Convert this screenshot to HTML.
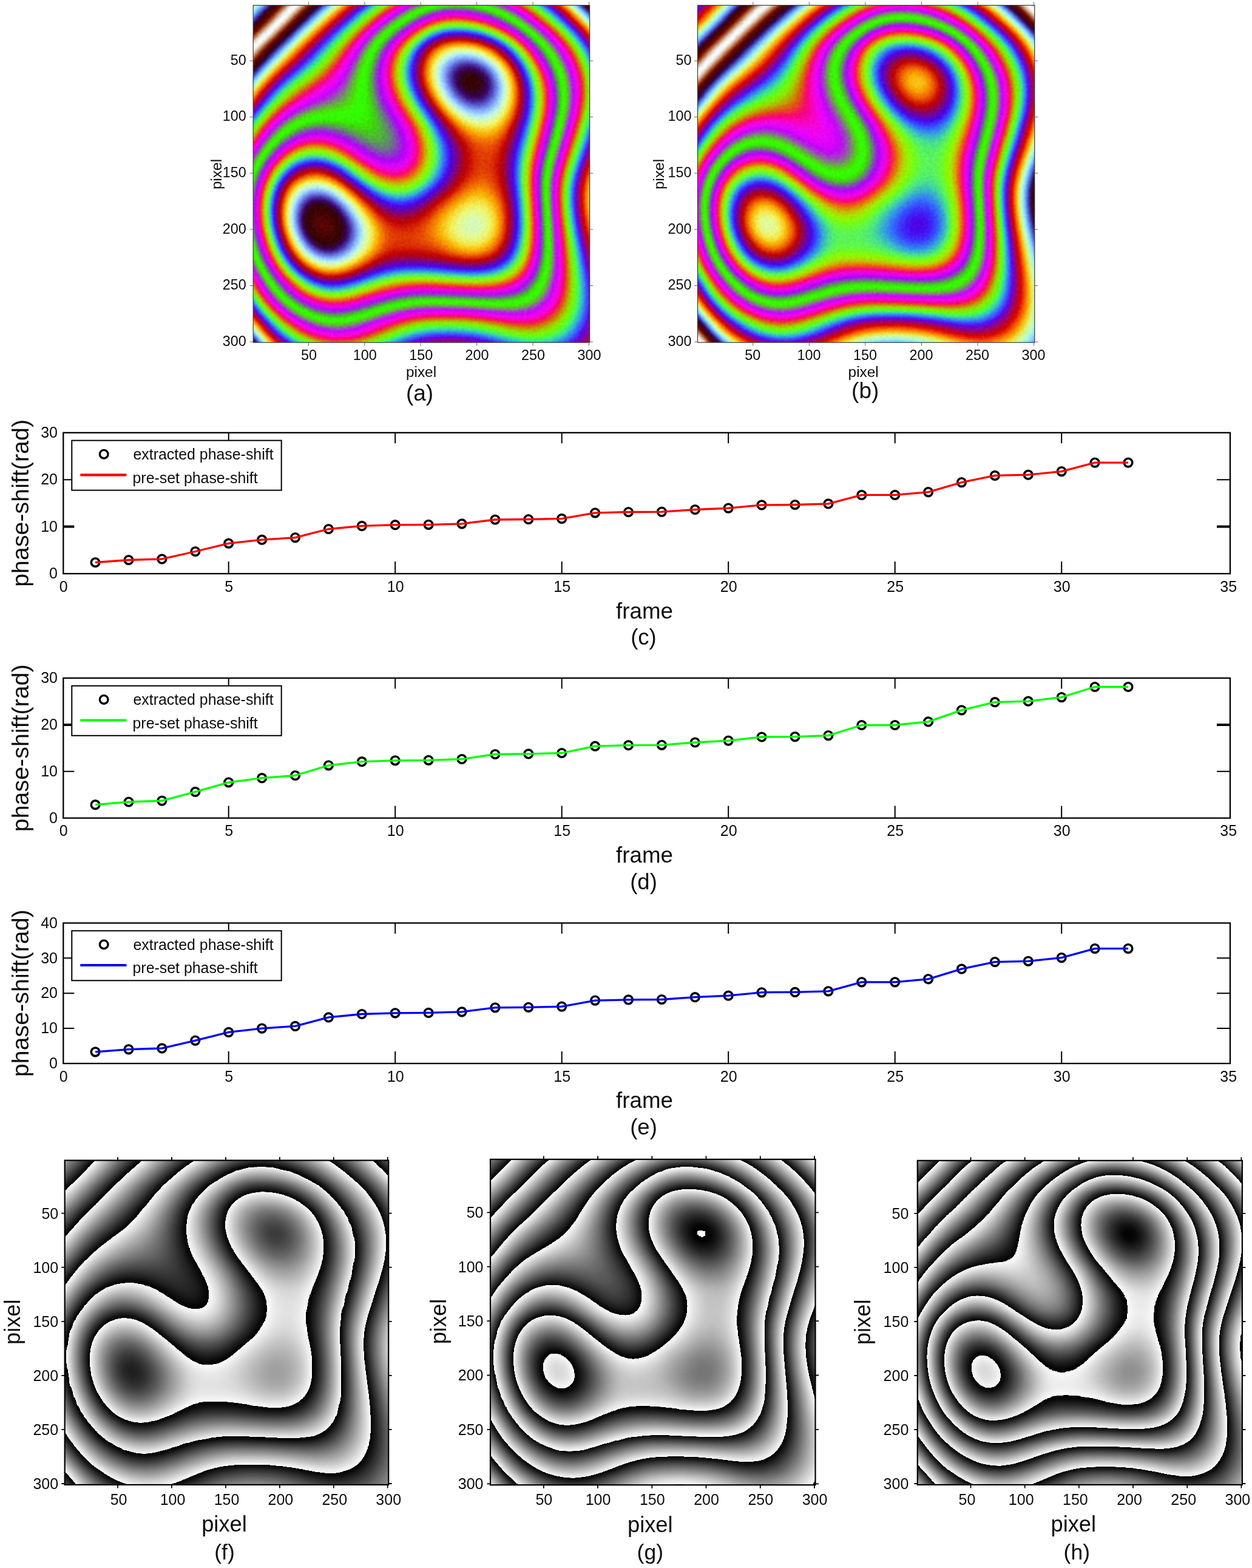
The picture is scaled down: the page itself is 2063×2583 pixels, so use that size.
<!DOCTYPE html><html lang="en"><head><meta charset="utf-8"><title>Phase-shift extraction figure</title><style>
html,body{margin:0;padding:0;background:#fff}body{width:2063px;height:2583px;position:relative;overflow:hidden;font-family:"Liberation Sans", Arial, Helvetica, sans-serif}
.pn{position:absolute;overflow:hidden;background:#888}
svg.ov{position:absolute;left:0;top:0}
.hm{position:absolute;background-image:linear-gradient(90deg,#ffffff,#ffffff,#ffffff,#ffffff,#ffffff,#ffffff,#ffffff,#ffffff,#ffffff,#fffff6,#ffffec,#ffffe1,#ffffd7,#ffffcd,#ffffc2,#ffffb8,#ffffad,#ffffa3,#ffff98,#ffff8e,#ffff84,#ffff7a,#ffff70,#ffff66,#ffff5c,#ffff53,#ffff49,#ffff40,#ffff36,#ffff2d,#ffff24,#ffff1b,#ffff12,#ffff09,#ffff00,#fff600,#ffee00,#ffe500,#ffdd00,#ffd400,#ffcc00,#ffc400,#ffbc00,#ffb400,#ffad00,#ffa500,#ff9e00,#ff9700,#ff9100,#ff8b00,#ff8500,#ff8000,#ff7b00,#ff7700,#ff7300,#ff7000,#ff6e00,#ff6d00,#ff6c00,#ff6b00,#ff6c00,#ff6d00,#ff6f00,#ff7100,#ff7400,#ff7700,#ff7b00,#ff8000,#ff8500,#ff8a00,#ff9000,#ff9600,#ff9d00,#ffa400,#ffac00,#ffb300,#ffbc00,#ffc400,#ffcd00,#ffd600,#ffdf00,#ffe900,#fff200,#fffc00,#ffff07,#ffff12,#ffff1c,#ffff27,#ffff32,#ffff3d,#ffff48,#ffff53,#ffff5d,#ffff68,#ffff72,#ffff7c,#ffff86,#ffff8f,#ffff99,#ffffa2),linear-gradient(90deg,#ffffff,#ffffff,#ffffff,#ffffff,#ffffff,#ffffff,#ffffff,#ffffff,#fffff6,#ffffec,#ffffe2,#ffffd7,#ffffcd,#ffffc2,#ffffb8,#ffffad,#ffffa2,#ffff98,#ffff8d,#ffff83,#ffff78,#ffff6e,#ffff64,#ffff5a,#ffff50,#ffff47,#ffff3d,#ffff34,#ffff2a,#ffff21,#ffff17,#ffff0e,#ffff05,#fffb00,#fff200,#ffe900,#ffe000,#ffd800,#ffcf00,#ffc700,#ffbe00,#ffb600,#ffae00,#ffa600,#ff9e00,#ff9600,#ff8f00,#ff8700,#ff8100,#ff7a00,#ff7400,#ff6f00,#ff6a00,#ff6500,#ff6200,#ff5f00,#ff5c00,#ff5b00,#ff5a00,#ff5900,#ff5a00,#ff5b00,#ff5d00,#ff5f00,#ff6200,#ff6500,#ff6a00,#ff6e00,#ff7300,#ff7900,#ff7f00,#ff8600,#ff8d00,#ff9400,#ff9c00,#ffa400,#ffac00,#ffb500,#ffbe00,#ffc700,#ffd100,#ffda00,#ffe400,#ffee00,#fff900,#ffff04,#ffff0f,#ffff1a,#ffff25,#ffff31,#ffff3c,#ffff47,#ffff52,#ffff5d,#ffff68,#ffff72,#ffff7c,#ffff86,#ffff8f,#ffff99),linear-gradient(90deg,#ffffff,#ffffff,#ffffff,#ffffff,#ffffff,#ffffff,#ffffff,#fffff7,#ffffec,#ffffe2,#ffffd8,#ffffcd,#ffffc3,#ffffb8,#ffffad,#ffffa2,#ffff97,#ffff8d,#ffff82,#ffff77,#ffff6d,#ffff63,#ffff59,#ffff4f,#ffff45,#ffff3b,#ffff31,#ffff28,#ffff1e,#ffff15,#ffff0b,#ffff02,#fff800,#ffee00,#ffe500,#ffdc00,#ffd300,#ffca00,#ffc100,#ffb900,#ffb000,#ffa800,#ff9f00,#ff9700,#ff8f00,#ff8700,#ff7f00,#ff7700,#ff7000,#ff6900,#ff6300,#ff5d00,#ff5800,#ff5400,#ff5000,#ff4c00,#ff4a00,#ff4800,#ff4700,#ff4700,#ff4700,#ff4900,#ff4a00,#ff4d00,#ff5000,#ff5400,#ff5800,#ff5d00,#ff6200,#ff6800,#ff6e00,#ff7500,#ff7c00,#ff8400,#ff8c00,#ff9400,#ff9d00,#ffa600,#ffaf00,#ffb900,#ffc200,#ffcc00,#ffd600,#ffe100,#ffeb00,#fff600,#ffff02,#ffff0d,#ffff19,#ffff24,#ffff30,#ffff3c,#ffff47,#ffff52,#ffff5d,#ffff68,#ffff72,#ffff7c,#ffff85,#ffff8f),linear-gradient(90deg,#ffffff,#ffffff,#ffffff,#ffffff,#ffffff,#ffffff,#fffff7,#ffffed,#ffffe3,#ffffd8,#ffffce,#ffffc3,#ffffb8,#ffffad,#ffffa2,#ffff97,#ffff8c,#ffff81,#ffff77,#ffff6c,#ffff62,#ffff57,#ffff4d,#ffff43,#ffff39,#ffff2f,#ffff25,#ffff1c,#ffff12,#ffff08,#fffe00,#fff400,#ffeb00,#ffe200,#ffd800,#ffcf00,#ffc600,#ffbd00,#ffb400,#ffab00,#ffa200,#ff9900,#ff9100,#ff8800,#ff8000,#ff7700,#ff6f00,#ff6700,#ff6000,#ff5900,#ff5200,#ff4c00,#ff4700,#ff4200,#ff3e00,#ff3a00,#ff3800,#ff3600,#ff3500,#ff3400,#ff3500,#ff3600,#ff3800,#ff3a00,#ff3e00,#ff4100,#ff4600,#ff4b00,#ff5000,#ff5600,#ff5d00,#ff6400,#ff6b00,#ff7300,#ff7b00,#ff8400,#ff8d00,#ff9600,#ffa000,#ffaa00,#ffb400,#ffbe00,#ffc800,#ffd200,#ffdd00,#ffe800,#fff300,#ffff00,#ffff0c,#ffff17,#ffff24,#ffff30,#ffff3c,#ffff48,#ffff53,#ffff5d,#ffff67,#ffff71,#ffff7b,#ffff85),linear-gradient(90deg,#ffffff,#ffffff,#ffffff,#ffffff,#ffffff,#fffff7,#ffffed,#ffffe3,#ffffd9,#ffffce,#ffffc3,#ffffb9,#ffffae,#ffffa2,#ffff97,#ffff8c,#ffff81,#ffff76,#ffff6b,#ffff61,#ffff56,#ffff4c,#ffff41,#ffff37,#ffff2d,#ffff23,#ffff19,#ffff10,#ffff06,#fffb00,#fff200,#ffe800,#ffdf00,#ffd500,#ffcc00,#ffc200,#ffb900,#ffaf00,#ffa600,#ff9d00,#ff9400,#ff8b00,#ff8200,#ff7900,#ff7000,#ff6800,#ff5f00,#ff5700,#ff4f00,#ff4800,#ff4100,#ff3b00,#ff3500,#ff3000,#ff2b00,#ff2800,#ff2500,#ff2300,#ff2200,#ff2200,#ff2200,#ff2300,#ff2500,#ff2800,#ff2b00,#ff2f00,#ff3400,#ff3900,#ff3f00,#ff4500,#ff4b00,#ff5300,#ff5a00,#ff6200,#ff6b00,#ff7400,#ff7d00,#ff8700,#ff9100,#ff9b00,#ffa500,#ffaf00,#ffba00,#ffc400,#ffcf00,#ffda00,#ffe600,#fff100,#fffd00,#ffff0a,#ffff17,#ffff23,#ffff30,#ffff3c,#ffff48,#ffff53,#ffff5d,#ffff67,#ffff71,#ffff7b),linear-gradient(90deg,#ffffff,#ffffff,#ffffff,#ffffff,#fffff8,#ffffee,#ffffe3,#ffffd9,#ffffcf,#ffffc4,#ffffb9,#ffffae,#ffffa3,#ffff98,#ffff8c,#ffff81,#ffff76,#ffff6b,#ffff60,#ffff55,#ffff4a,#ffff40,#ffff36,#ffff2b,#ffff21,#ffff17,#ffff0e,#ffff04,#fff900,#ffef00,#ffe600,#ffdc00,#ffd200,#ffc900,#ffbf00,#ffb500,#ffac00,#ffa200,#ff9900,#ff8f00,#ff8600,#ff7d00,#ff7400,#ff6a00,#ff6100,#ff5800,#ff4f00,#ff4700,#ff3f00,#ff3700,#ff3000,#ff2900,#ff2300,#ff1d00,#ff1900,#ff1500,#ff1200,#ff1000,#ff0f00,#ff0f00,#ff0f00,#ff1000,#ff1200,#ff1500,#ff1800,#ff1d00,#ff2100,#ff2700,#ff2c00,#ff3300,#ff3a00,#ff4100,#ff4900,#ff5200,#ff5b00,#ff6400,#ff6d00,#ff7700,#ff8100,#ff8b00,#ff9600,#ffa000,#ffab00,#ffb600,#ffc100,#ffcc00,#ffd800,#ffe400,#fff000,#fffc00,#ffff0a,#ffff17,#ffff24,#ffff30,#ffff3c,#ffff47,#ffff52,#ffff5c,#ffff67,#ffff71),linear-gradient(90deg,#ffffff,#ffffff,#ffffff,#fffff8,#ffffee,#ffffe4,#ffffd9,#ffffcf,#ffffc4,#ffffb9,#ffffae,#ffffa3,#ffff98,#ffff8d,#ffff81,#ffff76,#ffff6b,#ffff60,#ffff54,#ffff4a,#ffff3f,#ffff34,#ffff2a,#ffff20,#ffff16,#ffff0c,#ffff02,#fff700,#ffed00,#ffe400,#ffda00,#ffd000,#ffc600,#ffbc00,#ffb200,#ffa900,#ff9f00,#ff9500,#ff8b00,#ff8200,#ff7800,#ff6e00,#ff6500,#ff5b00,#ff5200,#ff4900,#ff4000,#ff3700,#ff2e00,#ff2600,#ff1f00,#ff1700,#ff1100,#ff0b00,#ff0600,#ff0200,#fe0000,#fc0000,#fb0000,#fa0000,#fb0000,#fc0000,#fe0000,#ff0200,#ff0600,#ff0a00,#ff0e00,#ff1400,#ff1a00,#ff2100,#ff2800,#ff3000,#ff3800,#ff4100,#ff4a00,#ff5300,#ff5d00,#ff6700,#ff7200,#ff7c00,#ff8700,#ff9200,#ff9d00,#ffa800,#ffb300,#ffbe00,#ffca00,#ffd600,#ffe200,#ffee00,#fffb00,#ffff09,#ffff16,#ffff23,#ffff30,#ffff3c,#ffff47,#ffff51,#ffff5c,#ffff67),linear-gradient(90deg,#ffffff,#ffffff,#fffff8,#ffffee,#ffffe4,#ffffda,#ffffcf,#ffffc5,#ffffba,#ffffaf,#ffffa4,#ffff98,#ffff8d,#ffff81,#ffff76,#ffff6b,#ffff5f,#ffff54,#ffff49,#ffff3e,#ffff33,#ffff29,#ffff1e,#ffff14,#ffff0a,#ffff00,#fff500,#ffec00,#ffe200,#ffd800,#ffce00,#ffc400,#ffba00,#ffb000,#ffa600,#ff9c00,#ff9200,#ff8800,#ff7e00,#ff7400,#ff6a00,#ff6000,#ff5600,#ff4c00,#ff4300,#ff3900,#ff3000,#ff2700,#ff1e00,#ff1500,#ff0d00,#ff0600,#fe0000,#f70000,#f20000,#ee0000,#eb0000,#e80000,#e70000,#e70000,#e70000,#e90000,#eb0000,#ee0000,#f10000,#f60000,#fa0000,#ff0100,#ff0700,#ff0e00,#ff1600,#ff1e00,#ff2700,#ff3000,#ff3900,#ff4300,#ff4d00,#ff5800,#ff6200,#ff6d00,#ff7800,#ff8300,#ff8e00,#ff9a00,#ffa500,#ffb000,#ffbc00,#ffc800,#ffd400,#ffe100,#ffee00,#fffb00,#ffff09,#ffff16,#ffff23,#ffff2f,#ffff3b,#ffff46,#ffff51,#ffff5c),linear-gradient(90deg,#ffffff,#fffff8,#ffffee,#ffffe4,#ffffda,#ffffcf,#ffffc5,#ffffba,#ffffaf,#ffffa4,#ffff99,#ffff8d,#ffff82,#ffff76,#ffff6b,#ffff5f,#ffff54,#ffff49,#ffff3e,#ffff33,#ffff28,#ffff1d,#ffff13,#ffff09,#fffe00,#fff400,#ffea00,#ffe000,#ffd600,#ffcd00,#ffc300,#ffb900,#ffaf00,#ffa400,#ff9a00,#ff9000,#ff8600,#ff7b00,#ff7100,#ff6600,#ff5c00,#ff5200,#ff4800,#ff3e00,#ff3400,#ff2a00,#ff2100,#ff1700,#ff0e00,#ff0500,#fb0000,#f30000,#ec0000,#e50000,#df0000,#db0000,#d70000,#d50000,#d40000,#d30000,#d40000,#d50000,#d70000,#da0000,#de0000,#e20000,#e70000,#ed0000,#f40000,#fb0000,#ff0400,#ff0c00,#ff1500,#ff1f00,#ff2800,#ff3300,#ff3d00,#ff4800,#ff5300,#ff5e00,#ff6900,#ff7500,#ff8000,#ff8b00,#ff9700,#ffa300,#ffaf00,#ffbb00,#ffc700,#ffd300,#ffe000,#ffed00,#fffa00,#ffff09,#ffff16,#ffff23,#ffff2f,#ffff3b,#ffff46,#ffff52),linear-gradient(90deg,#fffff8,#ffffee,#ffffe4,#ffffda,#ffffcf,#ffffc5,#ffffba,#ffffaf,#ffffa4,#ffff99,#ffff8d,#ffff82,#ffff76,#ffff6b,#ffff5f,#ffff54,#ffff49,#ffff3d,#ffff32,#ffff27,#ffff1d,#ffff12,#ffff08,#fffd00,#fff300,#ffe900,#ffdf00,#ffd500,#ffcb00,#ffc100,#ffb700,#ffad00,#ffa300,#ff9900,#ff8f00,#ff8400,#ff7a00,#ff6f00,#ff6400,#ff5900,#ff4f00,#ff4400,#ff3a00,#ff3000,#ff2600,#ff1c00,#ff1200,#ff0800,#fd0000,#f40000,#eb0000,#e20000,#da0000,#d30000,#cd0000,#c80000,#c40000,#c20000,#c00000,#c00000,#c00000,#c20000,#c40000,#c70000,#ca0000,#cf0000,#d40000,#da0000,#e10000,#e80000,#f00000,#f90000,#ff0300,#ff0d00,#ff1700,#ff2200,#ff2d00,#ff3800,#ff4400,#ff4f00,#ff5b00,#ff6600,#ff7200,#ff7e00,#ff8900,#ff9500,#ffa100,#ffad00,#ffba00,#ffc600,#ffd300,#ffe000,#ffed00,#fffb00,#ffff09,#ffff16,#ffff23,#ffff2f,#ffff3b,#ffff47),linear-gradient(90deg,#ffffee,#ffffe4,#ffffda,#ffffcf,#ffffc5,#ffffba,#ffffaf,#ffffa4,#ffff99,#ffff8e,#ffff82,#ffff77,#ffff6b,#ffff60,#ffff54,#ffff49,#ffff3d,#ffff32,#ffff27,#ffff1c,#ffff12,#ffff07,#fffc00,#fff200,#ffe800,#ffde00,#ffd400,#ffcb00,#ffc100,#ffb700,#ffad00,#ffa200,#ff9800,#ff8e00,#ff8300,#ff7900,#ff6e00,#ff6300,#ff5800,#ff4d00,#ff4200,#ff3700,#ff2d00,#ff2200,#ff1800,#ff0e00,#ff0300,#f80000,#ee0000,#e40000,#da0000,#d10000,#c80000,#c10000,#ba0000,#b50000,#b10000,#af0000,#ad0000,#ad0000,#ad0000,#ae0000,#b00000,#b30000,#b70000,#bb0000,#c00000,#c70000,#ce0000,#d50000,#de0000,#e70000,#f10000,#fb0000,#ff0600,#ff1200,#ff1d00,#ff2900,#ff3500,#ff4100,#ff4d00,#ff5800,#ff6400,#ff7000,#ff7c00,#ff8800,#ff9400,#ffa000,#ffad00,#ffb900,#ffc600,#ffd300,#ffe100,#ffee00,#fffc00,#ffff0a,#ffff17,#ffff24,#ffff31,#ffff3d),linear-gradient(90deg,#ffffe4,#ffffda,#ffffcf,#ffffc5,#ffffba,#ffffaf,#ffffa4,#ffff99,#ffff8e,#ffff82,#ffff77,#ffff6b,#ffff60,#ffff54,#ffff49,#ffff3e,#ffff32,#ffff27,#ffff1c,#ffff12,#ffff07,#fffc00,#fff200,#ffe800,#ffde00,#ffd400,#ffca00,#ffc000,#ffb600,#ffac00,#ffa200,#ff9800,#ff8e00,#ff8300,#ff7800,#ff6d00,#ff6200,#ff5700,#ff4c00,#ff4100,#ff3600,#ff2b00,#ff2000,#ff1600,#ff0b00,#ff0000,#f40000,#ea0000,#df0000,#d50000,#ca0000,#c00000,#b70000,#af0000,#a90000,#a30000,#9f0000,#9c0000,#9b0000,#9a0000,#9a0000,#9b0000,#9d0000,#a00000,#a30000,#a80000,#ad0000,#b30000,#bb0000,#c20000,#cb0000,#d50000,#df0000,#e90000,#f50000,#ff0100,#ff0d00,#ff1900,#ff2600,#ff3200,#ff3f00,#ff4b00,#ff5700,#ff6300,#ff6f00,#ff7b00,#ff8700,#ff9400,#ffa000,#ffad00,#ffba00,#ffc700,#ffd400,#ffe200,#fff000,#fffd00,#ffff0c,#ffff19,#ffff26,#ffff33),linear-gradient(90deg,#ffffda,#ffffcf,#ffffc5,#ffffba,#ffffaf,#ffffa4,#ffff99,#ffff8e,#ffff82,#ffff77,#ffff6b,#ffff60,#ffff54,#ffff49,#ffff3e,#ffff32,#ffff27,#ffff1c,#ffff12,#ffff07,#fffc00,#fff200,#ffe800,#ffde00,#ffd400,#ffca00,#ffc000,#ffb600,#ffac00,#ffa200,#ff9800,#ff8e00,#ff8300,#ff7900,#ff6e00,#ff6300,#ff5800,#ff4c00,#ff4100,#ff3600,#ff2b00,#ff2000,#ff1500,#ff0a00,#fe0000,#f20000,#e70000,#dc0000,#d10000,#c60000,#bb0000,#b00000,#a70000,#9f0000,#980000,#920000,#8e0000,#8b0000,#890000,#880000,#880000,#890000,#8b0000,#8d0000,#910000,#950000,#9b0000,#a10000,#a80000,#b00000,#b90000,#c30000,#cd0000,#d80000,#e40000,#f00000,#fc0000,#ff0a00,#ff1700,#ff2400,#ff3100,#ff3d00,#ff4a00,#ff5600,#ff6300,#ff6f00,#ff7b00,#ff8800,#ff9400,#ffa100,#ffae00,#ffbc00,#ffc900,#ffd700,#ffe400,#fff200,#ffff01,#ffff0f,#ffff1c,#ffff2a),linear-gradient(90deg,#ffffd0,#ffffc5,#ffffba,#ffffaf,#ffffa4,#ffff99,#ffff8e,#ffff82,#ffff77,#ffff6b,#ffff60,#ffff55,#ffff49,#ffff3e,#ffff33,#ffff28,#ffff1d,#ffff12,#ffff07,#fffc00,#fff200,#ffe800,#ffde00,#ffd400,#ffca00,#ffc100,#ffb700,#ffad00,#ffa300,#ff9900,#ff8f00,#ff8500,#ff7a00,#ff6f00,#ff6400,#ff5900,#ff4e00,#ff4200,#ff3700,#ff2b00,#ff2000,#ff1500,#ff0a00,#fd0000,#f20000,#e60000,#db0000,#cf0000,#c30000,#b70000,#ac0000,#a10000,#980000,#8f0000,#880000,#820000,#7e0000,#7b0000,#780000,#770000,#770000,#780000,#790000,#7c0000,#7f0000,#830000,#890000,#8f0000,#960000,#9e0000,#a70000,#b10000,#bc0000,#c70000,#d30000,#e00000,#ed0000,#fa0000,#ff0800,#ff1600,#ff2300,#ff3100,#ff3e00,#ff4a00,#ff5700,#ff6300,#ff7000,#ff7c00,#ff8900,#ff9600,#ffa300,#ffb100,#ffbe00,#ffcc00,#ffda00,#ffe800,#fff600,#ffff05,#ffff13,#ffff20),linear-gradient(90deg,#ffffc5,#ffffba,#ffffaf,#ffffa4,#ffff99,#ffff8e,#ffff82,#ffff77,#ffff6b,#ffff60,#ffff55,#ffff49,#ffff3e,#ffff33,#ffff28,#ffff1d,#ffff12,#ffff07,#fffc00,#fff200,#ffe800,#ffde00,#ffd400,#ffcb00,#ffc100,#ffb700,#ffae00,#ffa400,#ff9a00,#ff9000,#ff8600,#ff7c00,#ff7100,#ff6600,#ff5b00,#ff5000,#ff4500,#ff3900,#ff2e00,#ff2200,#ff1700,#ff0b00,#ff0000,#f30000,#e70000,#db0000,#cf0000,#c30000,#b60000,#aa0000,#9e0000,#940000,#8a0000,#810000,#7a0000,#740000,#6f0000,#6c0000,#690000,#680000,#670000,#680000,#690000,#6b0000,#6e0000,#730000,#780000,#7e0000,#850000,#8d0000,#960000,#a00000,#ab0000,#b70000,#c30000,#d00000,#de0000,#eb0000,#f90000,#ff0800,#ff1600,#ff2400,#ff3100,#ff3f00,#ff4b00,#ff5800,#ff6500,#ff7200,#ff7e00,#ff8c00,#ff9900,#ffa600,#ffb400,#ffc200,#ffd000,#ffde00,#ffed00,#fffb00,#ffff0a,#ffff18),linear-gradient(90deg,#ffffbb,#ffffb0,#ffffa5,#ffff9a,#ffff8e,#ffff83,#ffff77,#ffff6c,#ffff60,#ffff55,#ffff49,#ffff3e,#ffff33,#ffff28,#ffff1d,#ffff12,#ffff07,#fffc00,#fff200,#ffe800,#ffde00,#ffd500,#ffcb00,#ffc200,#ffb800,#ffaf00,#ffa500,#ff9c00,#ff9200,#ff8800,#ff7e00,#ff7300,#ff6900,#ff5e00,#ff5300,#ff4800,#ff3c00,#ff3100,#ff2500,#ff1a00,#ff0e00,#ff0200,#f50000,#ea0000,#de0000,#d10000,#c50000,#b80000,#ab0000,#9f0000,#920000,#870000,#7e0000,#750000,#6e0000,#670000,#620000,#5e0000,#5c0000,#5a0000,#590000,#590000,#5a0000,#5c0000,#5f0000,#630000,#680000,#6e0000,#750000,#7d0000,#860000,#910000,#9c0000,#a70000,#b40000,#c10000,#cf0000,#dd0000,#ec0000,#fa0000,#ff0900,#ff1800,#ff2600,#ff3300,#ff4100,#ff4e00,#ff5b00,#ff6700,#ff7400,#ff8200,#ff8f00,#ff9d00,#ffab00,#ffb900,#ffc700,#ffd500,#ffe400,#fff200,#ffff02,#ffff10),linear-gradient(90deg,#ffffb1,#ffffa6,#ffff9a,#ffff8f,#ffff83,#ffff78,#ffff6c,#ffff60,#ffff55,#ffff49,#ffff3e,#ffff33,#ffff28,#ffff1d,#ffff12,#ffff07,#fffc00,#fff200,#ffe800,#ffde00,#ffd500,#ffcb00,#ffc200,#ffb900,#ffb000,#ffa600,#ff9d00,#ff9400,#ff8a00,#ff8000,#ff7600,#ff6c00,#ff6100,#ff5700,#ff4c00,#ff4000,#ff3500,#ff2a00,#ff1e00,#ff1200,#ff0600,#fa0000,#ee0000,#e10000,#d50000,#c80000,#bc0000,#ae0000,#a10000,#950000,#880000,#7d0000,#730000,#6a0000,#630000,#5c0000,#570000,#530000,#4f0000,#4d0000,#4c0000,#4c0000,#4c0000,#4e0000,#510000,#550000,#5a0000,#600000,#670000,#6f0000,#780000,#820000,#8d0000,#990000,#a60000,#b30000,#c10000,#d00000,#df0000,#ed0000,#fc0000,#ff0c00,#ff1a00,#ff2800,#ff3600,#ff4400,#ff5100,#ff5e00,#ff6b00,#ff7900,#ff8600,#ff9400,#ffa200,#ffb000,#ffbf00,#ffcd00,#ffdc00,#ffea00,#fff900,#ffff08),linear-gradient(90deg,#ffffa7,#ffff9b,#ffff90,#ffff84,#ffff78,#ffff6d,#ffff61,#ffff55,#ffff4a,#ffff3e,#ffff33,#ffff28,#ffff1d,#ffff12,#ffff07,#fffc00,#fff200,#ffe800,#ffde00,#ffd500,#ffcc00,#ffc200,#ffb900,#ffb000,#ffa700,#ff9e00,#ff9500,#ff8c00,#ff8300,#ff7900,#ff6f00,#ff6500,#ff5b00,#ff5000,#ff4500,#ff3a00,#ff2f00,#ff2300,#ff1800,#ff0c00,#ff0000,#f30000,#e70000,#da0000,#ce0000,#c10000,#b40000,#a70000,#990000,#8c0000,#800000,#750000,#6b0000,#620000,#5a0000,#530000,#4d0000,#490000,#450000,#420000,#400000,#400000,#400000,#420000,#440000,#480000,#4d0000,#530000,#5a0000,#620000,#6b0000,#750000,#800000,#8c0000,#980000,#a60000,#b50000,#c30000,#d20000,#e10000,#f10000,#ff0100,#ff1000,#ff1e00,#ff2c00,#ff3a00,#ff4800,#ff5500,#ff6300,#ff7000,#ff7e00,#ff8c00,#ff9a00,#ffa800,#ffb700,#ffc600,#ffd400,#ffe300,#fff200,#ffff01),linear-gradient(90deg,#ffff9c,#ffff91,#ffff85,#ffff7a,#ffff6e,#ffff62,#ffff56,#ffff4b,#ffff3f,#ffff33,#ffff28,#ffff1d,#ffff12,#ffff07,#fffc00,#fff200,#ffe800,#ffde00,#ffd500,#ffcc00,#ffc300,#ffba00,#ffb100,#ffa800,#ffa000,#ff9700,#ff8e00,#ff8500,#ff7c00,#ff7200,#ff6900,#ff5f00,#ff5500,#ff4a00,#ff4000,#ff3500,#ff2a00,#ff1e00,#ff1300,#ff0700,#fa0000,#ee0000,#e10000,#d50000,#c80000,#bb0000,#ae0000,#a10000,#930000,#860000,#7a0000,#6f0000,#640000,#5b0000,#530000,#4b0000,#450000,#400000,#3c0000,#380000,#360000,#350000,#350000,#370000,#390000,#3d0000,#410000,#470000,#4e0000,#560000,#5f0000,#690000,#740000,#800000,#8d0000,#9a0000,#a90000,#b80000,#c70000,#d60000,#e60000,#f50000,#ff0500,#ff1400,#ff2300,#ff3100,#ff3f00,#ff4d00,#ff5b00,#ff6800,#ff7600,#ff8400,#ff9300,#ffa100,#ffb000,#ffbf00,#ffce00,#ffdd00,#ffeb00,#fffa00),linear-gradient(90deg,#ffff92,#ffff87,#ffff7b,#ffff6f,#ffff63,#ffff57,#ffff4b,#ffff40,#ffff34,#ffff28,#ffff1d,#ffff12,#ffff07,#fffb00,#fff100,#ffe700,#ffde00,#ffd400,#ffcb00,#ffc200,#ffba00,#ffb100,#ffa900,#ffa000,#ff9800,#ff9000,#ff8700,#ff7e00,#ff7600,#ff6c00,#ff6300,#ff5900,#ff4f00,#ff4500,#ff3b00,#ff3000,#ff2500,#ff1a00,#ff0f00,#ff0300,#f60000,#ea0000,#dd0000,#d10000,#c40000,#b70000,#a90000,#9c0000,#8f0000,#820000,#760000,#6a0000,#5f0000,#560000,#4d0000,#450000,#3f0000,#390000,#340000,#300000,#2e0000,#2c0000,#2c0000,#2d0000,#2f0000,#330000,#370000,#3d0000,#440000,#4c0000,#550000,#5e0000,#690000,#750000,#820000,#900000,#9e0000,#ad0000,#bd0000,#cc0000,#dc0000,#ec0000,#fb0000,#ff0b00,#ff1b00,#ff2900,#ff3800,#ff4600,#ff5400,#ff6100,#ff6f00,#ff7e00,#ff8c00,#ff9b00,#ffaa00,#ffb900,#ffc800,#ffd700,#ffe600,#fff500),linear-gradient(90deg,#ffff88,#ffff7c,#ffff71,#ffff65,#ffff59,#ffff4d,#ffff41,#ffff35,#ffff29,#ffff1e,#ffff12,#ffff07,#fffb00,#fff100,#ffe700,#ffdd00,#ffd400,#ffcb00,#ffc200,#ffb900,#ffb100,#ffa900,#ffa100,#ff9900,#ff9100,#ff8900,#ff8000,#ff7800,#ff7000,#ff6700,#ff5e00,#ff5400,#ff4b00,#ff4100,#ff3700,#ff2c00,#ff2200,#ff1700,#ff0c00,#ff0000,#f30000,#e70000,#da0000,#ce0000,#c10000,#b30000,#a60000,#990000,#8c0000,#7f0000,#720000,#670000,#5c0000,#520000,#490000,#410000,#390000,#330000,#2e0000,#2a0000,#270000,#250000,#240000,#250000,#270000,#2a0000,#2e0000,#340000,#3b0000,#430000,#4c0000,#560000,#600000,#6c0000,#790000,#860000,#950000,#a40000,#b30000,#c30000,#d30000,#e30000,#f30000,#ff0300,#ff1300,#ff2200,#ff3100,#ff3f00,#ff4d00,#ff5b00,#ff6900,#ff7800,#ff8600,#ff9500,#ffa400,#ffb300,#ffc200,#ffd100,#ffe100,#fff000),linear-gradient(90deg,#ffff7e,#ffff72,#ffff66,#ffff5a,#ffff4e,#ffff42,#ffff36,#ffff2a,#ffff1e,#ffff13,#ffff07,#fffb00,#fff100,#ffe600,#ffdc00,#ffd300,#ffca00,#ffc100,#ffb900,#ffb000,#ffa800,#ffa000,#ff9900,#ff9100,#ff8900,#ff8200,#ff7a00,#ff7200,#ff6a00,#ff6200,#ff5900,#ff5000,#ff4700,#ff3d00,#ff3400,#ff2a00,#ff1f00,#ff1500,#ff0a00,#fd0000,#f10000,#e50000,#d90000,#cc0000,#bf0000,#b20000,#a40000,#970000,#8a0000,#7d0000,#710000,#650000,#5a0000,#4f0000,#460000,#3d0000,#360000,#2f0000,#290000,#250000,#210000,#1f0000,#1e0000,#1e0000,#200000,#230000,#270000,#2d0000,#330000,#3b0000,#440000,#4e0000,#590000,#640000,#710000,#7e0000,#8d0000,#9c0000,#ab0000,#bb0000,#cb0000,#db0000,#eb0000,#fb0000,#ff0c00,#ff1b00,#ff2a00,#ff3900,#ff4700,#ff5600,#ff6400,#ff7200,#ff8100,#ff9000,#ff9f00,#ffae00,#ffbe00,#ffcd00,#ffdc00,#ffeb00),linear-gradient(90deg,#ffff74,#ffff68,#ffff5c,#ffff50,#ffff44,#ffff38,#ffff2c,#ffff20,#ffff14,#ffff08,#fffc00,#fff100,#ffe600,#ffdc00,#ffd200,#ffc900,#ffc000,#ffb700,#ffaf00,#ffa700,#ffa000,#ff9800,#ff9100,#ff8a00,#ff8200,#ff7b00,#ff7400,#ff6c00,#ff6500,#ff5d00,#ff5500,#ff4c00,#ff4400,#ff3a00,#ff3100,#ff2700,#ff1d00,#ff1300,#ff0800,#fc0000,#f00000,#e40000,#d80000,#cb0000,#be0000,#b10000,#a40000,#970000,#8a0000,#7d0000,#700000,#640000,#590000,#4e0000,#450000,#3c0000,#340000,#2d0000,#260000,#210000,#1d0000,#1a0000,#190000,#180000,#1a0000,#1d0000,#210000,#270000,#2d0000,#350000,#3e0000,#480000,#530000,#5e0000,#6b0000,#780000,#860000,#950000,#a40000,#b40000,#c40000,#d40000,#e40000,#f50000,#ff0500,#ff1500,#ff2500,#ff3400,#ff4200,#ff5100,#ff5f00,#ff6e00,#ff7d00,#ff8c00,#ff9b00,#ffaa00,#ffba00,#ffc900,#ffd900,#ffe800),linear-gradient(90deg,#ffff6b,#ffff5e,#ffff52,#ffff46,#ffff3a,#ffff2e,#ffff21,#ffff15,#ffff09,#fffc00,#fff100,#ffe600,#ffdb00,#ffd100,#ffc800,#ffbf00,#ffb600,#ffae00,#ffa600,#ff9e00,#ff9700,#ff9000,#ff8900,#ff8200,#ff7c00,#ff7500,#ff6e00,#ff6700,#ff6000,#ff5800,#ff5100,#ff4900,#ff4100,#ff3800,#ff2f00,#ff2600,#ff1c00,#ff1200,#ff0800,#fc0000,#f00000,#e50000,#d80000,#cc0000,#bf0000,#b20000,#a50000,#970000,#8a0000,#7d0000,#710000,#650000,#590000,#4f0000,#450000,#3b0000,#330000,#2b0000,#250000,#1f0000,#1b0000,#170000,#150000,#150000,#160000,#190000,#1d0000,#220000,#290000,#310000,#390000,#430000,#4e0000,#590000,#650000,#720000,#800000,#8f0000,#9e0000,#ae0000,#be0000,#ce0000,#df0000,#ef0000,#ff0000,#ff1000,#ff2000,#ff2f00,#ff3e00,#ff4d00,#ff5c00,#ff6a00,#ff7900,#ff8800,#ff9800,#ffa700,#ffb700,#ffc600,#ffd600,#ffe500),linear-gradient(90deg,#ffff61,#ffff54,#ffff48,#ffff3c,#ffff30,#ffff23,#ffff17,#ffff0b,#fffe00,#fff200,#ffe600,#ffdb00,#ffd100,#ffc700,#ffbd00,#ffb500,#ffac00,#ffa400,#ff9d00,#ff9500,#ff8f00,#ff8800,#ff8100,#ff7b00,#ff7500,#ff6e00,#ff6800,#ff6200,#ff5b00,#ff5400,#ff4d00,#ff4600,#ff3e00,#ff3600,#ff2e00,#ff2500,#ff1c00,#ff1200,#ff0800,#fc0000,#f10000,#e60000,#da0000,#cd0000,#c10000,#b40000,#a70000,#990000,#8c0000,#7f0000,#730000,#660000,#5b0000,#500000,#460000,#3c0000,#340000,#2c0000,#250000,#1f0000,#1a0000,#160000,#130000,#130000,#130000,#160000,#1a0000,#1f0000,#260000,#2e0000,#360000,#400000,#4a0000,#550000,#610000,#6e0000,#7c0000,#8b0000,#9a0000,#a90000,#b90000,#ca0000,#da0000,#ea0000,#fa0000,#ff0c00,#ff1c00,#ff2b00,#ff3b00,#ff4a00,#ff5900,#ff6800,#ff7700,#ff8600,#ff9500,#ffa500,#ffb400,#ffc400,#ffd300,#ffe300),linear-gradient(90deg,#ffff57,#ffff4b,#ffff3e,#ffff32,#ffff25,#ffff19,#ffff0d,#ffff00,#fff300,#ffe700,#ffdc00,#ffd100,#ffc600,#ffbc00,#ffb300,#ffaa00,#ffa200,#ff9b00,#ff9300,#ff8d00,#ff8600,#ff8000,#ff7a00,#ff7400,#ff6e00,#ff6800,#ff6300,#ff5d00,#ff5700,#ff5100,#ff4a00,#ff4300,#ff3c00,#ff3500,#ff2d00,#ff2500,#ff1c00,#ff1300,#ff0900,#fe0000,#f30000,#e80000,#dc0000,#d00000,#c30000,#b60000,#a90000,#9c0000,#8f0000,#820000,#750000,#690000,#5e0000,#530000,#480000,#3f0000,#360000,#2d0000,#260000,#200000,#1a0000,#160000,#130000,#120000,#130000,#150000,#190000,#1e0000,#240000,#2c0000,#340000,#3d0000,#480000,#530000,#5f0000,#6b0000,#790000,#870000,#960000,#a60000,#b60000,#c60000,#d60000,#e60000,#f70000,#ff0800,#ff1800,#ff2800,#ff3800,#ff4700,#ff5600,#ff6500,#ff7500,#ff8400,#ff9400,#ffa300,#ffb300,#ffc200,#ffd200,#ffe100),linear-gradient(90deg,#ffff4d,#ffff41,#ffff34,#ffff28,#ffff1b,#ffff0f,#ffff02,#fff500,#ffe900,#ffdd00,#ffd100,#ffc600,#ffbc00,#ffb200,#ffa900,#ffa000,#ff9800,#ff9100,#ff8a00,#ff8400,#ff7d00,#ff7700,#ff7200,#ff6c00,#ff6700,#ff6200,#ff5d00,#ff5800,#ff5300,#ff4d00,#ff4700,#ff4100,#ff3b00,#ff3400,#ff2c00,#ff2500,#ff1c00,#ff1400,#ff0a00,#ff0100,#f50000,#ea0000,#df0000,#d30000,#c70000,#ba0000,#ad0000,#a00000,#930000,#860000,#7a0000,#6d0000,#620000,#560000,#4c0000,#420000,#390000,#310000,#290000,#220000,#1d0000,#180000,#150000,#140000,#140000,#160000,#1a0000,#1e0000,#240000,#2b0000,#330000,#3c0000,#460000,#510000,#5d0000,#690000,#770000,#850000,#940000,#a30000,#b30000,#c30000,#d30000,#e30000,#f40000,#ff0500,#ff1600,#ff2600,#ff3600,#ff4500,#ff5500,#ff6400,#ff7300,#ff8300,#ff9300,#ffa200,#ffb200,#ffc100,#ffd100,#ffe000),linear-gradient(90deg,#ffff44,#ffff37,#ffff2b,#ffff1e,#ffff11,#ffff05,#fff700,#ffea00,#ffde00,#ffd200,#ffc700,#ffbc00,#ffb100,#ffa800,#ff9f00,#ff9600,#ff8f00,#ff8700,#ff8100,#ff7b00,#ff7500,#ff6f00,#ff6a00,#ff6500,#ff6100,#ff5c00,#ff5800,#ff5300,#ff4e00,#ff4a00,#ff4400,#ff3f00,#ff3900,#ff3300,#ff2c00,#ff2500,#ff1d00,#ff1500,#ff0c00,#ff0300,#f80000,#ed0000,#e20000,#d70000,#cb0000,#bf0000,#b20000,#a50000,#980000,#8b0000,#7f0000,#720000,#660000,#5b0000,#510000,#470000,#3d0000,#350000,#2d0000,#260000,#210000,#1c0000,#190000,#170000,#170000,#190000,#1c0000,#200000,#260000,#2c0000,#340000,#3d0000,#460000,#510000,#5c0000,#680000,#750000,#830000,#920000,#a10000,#b10000,#c10000,#d10000,#e10000,#f20000,#ff0300,#ff1400,#ff2400,#ff3400,#ff4400,#ff5400,#ff6300,#ff7300,#ff8300,#ff9200,#ffa200,#ffb200,#ffc100,#ffd100,#ffe000),linear-gradient(90deg,#ffff3a,#ffff2d,#ffff21,#ffff14,#ffff07,#fffa00,#ffed00,#ffe000,#ffd400,#ffc800,#ffbc00,#ffb100,#ffa700,#ff9d00,#ff9400,#ff8c00,#ff8500,#ff7e00,#ff7700,#ff7100,#ff6c00,#ff6700,#ff6200,#ff5e00,#ff5a00,#ff5600,#ff5200,#ff4e00,#ff4a00,#ff4600,#ff4200,#ff3d00,#ff3800,#ff3200,#ff2c00,#ff2500,#ff1e00,#ff1700,#ff0e00,#ff0500,#fb0000,#f10000,#e70000,#db0000,#d00000,#c40000,#b70000,#ab0000,#9e0000,#910000,#840000,#780000,#6c0000,#610000,#560000,#4c0000,#430000,#3a0000,#320000,#2b0000,#260000,#210000,#1e0000,#1c0000,#1b0000,#1d0000,#1f0000,#230000,#280000,#2e0000,#360000,#3e0000,#470000,#510000,#5c0000,#680000,#750000,#830000,#910000,#a00000,#b00000,#bf0000,#d00000,#e00000,#f10000,#ff0200,#ff1300,#ff2300,#ff3400,#ff4400,#ff5400,#ff6300,#ff7300,#ff8300,#ff9300,#ffa200,#ffb200,#ffc100,#ffd100,#ffe000),linear-gradient(90deg,#ffff30,#ffff24,#ffff17,#ffff0a,#fffc00,#ffef00,#ffe300,#ffd600,#ffc900,#ffbd00,#ffb100,#ffa600,#ff9c00,#ff9300,#ff8a00,#ff8200,#ff7b00,#ff7400,#ff6e00,#ff6800,#ff6300,#ff5f00,#ff5a00,#ff5700,#ff5300,#ff5000,#ff4c00,#ff4900,#ff4600,#ff4200,#ff3f00,#ff3b00,#ff3600,#ff3100,#ff2c00,#ff2600,#ff1f00,#ff1800,#ff1100,#ff0800,#ff0000,#f50000,#eb0000,#e00000,#d50000,#ca0000,#be0000,#b10000,#a40000,#980000,#8b0000,#7f0000,#730000,#680000,#5d0000,#530000,#490000,#400000,#380000,#310000,#2c0000,#270000,#230000,#210000,#210000,#210000,#230000,#270000,#2c0000,#310000,#380000,#400000,#490000,#530000,#5d0000,#690000,#750000,#830000,#910000,#a00000,#af0000,#bf0000,#cf0000,#e00000,#f00000,#ff0200,#ff1300,#ff2300,#ff3400,#ff4400,#ff5400,#ff6400,#ff7400,#ff8400,#ff9400,#ffa300,#ffb300,#ffc200,#ffd200,#ffe100),linear-gradient(90deg,#ffff27,#ffff1a,#ffff0d,#ffff00,#fff200,#ffe500,#ffd800,#ffcb00,#ffbf00,#ffb300,#ffa700,#ff9c00,#ff9200,#ff8800,#ff8000,#ff7800,#ff7100,#ff6a00,#ff6400,#ff5f00,#ff5a00,#ff5600,#ff5200,#ff4f00,#ff4c00,#ff4900,#ff4700,#ff4400,#ff4200,#ff3f00,#ff3c00,#ff3900,#ff3500,#ff3100,#ff2c00,#ff2600,#ff2000,#ff1a00,#ff1300,#ff0b00,#ff0300,#f90000,#f00000,#e60000,#db0000,#d00000,#c40000,#b80000,#ac0000,#9f0000,#920000,#860000,#7a0000,#6f0000,#640000,#5a0000,#500000,#470000,#3f0000,#380000,#320000,#2d0000,#2a0000,#270000,#270000,#270000,#290000,#2c0000,#300000,#350000,#3b0000,#430000,#4b0000,#550000,#5f0000,#6a0000,#770000,#840000,#920000,#a00000,#b00000,#bf0000,#cf0000,#e00000,#f00000,#ff0200,#ff1300,#ff2400,#ff3500,#ff4500,#ff5500,#ff6600,#ff7600,#ff8500,#ff9500,#ffa500,#ffb500,#ffc400,#ffd300,#ffe200),linear-gradient(90deg,#ffff1d,#ffff10,#ffff03,#fff500,#ffe800,#ffdb00,#ffce00,#ffc100,#ffb400,#ffa800,#ff9c00,#ff9100,#ff8700,#ff7e00,#ff7500,#ff6e00,#ff6700,#ff6000,#ff5b00,#ff5600,#ff5100,#ff4d00,#ff4a00,#ff4700,#ff4500,#ff4300,#ff4100,#ff3f00,#ff3d00,#ff3b00,#ff3900,#ff3600,#ff3300,#ff3000,#ff2b00,#ff2700,#ff2100,#ff1c00,#ff1500,#ff0e00,#ff0700,#fe0000,#f50000,#eb0000,#e10000,#d60000,#cb0000,#bf0000,#b30000,#a60000,#9a0000,#8e0000,#820000,#760000,#6b0000,#610000,#570000,#4f0000,#470000,#3f0000,#390000,#350000,#310000,#2e0000,#2d0000,#2d0000,#2e0000,#310000,#350000,#390000,#3f0000,#460000,#4e0000,#570000,#610000,#6c0000,#780000,#850000,#930000,#a10000,#b10000,#c00000,#d00000,#e10000,#f20000,#ff0300,#ff1400,#ff2500,#ff3600,#ff4700,#ff5700,#ff6800,#ff7800,#ff8800,#ff9800,#ffa700,#ffb700,#ffc600,#ffd500,#ffe400),linear-gradient(90deg,#ffff14,#ffff06,#fff800,#ffeb00,#ffde00,#ffd000,#ffc300,#ffb600,#ffa900,#ff9d00,#ff9200,#ff8700,#ff7d00,#ff7300,#ff6b00,#ff6300,#ff5c00,#ff5600,#ff5100,#ff4c00,#ff4800,#ff4400,#ff4200,#ff3f00,#ff3d00,#ff3c00,#ff3a00,#ff3900,#ff3800,#ff3700,#ff3500,#ff3300,#ff3100,#ff2e00,#ff2b00,#ff2700,#ff2200,#ff1d00,#ff1800,#ff1100,#ff0a00,#ff0300,#fa0000,#f10000,#e70000,#dd0000,#d20000,#c60000,#ba0000,#ae0000,#a20000,#960000,#8a0000,#7e0000,#730000,#690000,#5f0000,#560000,#4e0000,#470000,#410000,#3c0000,#380000,#360000,#340000,#340000,#350000,#370000,#3a0000,#3e0000,#440000,#4a0000,#520000,#5b0000,#640000,#6f0000,#7b0000,#870000,#950000,#a30000,#b20000,#c20000,#d20000,#e30000,#f30000,#ff0500,#ff1600,#ff2700,#ff3800,#ff4900,#ff5a00,#ff6a00,#ff7a00,#ff8a00,#ff9a00,#ffaa00,#ffb900,#ffc900,#ffd800,#ffe600),linear-gradient(90deg,#ffff0a,#fffc00,#ffee00,#ffe100,#ffd300,#ffc600,#ffb900,#ffac00,#ff9f00,#ff9300,#ff8700,#ff7c00,#ff7200,#ff6900,#ff6000,#ff5900,#ff5200,#ff4c00,#ff4600,#ff4200,#ff3e00,#ff3b00,#ff3900,#ff3700,#ff3500,#ff3400,#ff3400,#ff3300,#ff3300,#ff3200,#ff3100,#ff3000,#ff2e00,#ff2c00,#ff2a00,#ff2700,#ff2300,#ff1e00,#ff1a00,#ff1400,#ff0e00,#ff0700,#fe0000,#f60000,#ed0000,#e30000,#d80000,#cd0000,#c20000,#b60000,#aa0000,#9e0000,#920000,#860000,#7b0000,#710000,#670000,#5e0000,#560000,#4f0000,#490000,#440000,#400000,#3d0000,#3b0000,#3b0000,#3b0000,#3d0000,#400000,#440000,#490000,#4f0000,#560000,#5e0000,#680000,#720000,#7d0000,#8a0000,#970000,#a60000,#b50000,#c40000,#d40000,#e50000,#f60000,#ff0800,#ff1900,#ff2a00,#ff3b00,#ff4c00,#ff5d00,#ff6d00,#ff7e00,#ff8e00,#ff9e00,#ffad00,#ffbc00,#ffcc00,#ffdb00,#ffe900),linear-gradient(90deg,#ffff01,#fff200,#ffe400,#ffd700,#ffc900,#ffbc00,#ffae00,#ffa100,#ff9400,#ff8800,#ff7c00,#ff7100,#ff6700,#ff5e00,#ff5500,#ff4e00,#ff4700,#ff4100,#ff3c00,#ff3800,#ff3400,#ff3200,#ff3000,#ff2e00,#ff2d00,#ff2d00,#ff2d00,#ff2d00,#ff2d00,#ff2d00,#ff2d00,#ff2c00,#ff2b00,#ff2a00,#ff2800,#ff2600,#ff2300,#ff1f00,#ff1b00,#ff1600,#ff1100,#ff0b00,#ff0400,#fb0000,#f20000,#e90000,#df0000,#d40000,#c90000,#bd0000,#b10000,#a50000,#9a0000,#8e0000,#830000,#790000,#6f0000,#660000,#5e0000,#570000,#510000,#4b0000,#470000,#440000,#420000,#420000,#420000,#430000,#460000,#490000,#4e0000,#530000,#5a0000,#620000,#6b0000,#750000,#810000,#8d0000,#9a0000,#a80000,#b70000,#c70000,#d70000,#e80000,#f90000,#ff0b00,#ff1c00,#ff2d00,#ff3f00,#ff5000,#ff6000,#ff7100,#ff8100,#ff9100,#ffa100,#ffb100,#ffc000,#ffcf00,#ffde00,#ffec00),linear-gradient(90deg,#fff600,#ffe900,#ffdb00,#ffcd00,#ffbf00,#ffb100,#ffa400,#ff9700,#ff8a00,#ff7d00,#ff7200,#ff6600,#ff5c00,#ff5300,#ff4a00,#ff4300,#ff3c00,#ff3600,#ff3100,#ff2d00,#ff2a00,#ff2800,#ff2600,#ff2500,#ff2500,#ff2500,#ff2500,#ff2600,#ff2600,#ff2700,#ff2800,#ff2800,#ff2800,#ff2800,#ff2600,#ff2500,#ff2300,#ff2000,#ff1c00,#ff1800,#ff1400,#ff0e00,#ff0800,#ff0000,#f70000,#ef0000,#e50000,#db0000,#d00000,#c40000,#b90000,#ad0000,#a10000,#960000,#8b0000,#800000,#770000,#6e0000,#660000,#5e0000,#580000,#530000,#4f0000,#4c0000,#4a0000,#490000,#490000,#4a0000,#4c0000,#4f0000,#530000,#580000,#5f0000,#660000,#6f0000,#790000,#840000,#900000,#9d0000,#ac0000,#bb0000,#ca0000,#da0000,#eb0000,#fc0000,#ff0e00,#ff2000,#ff3100,#ff4200,#ff5300,#ff6400,#ff7500,#ff8500,#ff9600,#ffa500,#ffb500,#ffc400,#ffd300,#ffe100,#fff000),linear-gradient(90deg,#ffed00,#ffdf00,#ffd100,#ffc300,#ffb500,#ffa700,#ff9900,#ff8c00,#ff7f00,#ff7200,#ff6700,#ff5b00,#ff5100,#ff4700,#ff3f00,#ff3700,#ff3100,#ff2b00,#ff2600,#ff2200,#ff1f00,#ff1d00,#ff1c00,#ff1b00,#ff1b00,#ff1c00,#ff1d00,#ff1e00,#ff2000,#ff2100,#ff2200,#ff2300,#ff2400,#ff2400,#ff2400,#ff2300,#ff2200,#ff2000,#ff1d00,#ff1a00,#ff1600,#ff1100,#ff0b00,#ff0400,#fc0000,#f40000,#ea0000,#e10000,#d60000,#cb0000,#c00000,#b40000,#a80000,#9d0000,#920000,#870000,#7e0000,#750000,#6d0000,#660000,#5f0000,#5a0000,#560000,#530000,#510000,#4f0000,#4f0000,#500000,#510000,#540000,#580000,#5d0000,#630000,#6a0000,#730000,#7d0000,#880000,#940000,#a10000,#af0000,#be0000,#ce0000,#de0000,#ef0000,#ff0100,#ff1200,#ff2400,#ff3500,#ff4700,#ff5800,#ff6900,#ff7a00,#ff8a00,#ff9a00,#ffaa00,#ffb900,#ffc800,#ffd700,#ffe500,#fff300),linear-gradient(90deg,#ffe400,#ffd600,#ffc700,#ffb900,#ffab00,#ff9d00,#ff8f00,#ff8100,#ff7400,#ff6700,#ff5b00,#ff5000,#ff4500,#ff3c00,#ff3300,#ff2c00,#ff2500,#ff1f00,#ff1a00,#ff1700,#ff1400,#ff1200,#ff1100,#ff1100,#ff1200,#ff1300,#ff1400,#ff1600,#ff1800,#ff1a00,#ff1c00,#ff1e00,#ff2000,#ff2100,#ff2100,#ff2100,#ff2100,#ff2000,#ff1e00,#ff1b00,#ff1700,#ff1300,#ff0e00,#ff0800,#ff0100,#f80000,#ef0000,#e60000,#dc0000,#d10000,#c60000,#ba0000,#af0000,#a30000,#980000,#8e0000,#840000,#7c0000,#740000,#6c0000,#660000,#610000,#5d0000,#590000,#570000,#560000,#550000,#560000,#570000,#590000,#5d0000,#610000,#670000,#6f0000,#770000,#810000,#8c0000,#980000,#a50000,#b30000,#c20000,#d10000,#e20000,#f30000,#ff0500,#ff1700,#ff2800,#ff3a00,#ff4b00,#ff5c00,#ff6e00,#ff7e00,#ff8f00,#ff9f00,#ffae00,#ffbd00,#ffcc00,#ffdb00,#ffe900,#fff700),linear-gradient(90deg,#ffdb00,#ffcc00,#ffbe00,#ffb000,#ffa100,#ff9300,#ff8500,#ff7700,#ff6900,#ff5c00,#ff5000,#ff4400,#ff3a00,#ff3000,#ff2700,#ff2000,#ff1900,#ff1300,#ff0f00,#ff0b00,#ff0800,#ff0700,#ff0600,#ff0600,#ff0700,#ff0900,#ff0b00,#ff0e00,#ff1000,#ff1300,#ff1600,#ff1900,#ff1b00,#ff1d00,#ff1e00,#ff1f00,#ff1f00,#ff1f00,#ff1d00,#ff1b00,#ff1800,#ff1500,#ff1000,#ff0b00,#ff0400,#fc0000,#f30000,#ea0000,#e00000,#d60000,#cb0000,#bf0000,#b40000,#a90000,#9e0000,#940000,#8b0000,#820000,#7a0000,#720000,#6c0000,#670000,#630000,#5f0000,#5d0000,#5c0000,#5b0000,#5b0000,#5c0000,#5e0000,#610000,#660000,#6b0000,#730000,#7b0000,#850000,#8f0000,#9b0000,#a90000,#b70000,#c60000,#d50000,#e60000,#f70000,#ff0900,#ff1b00,#ff2d00,#ff3e00,#ff5000,#ff6100,#ff7200,#ff8300,#ff9400,#ffa300,#ffb300,#ffc200,#ffd100,#ffdf00,#ffee00,#fffb00),linear-gradient(90deg,#ffd200,#ffc300,#ffb500,#ffa600,#ff9700,#ff8900,#ff7a00,#ff6c00,#ff5e00,#ff5100,#ff4400,#ff3900,#ff2e00,#ff2400,#ff1b00,#ff1400,#ff0d00,#ff0700,#ff0200,#fe0000,#fb0000,#fa0000,#fa0000,#fa0000,#fc0000,#fe0000,#ff0100,#ff0500,#ff0800,#ff0c00,#ff0f00,#ff1200,#ff1500,#ff1800,#ff1a00,#ff1c00,#ff1d00,#ff1d00,#ff1c00,#ff1b00,#ff1900,#ff1600,#ff1200,#ff0d00,#ff0700,#ff0000,#f70000,#ee0000,#e40000,#da0000,#cf0000,#c40000,#b90000,#ae0000,#a30000,#990000,#900000,#870000,#7f0000,#780000,#720000,#6c0000,#680000,#650000,#620000,#610000,#600000,#600000,#610000,#630000,#650000,#6a0000,#6f0000,#760000,#7f0000,#880000,#930000,#9f0000,#ac0000,#bb0000,#ca0000,#da0000,#ea0000,#fb0000,#ff0e00,#ff2000,#ff3200,#ff4300,#ff5500,#ff6600,#ff7800,#ff8800,#ff9900,#ffa900,#ffb800,#ffc700,#ffd600,#ffe400,#fff200,#ffff01),linear-gradient(90deg,#ffc900,#ffba00,#ffab00,#ff9c00,#ff8e00,#ff7f00,#ff7000,#ff6100,#ff5300,#ff4600,#ff3900,#ff2d00,#ff2200,#ff1800,#ff0f00,#ff0700,#ff0000,#f90000,#f50000,#f10000,#ef0000,#ee0000,#ed0000,#ee0000,#f00000,#f30000,#f60000,#fa0000,#fe0000,#ff0300,#ff0700,#ff0c00,#ff0f00,#ff1300,#ff1600,#ff1800,#ff1a00,#ff1a00,#ff1b00,#ff1a00,#ff1800,#ff1600,#ff1200,#ff0e00,#ff0800,#ff0200,#f90000,#f10000,#e70000,#dd0000,#d20000,#c80000,#bd0000,#b20000,#a80000,#9e0000,#940000,#8b0000,#830000,#7c0000,#760000,#710000,#6c0000,#690000,#670000,#650000,#650000,#640000,#650000,#660000,#690000,#6d0000,#720000,#790000,#820000,#8c0000,#970000,#a30000,#b00000,#bf0000,#ce0000,#de0000,#ef0000,#ff0100,#ff1300,#ff2500,#ff3700,#ff4800,#ff5a00,#ff6c00,#ff7d00,#ff8e00,#ff9e00,#ffae00,#ffbd00,#ffcc00,#ffda00,#ffe900,#fff700,#ffff05),linear-gradient(90deg,#ffc100,#ffb100,#ffa200,#ff9300,#ff8400,#ff7500,#ff6600,#ff5700,#ff4800,#ff3b00,#ff2e00,#ff2200,#ff1600,#ff0c00,#ff0300,#fa0000,#f20000,#ec0000,#e70000,#e40000,#e20000,#e10000,#e10000,#e20000,#e40000,#e70000,#eb0000,#ef0000,#f40000,#f90000,#fe0000,#ff0400,#ff0900,#ff0d00,#ff1000,#ff1300,#ff1600,#ff1700,#ff1800,#ff1800,#ff1700,#ff1500,#ff1200,#ff0e00,#ff0900,#ff0300,#fb0000,#f30000,#e90000,#df0000,#d50000,#ca0000,#c00000,#b50000,#ab0000,#a10000,#980000,#8f0000,#870000,#800000,#7a0000,#740000,#700000,#6c0000,#6a0000,#680000,#680000,#670000,#680000,#690000,#6c0000,#700000,#750000,#7c0000,#850000,#8f0000,#9a0000,#a60000,#b40000,#c20000,#d20000,#e20000,#f30000,#ff0600,#ff1800,#ff2a00,#ff3c00,#ff4e00,#ff5f00,#ff7100,#ff8200,#ff9300,#ffa300,#ffb300,#ffc200,#ffd100,#ffdf00,#ffed00,#fffb00,#ffff0a),linear-gradient(90deg,#ffb800,#ffa900,#ff9900,#ff8a00,#ff7a00,#ff6b00,#ff5b00,#ff4c00,#ff3d00,#ff2f00,#ff2200,#ff1600,#ff0a00,#ff0000,#f50000,#ed0000,#e50000,#df0000,#da0000,#d60000,#d40000,#d30000,#d40000,#d50000,#d80000,#db0000,#df0000,#e40000,#ea0000,#ef0000,#f50000,#fb0000,#ff0100,#ff0600,#ff0a00,#ff0e00,#ff1100,#ff1300,#ff1500,#ff1500,#ff1500,#ff1400,#ff1100,#ff0e00,#ff0900,#ff0300,#fb0000,#f30000,#ea0000,#e10000,#d70000,#cc0000,#c20000,#b80000,#ad0000,#a40000,#9b0000,#920000,#8a0000,#830000,#7c0000,#770000,#720000,#6f0000,#6c0000,#6a0000,#6a0000,#690000,#6a0000,#6b0000,#6e0000,#720000,#780000,#7f0000,#880000,#920000,#9d0000,#aa0000,#b80000,#c60000,#d60000,#e70000,#f80000,#ff0b00,#ff1d00,#ff2f00,#ff4100,#ff5300,#ff6500,#ff7600,#ff8800,#ff9800,#ffa800,#ffb800,#ffc700,#ffd600,#ffe400,#fff200,#ffff01,#ffff0e),linear-gradient(90deg,#ffb000,#ffa000,#ff9000,#ff8000,#ff7100,#ff6100,#ff5100,#ff4200,#ff3300,#ff2400,#ff1700,#ff0a00,#fd0000,#f20000,#e80000,#df0000,#d80000,#d10000,#cc0000,#c90000,#c60000,#c60000,#c60000,#c80000,#cb0000,#ce0000,#d30000,#d80000,#de0000,#e50000,#eb0000,#f10000,#f70000,#fd0000,#ff0300,#ff0800,#ff0c00,#ff0f00,#ff1100,#ff1200,#ff1200,#ff1100,#ff0f00,#ff0c00,#ff0800,#ff0300,#fb0000,#f30000,#eb0000,#e10000,#d70000,#cd0000,#c30000,#b90000,#af0000,#a50000,#9c0000,#940000,#8c0000,#850000,#7e0000,#780000,#740000,#700000,#6d0000,#6c0000,#6b0000,#6b0000,#6b0000,#6d0000,#6f0000,#740000,#7a0000,#810000,#8a0000,#940000,#a00000,#ad0000,#bb0000,#ca0000,#da0000,#eb0000,#fc0000,#ff0f00,#ff2200,#ff3400,#ff4600,#ff5800,#ff6a00,#ff7c00,#ff8d00,#ff9e00,#ffae00,#ffbd00,#ffcc00,#ffdb00,#ffe900,#fff700,#ffff06,#ffff13),linear-gradient(90deg,#ffa800,#ff9800,#ff8800,#ff7700,#ff6700,#ff5700,#ff4700,#ff3700,#ff2800,#ff1900,#ff0c00,#fd0000,#f10000,#e60000,#db0000,#d20000,#ca0000,#c30000,#be0000,#ba0000,#b80000,#b70000,#b80000,#ba0000,#bd0000,#c10000,#c60000,#cc0000,#d20000,#d90000,#e00000,#e70000,#ee0000,#f50000,#fa0000,#ff0100,#ff0500,#ff0900,#ff0b00,#ff0d00,#ff0e00,#ff0d00,#ff0c00,#ff0a00,#ff0600,#ff0100,#fa0000,#f20000,#ea0000,#e10000,#d70000,#cd0000,#c30000,#b90000,#b00000,#a60000,#9d0000,#950000,#8d0000,#860000,#7f0000,#790000,#750000,#710000,#6e0000,#6d0000,#6c0000,#6c0000,#6c0000,#6e0000,#710000,#750000,#7b0000,#830000,#8c0000,#970000,#a30000,#b00000,#be0000,#ce0000,#de0000,#ef0000,#ff0200,#ff1400,#ff2700,#ff3900,#ff4b00,#ff5e00,#ff6f00,#ff8100,#ff9200,#ffa300,#ffb300,#ffc300,#ffd200,#ffe000,#ffee00,#fffc00,#ffff0a,#ffff17),linear-gradient(90deg,#ffa000,#ff9000,#ff7f00,#ff6e00,#ff5e00,#ff4d00,#ff3d00,#ff2d00,#ff1d00,#ff0f00,#ff0000,#f20000,#e50000,#d90000,#ce0000,#c40000,#bc0000,#b50000,#b00000,#ac0000,#aa0000,#a90000,#aa0000,#ac0000,#af0000,#b30000,#b90000,#bf0000,#c60000,#cd0000,#d50000,#dc0000,#e40000,#eb0000,#f20000,#f80000,#fd0000,#ff0200,#ff0500,#ff0700,#ff0900,#ff0900,#ff0800,#ff0600,#ff0300,#fd0000,#f70000,#f00000,#e80000,#df0000,#d60000,#cc0000,#c30000,#b90000,#b00000,#a60000,#9d0000,#950000,#8d0000,#860000,#800000,#7a0000,#750000,#710000,#6f0000,#6d0000,#6c0000,#6c0000,#6d0000,#6f0000,#720000,#760000,#7c0000,#840000,#8e0000,#990000,#a50000,#b20000,#c10000,#d10000,#e20000,#f30000,#ff0600,#ff1900,#ff2b00,#ff3e00,#ff5000,#ff6300,#ff7500,#ff8700,#ff9800,#ffa900,#ffb900,#ffc800,#ffd700,#ffe500,#fff300,#ffff02,#ffff0f,#ffff1c),linear-gradient(90deg,#ff9900,#ff8800,#ff7700,#ff6600,#ff5500,#ff4400,#ff3300,#ff2300,#ff1300,#ff0400,#f40000,#e60000,#d80000,#cc0000,#c00000,#b60000,#ae0000,#a70000,#a20000,#9e0000,#9c0000,#9b0000,#9b0000,#9d0000,#a10000,#a50000,#ab0000,#b10000,#b90000,#c00000,#c90000,#d10000,#d90000,#e10000,#e80000,#ee0000,#f40000,#f90000,#fd0000,#ff0100,#ff0200,#ff0300,#ff0300,#ff0100,#fd0000,#f90000,#f40000,#ed0000,#e50000,#dd0000,#d40000,#cb0000,#c10000,#b80000,#ae0000,#a50000,#9d0000,#950000,#8d0000,#860000,#800000,#7a0000,#750000,#720000,#6f0000,#6d0000,#6d0000,#6d0000,#6d0000,#6f0000,#720000,#770000,#7e0000,#860000,#8f0000,#9a0000,#a70000,#b50000,#c40000,#d40000,#e50000,#f70000,#ff0b00,#ff1d00,#ff3000,#ff4300,#ff5600,#ff6800,#ff7a00,#ff8c00,#ff9d00,#ffae00,#ffbe00,#ffcd00,#ffdc00,#ffeb00,#fff800,#ffff07,#ffff14,#ffff20),linear-gradient(90deg,#ff9200,#ff8000,#ff6f00,#ff5e00,#ff4c00,#ff3b00,#ff2a00,#ff1900,#ff0900,#f80000,#e80000,#da0000,#cc0000,#bf0000,#b30000,#a90000,#a00000,#990000,#940000,#900000,#8d0000,#8c0000,#8d0000,#8f0000,#920000,#970000,#9d0000,#a40000,#ab0000,#b30000,#bc0000,#c40000,#cd0000,#d50000,#dd0000,#e40000,#eb0000,#f00000,#f50000,#f80000,#fa0000,#fb0000,#fb0000,#fa0000,#f80000,#f40000,#ef0000,#e90000,#e20000,#da0000,#d10000,#c80000,#bf0000,#b60000,#ac0000,#a40000,#9b0000,#930000,#8c0000,#850000,#7f0000,#790000,#750000,#710000,#6f0000,#6d0000,#6d0000,#6d0000,#6e0000,#700000,#730000,#780000,#7e0000,#860000,#900000,#9c0000,#a80000,#b70000,#c60000,#d70000,#e80000,#fb0000,#ff0f00,#ff2200,#ff3500,#ff4800,#ff5a00,#ff6d00,#ff7f00,#ff9100,#ffa300,#ffb300,#ffc300,#ffd300,#ffe100,#fff000,#fffd00,#ffff0b,#ffff18,#ffff24),linear-gradient(90deg,#ff8b00,#ff7900,#ff6800,#ff5600,#ff4400,#ff3200,#ff2100,#ff1000,#fe0000,#ed0000,#dd0000,#ce0000,#bf0000,#b20000,#a60000,#9b0000,#920000,#8b0000,#860000,#820000,#7f0000,#7e0000,#7f0000,#810000,#840000,#890000,#8f0000,#960000,#9e0000,#a60000,#af0000,#b80000,#c10000,#c90000,#d20000,#d90000,#e00000,#e60000,#eb0000,#ef0000,#f20000,#f30000,#f40000,#f30000,#f10000,#ee0000,#e90000,#e30000,#dd0000,#d50000,#cd0000,#c40000,#bb0000,#b20000,#aa0000,#a10000,#990000,#910000,#8a0000,#830000,#7e0000,#780000,#740000,#710000,#6e0000,#6d0000,#6c0000,#6c0000,#6e0000,#700000,#730000,#780000,#7f0000,#870000,#910000,#9d0000,#aa0000,#b80000,#c80000,#d90000,#eb0000,#fe0000,#ff1200,#ff2600,#ff3900,#ff4c00,#ff5f00,#ff7200,#ff8400,#ff9600,#ffa800,#ffb800,#ffc800,#ffd800,#ffe700,#fff500,#ffff03,#ffff10,#ffff1c,#ffff28),linear-gradient(90deg,#ff8500,#ff7300,#ff6100,#ff4f00,#ff3d00,#ff2b00,#ff1800,#ff0700,#f40000,#e30000,#d20000,#c20000,#b30000,#a50000,#990000,#8e0000,#850000,#7e0000,#790000,#740000,#720000,#710000,#710000,#730000,#760000,#7b0000,#810000,#880000,#900000,#990000,#a20000,#ab0000,#b40000,#bd0000,#c60000,#ce0000,#d50000,#db0000,#e10000,#e50000,#e80000,#ea0000,#eb0000,#eb0000,#e90000,#e60000,#e20000,#dd0000,#d70000,#d00000,#c80000,#bf0000,#b70000,#ae0000,#a60000,#9e0000,#960000,#8f0000,#880000,#810000,#7c0000,#770000,#730000,#700000,#6d0000,#6c0000,#6c0000,#6c0000,#6d0000,#6f0000,#730000,#780000,#7f0000,#870000,#910000,#9d0000,#aa0000,#b90000,#ca0000,#db0000,#ed0000,#ff0200,#ff1500,#ff2900,#ff3d00,#ff5000,#ff6400,#ff7600,#ff8900,#ff9b00,#ffad00,#ffbd00,#ffcd00,#ffdd00,#ffeb00,#fff900,#ffff08,#ffff14,#ffff20,#ffff2c),linear-gradient(90deg,#ff7f00,#ff6d00,#ff5b00,#ff4800,#ff3600,#ff2300,#ff1100,#fd0000,#eb0000,#d90000,#c80000,#b70000,#a80000,#990000,#8d0000,#820000,#790000,#710000,#6c0000,#680000,#650000,#640000,#640000,#660000,#690000,#6e0000,#740000,#7b0000,#830000,#8b0000,#950000,#9e0000,#a70000,#b10000,#ba0000,#c20000,#c90000,#d00000,#d60000,#db0000,#de0000,#e10000,#e20000,#e20000,#e10000,#de0000,#db0000,#d60000,#d00000,#c90000,#c20000,#ba0000,#b20000,#aa0000,#a20000,#9a0000,#920000,#8b0000,#850000,#7e0000,#790000,#740000,#710000,#6e0000,#6c0000,#6b0000,#6a0000,#6b0000,#6c0000,#6f0000,#720000,#770000,#7e0000,#870000,#910000,#9d0000,#ab0000,#ba0000,#ca0000,#dc0000,#ef0000,#ff0400,#ff1800,#ff2c00,#ff4000,#ff5400,#ff6700,#ff7b00,#ff8d00,#ffa000,#ffb100,#ffc200,#ffd200,#ffe100,#fff000,#fffe00,#ffff0c,#ffff18,#ffff24,#ffff30),linear-gradient(90deg,#ff7a00,#ff6800,#ff5500,#ff4200,#ff3000,#ff1d00,#ff0900,#f50000,#e30000,#d00000,#be0000,#ad0000,#9d0000,#8e0000,#810000,#760000,#6d0000,#660000,#600000,#5b0000,#590000,#570000,#580000,#590000,#5d0000,#610000,#670000,#6e0000,#760000,#7f0000,#880000,#910000,#9b0000,#a40000,#ad0000,#b60000,#be0000,#c50000,#cb0000,#d00000,#d40000,#d60000,#d80000,#d80000,#d80000,#d50000,#d20000,#ce0000,#c80000,#c20000,#bb0000,#b30000,#ac0000,#a40000,#9c0000,#950000,#8e0000,#870000,#810000,#7b0000,#760000,#720000,#6e0000,#6b0000,#6a0000,#690000,#680000,#690000,#6b0000,#6d0000,#710000,#760000,#7d0000,#860000,#910000,#9d0000,#ab0000,#ba0000,#cb0000,#dd0000,#f00000,#ff0500,#ff1a00,#ff2e00,#ff4300,#ff5700,#ff6b00,#ff7e00,#ff9100,#ffa300,#ffb500,#ffc600,#ffd600,#ffe500,#fff400,#ffff02,#ffff0f,#ffff1c,#ffff27,#ffff32),linear-gradient(90deg,#ff7600,#ff6300,#ff5000,#ff3d00,#ff2a00,#ff1700,#ff0300,#ef0000,#db0000,#c80000,#b60000,#a40000,#930000,#850000,#770000,#6c0000,#620000,#5b0000,#550000,#500000,#4d0000,#4c0000,#4c0000,#4e0000,#510000,#550000,#5b0000,#620000,#6a0000,#720000,#7b0000,#850000,#8e0000,#980000,#a10000,#aa0000,#b20000,#b90000,#bf0000,#c40000,#c90000,#cc0000,#ce0000,#ce0000,#ce0000,#cc0000,#c90000,#c50000,#c00000,#ba0000,#b30000,#ac0000,#a50000,#9e0000,#970000,#900000,#890000,#830000,#7d0000,#770000,#720000,#6e0000,#6b0000,#690000,#670000,#660000,#660000,#670000,#690000,#6c0000,#700000,#750000,#7c0000,#850000,#900000,#9c0000,#aa0000,#ba0000,#cb0000,#dd0000,#f00000,#ff0600,#ff1b00,#ff3000,#ff4400,#ff5900,#ff6d00,#ff8100,#ff9400,#ffa600,#ffb800,#ffc900,#ffd900,#ffe800,#fff700,#ffff05,#ffff12,#ffff1e,#ffff2a,#ffff35),linear-gradient(90deg,#ff7200,#ff5f00,#ff4c00,#ff3900,#ff2500,#ff1200,#fd0000,#e90000,#d50000,#c10000,#ae0000,#9c0000,#8b0000,#7c0000,#6e0000,#630000,#590000,#510000,#4a0000,#460000,#420000,#410000,#410000,#420000,#450000,#4a0000,#4f0000,#560000,#5e0000,#670000,#700000,#790000,#830000,#8c0000,#950000,#9e0000,#a60000,#ad0000,#b40000,#b90000,#be0000,#c10000,#c30000,#c40000,#c40000,#c20000,#bf0000,#bc0000,#b70000,#b10000,#ab0000,#a50000,#9e0000,#970000,#900000,#8a0000,#840000,#7e0000,#780000,#730000,#6f0000,#6b0000,#680000,#650000,#640000,#630000,#630000,#650000,#670000,#6a0000,#6e0000,#740000,#7b0000,#840000,#8e0000,#9b0000,#a90000,#b90000,#ca0000,#dd0000,#f00000,#ff0600,#ff1b00,#ff3000,#ff4500,#ff5a00,#ff6f00,#ff8300,#ff9600,#ffa900,#ffba00,#ffcb00,#ffdc00,#ffeb00,#fff900,#ffff08,#ffff14,#ffff21,#ffff2c,#ffff37),linear-gradient(90deg,#ff6f00,#ff5c00,#ff4900,#ff3500,#ff2100,#ff0d00,#f80000,#e30000,#cf0000,#bb0000,#a80000,#950000,#840000,#740000,#670000,#5b0000,#500000,#480000,#410000,#3c0000,#380000,#370000,#360000,#380000,#3b0000,#3f0000,#440000,#4b0000,#530000,#5b0000,#640000,#6e0000,#770000,#810000,#8a0000,#920000,#9a0000,#a20000,#a80000,#ae0000,#b20000,#b60000,#b80000,#b90000,#b90000,#b80000,#b60000,#b20000,#ae0000,#a90000,#a30000,#9d0000,#960000,#900000,#8a0000,#840000,#7e0000,#780000,#730000,#6f0000,#6a0000,#670000,#640000,#620000,#610000,#600000,#600000,#620000,#640000,#680000,#6c0000,#720000,#790000,#820000,#8d0000,#9a0000,#a80000,#b80000,#ca0000,#dc0000,#f00000,#ff0600,#ff1b00,#ff3000,#ff4600,#ff5b00,#ff7000,#ff8400,#ff9800,#ffaa00,#ffbc00,#ffcd00,#ffdd00,#ffed00,#fffb00,#ffff09,#ffff16,#ffff22,#ffff2d,#ffff38),linear-gradient(90deg,#ff6c00,#ff5900,#ff4600,#ff3200,#ff1e00,#ff0a00,#f40000,#df0000,#ca0000,#b60000,#a20000,#8f0000,#7e0000,#6e0000,#600000,#540000,#490000,#400000,#390000,#330000,#2f0000,#2d0000,#2d0000,#2e0000,#300000,#350000,#3a0000,#410000,#480000,#510000,#5a0000,#630000,#6c0000,#760000,#7f0000,#870000,#8f0000,#970000,#9d0000,#a30000,#a80000,#ab0000,#ae0000,#af0000,#af0000,#ae0000,#ac0000,#a90000,#a50000,#a00000,#9b0000,#950000,#8f0000,#890000,#830000,#7d0000,#780000,#730000,#6e0000,#6a0000,#660000,#630000,#600000,#5e0000,#5d0000,#5d0000,#5d0000,#5f0000,#610000,#650000,#6a0000,#700000,#770000,#800000,#8b0000,#980000,#a70000,#b70000,#c90000,#db0000,#ef0000,#ff0500,#ff1a00,#ff3000,#ff4600,#ff5b00,#ff7000,#ff8500,#ff9800,#ffab00,#ffbd00,#ffce00,#ffde00,#ffee00,#fffc00,#ffff0a,#ffff17,#ffff23,#ffff2e,#ffff39),linear-gradient(90deg,#ff6b00,#ff5700,#ff4400,#ff3000,#ff1b00,#ff0700,#f10000,#dc0000,#c70000,#b20000,#9e0000,#8b0000,#790000,#690000,#5a0000,#4e0000,#430000,#390000,#310000,#2b0000,#270000,#250000,#240000,#250000,#270000,#2b0000,#300000,#370000,#3f0000,#470000,#500000,#590000,#620000,#6c0000,#750000,#7d0000,#850000,#8c0000,#930000,#990000,#9d0000,#a10000,#a30000,#a50000,#a50000,#a40000,#a20000,#a00000,#9c0000,#980000,#930000,#8d0000,#880000,#820000,#7c0000,#770000,#720000,#6d0000,#690000,#650000,#620000,#5f0000,#5c0000,#5a0000,#590000,#590000,#5a0000,#5c0000,#5f0000,#620000,#670000,#6e0000,#750000,#7f0000,#8a0000,#970000,#a50000,#b60000,#c70000,#da0000,#ee0000,#ff0400,#ff1a00,#ff2f00,#ff4500,#ff5b00,#ff7000,#ff8500,#ff9800,#ffab00,#ffbd00,#ffce00,#ffdf00,#ffee00,#fffc00,#ffff0b,#ffff17,#ffff23,#ffff2f,#ffff3a),linear-gradient(90deg,#ff6900,#ff5600,#ff4200,#ff2e00,#ff1a00,#ff0500,#ef0000,#d90000,#c40000,#af0000,#9b0000,#870000,#750000,#650000,#560000,#490000,#3d0000,#330000,#2b0000,#250000,#200000,#1d0000,#1c0000,#1c0000,#1f0000,#220000,#280000,#2e0000,#360000,#3e0000,#470000,#500000,#590000,#620000,#6b0000,#740000,#7c0000,#830000,#890000,#8f0000,#940000,#970000,#9a0000,#9b0000,#9c0000,#9b0000,#990000,#970000,#940000,#8f0000,#8b0000,#860000,#800000,#7b0000,#760000,#710000,#6d0000,#680000,#640000,#610000,#5d0000,#5a0000,#580000,#570000,#560000,#560000,#570000,#590000,#5c0000,#600000,#650000,#6b0000,#730000,#7d0000,#880000,#950000,#a40000,#b40000,#c60000,#d90000,#ed0000,#ff0300,#ff1900,#ff2f00,#ff4400,#ff5a00,#ff6f00,#ff8400,#ff9800,#ffab00,#ffbd00,#ffce00,#ffde00,#ffee00,#fffc00,#ffff0b,#ffff17,#ffff23,#ffff2f,#ffff3a),linear-gradient(90deg,#ff6800,#ff5500,#ff4100,#ff2d00,#ff1900,#ff0400,#ee0000,#d80000,#c20000,#ad0000,#990000,#850000,#730000,#620000,#530000,#450000,#390000,#2f0000,#260000,#1f0000,#1a0000,#160000,#150000,#150000,#170000,#1b0000,#200000,#260000,#2d0000,#360000,#3e0000,#470000,#500000,#5a0000,#630000,#6b0000,#730000,#7a0000,#810000,#860000,#8b0000,#8e0000,#910000,#920000,#930000,#920000,#910000,#8f0000,#8c0000,#880000,#840000,#7f0000,#7a0000,#750000,#700000,#6c0000,#680000,#640000,#600000,#5c0000,#590000,#570000,#550000,#530000,#530000,#530000,#540000,#560000,#590000,#5d0000,#630000,#690000,#720000,#7b0000,#870000,#940000,#a30000,#b30000,#c50000,#d80000,#ec0000,#ff0200,#ff1700,#ff2d00,#ff4300,#ff5900,#ff6e00,#ff8300,#ff9700,#ffaa00,#ffbc00,#ffcd00,#ffdd00,#ffed00,#fffb00,#ffff0a,#ffff17,#ffff23,#ffff2e,#ffff39),linear-gradient(90deg,#ff6800,#ff5500,#ff4100,#ff2d00,#ff1800,#ff0300,#ed0000,#d70000,#c20000,#ac0000,#970000,#840000,#710000,#600000,#500000,#420000,#360000,#2b0000,#220000,#1a0000,#150000,#110000,#0f0000,#0f0000,#110000,#140000,#190000,#1f0000,#260000,#2e0000,#370000,#400000,#490000,#520000,#5b0000,#630000,#6b0000,#720000,#790000,#7e0000,#830000,#860000,#890000,#8a0000,#8b0000,#8b0000,#890000,#870000,#850000,#810000,#7d0000,#790000,#740000,#700000,#6b0000,#670000,#630000,#5f0000,#5c0000,#580000,#560000,#530000,#510000,#500000,#500000,#500000,#510000,#540000,#570000,#5b0000,#610000,#680000,#700000,#7a0000,#850000,#930000,#a20000,#b20000,#c40000,#d70000,#eb0000,#ff0100,#ff1600,#ff2c00,#ff4200,#ff5800,#ff6d00,#ff8200,#ff9500,#ffa800,#ffba00,#ffcc00,#ffdc00,#ffeb00,#fffa00,#ffff09,#ffff15,#ffff21,#ffff2d,#ffff38),linear-gradient(90deg,#ff6900,#ff5500,#ff4100,#ff2d00,#ff1900,#ff0400,#ed0000,#d80000,#c20000,#ac0000,#970000,#830000,#710000,#5f0000,#4f0000,#410000,#340000,#290000,#1f0000,#170000,#110000,#0d0000,#0b0000,#0a0000,#0c0000,#0f0000,#130000,#190000,#200000,#280000,#300000,#390000,#420000,#4b0000,#540000,#5c0000,#640000,#6b0000,#720000,#770000,#7c0000,#7f0000,#820000,#830000,#840000,#830000,#820000,#810000,#7e0000,#7b0000,#780000,#740000,#700000,#6c0000,#670000,#630000,#5f0000,#5c0000,#580000,#550000,#520000,#500000,#4e0000,#4d0000,#4d0000,#4e0000,#4f0000,#510000,#550000,#590000,#5f0000,#660000,#6f0000,#790000,#840000,#920000,#a10000,#b10000,#c30000,#d60000,#ea0000,#fe0000,#ff1500,#ff2b00,#ff4000,#ff5600,#ff6b00,#ff8000,#ff9400,#ffa600,#ffb800,#ffca00,#ffda00,#ffea00,#fff800,#ffff07,#ffff14,#ffff20,#ffff2b,#ffff36),linear-gradient(90deg,#ff6a00,#ff5600,#ff4200,#ff2e00,#ff1a00,#ff0500,#ee0000,#d90000,#c30000,#ad0000,#980000,#840000,#710000,#5f0000,#4f0000,#400000,#330000,#270000,#1d0000,#150000,#0e0000,#0a0000,#070000,#060000,#080000,#0a0000,#0f0000,#140000,#1b0000,#230000,#2b0000,#340000,#3d0000,#460000,#4e0000,#570000,#5e0000,#660000,#6c0000,#710000,#760000,#790000,#7b0000,#7d0000,#7d0000,#7d0000,#7c0000,#7b0000,#790000,#760000,#730000,#700000,#6c0000,#680000,#640000,#600000,#5d0000,#590000,#560000,#530000,#500000,#4e0000,#4c0000,#4b0000,#4b0000,#4c0000,#4d0000,#500000,#530000,#580000,#5e0000,#650000,#6e0000,#780000,#840000,#910000,#a00000,#b00000,#c20000,#d50000,#e90000,#fd0000,#ff1400,#ff2900,#ff3f00,#ff5400,#ff6900,#ff7e00,#ff9100,#ffa400,#ffb600,#ffc800,#ffd800,#ffe700,#fff600,#ffff05,#ffff12,#ffff1e,#ffff29,#ffff34),linear-gradient(90deg,#ff6b00,#ff5800,#ff4400,#ff3000,#ff1b00,#ff0600,#f00000,#db0000,#c50000,#af0000,#9a0000,#860000,#730000,#610000,#500000,#410000,#330000,#270000,#1d0000,#140000,#0d0000,#080000,#050000,#040000,#050000,#070000,#0b0000,#110000,#170000,#1f0000,#270000,#2f0000,#380000,#410000,#4a0000,#520000,#5a0000,#610000,#670000,#6c0000,#710000,#740000,#760000,#780000,#780000,#780000,#770000,#760000,#740000,#720000,#6f0000,#6c0000,#690000,#650000,#620000,#5e0000,#5a0000,#570000,#540000,#510000,#4e0000,#4c0000,#4a0000,#490000,#490000,#4a0000,#4c0000,#4f0000,#530000,#570000,#5d0000,#650000,#6e0000,#780000,#840000,#910000,#a00000,#b00000,#c20000,#d40000,#e80000,#fc0000,#ff1300,#ff2800,#ff3e00,#ff5300,#ff6800,#ff7c00,#ff8f00,#ffa200,#ffb400,#ffc500,#ffd500,#ffe500,#fff300,#ffff02,#ffff0f,#ffff1b,#ffff27,#ffff32),linear-gradient(90deg,#ff6d00,#ff5a00,#ff4600,#ff3200,#ff1e00,#ff0900,#f30000,#dd0000,#c70000,#b20000,#9d0000,#880000,#750000,#630000,#520000,#430000,#350000,#290000,#1e0000,#150000,#0e0000,#080000,#050000,#030000,#040000,#060000,#0a0000,#0f0000,#150000,#1c0000,#240000,#2c0000,#350000,#3e0000,#460000,#4e0000,#560000,#5d0000,#630000,#690000,#6d0000,#700000,#720000,#730000,#740000,#740000,#730000,#720000,#710000,#6f0000,#6d0000,#6a0000,#670000,#640000,#600000,#5d0000,#590000,#560000,#530000,#500000,#4d0000,#4b0000,#490000,#490000,#490000,#4a0000,#4b0000,#4e0000,#520000,#570000,#5d0000,#650000,#6e0000,#780000,#840000,#910000,#a00000,#b00000,#c10000,#d40000,#e80000,#fc0000,#ff1200,#ff2700,#ff3c00,#ff5100,#ff6600,#ff7a00,#ff8d00,#ffa000,#ffb100,#ffc200,#ffd300,#ffe200,#fff100,#fffe00,#ffff0c,#ffff18,#ffff24,#ffff2f),linear-gradient(90deg,#ff7000,#ff5c00,#ff4900,#ff3500,#ff2000,#ff0c00,#f60000,#e00000,#cb0000,#b50000,#a00000,#8c0000,#780000,#660000,#550000,#460000,#380000,#2b0000,#200000,#170000,#0f0000,#0a0000,#060000,#040000,#040000,#060000,#090000,#0e0000,#140000,#1b0000,#220000,#2a0000,#330000,#3b0000,#440000,#4c0000,#530000,#5a0000,#610000,#660000,#6a0000,#6d0000,#6f0000,#700000,#710000,#710000,#700000,#700000,#6e0000,#6d0000,#6b0000,#680000,#660000,#630000,#5f0000,#5c0000,#590000,#550000,#520000,#4f0000,#4d0000,#4b0000,#490000,#490000,#490000,#4a0000,#4c0000,#4f0000,#530000,#580000,#5e0000,#650000,#6e0000,#790000,#840000,#920000,#a00000,#b10000,#c20000,#d40000,#e70000,#fb0000,#ff1100,#ff2600,#ff3b00,#ff5000,#ff6400,#ff7800,#ff8b00,#ff9d00,#ffaf00,#ffbf00,#ffd000,#ffdf00,#ffed00,#fffb00,#ffff09,#ffff15,#ffff21,#ffff2c),linear-gradient(90deg,#ff7300,#ff5f00,#ff4c00,#ff3800,#ff2400,#ff0f00,#fa0000,#e40000,#cf0000,#ba0000,#a50000,#900000,#7d0000,#6a0000,#5a0000,#4a0000,#3c0000,#2f0000,#240000,#1a0000,#120000,#0c0000,#080000,#060000,#060000,#070000,#0a0000,#0e0000,#140000,#1b0000,#220000,#2a0000,#320000,#3a0000,#430000,#4b0000,#520000,#590000,#5f0000,#640000,#690000,#6c0000,#6d0000,#6e0000,#6f0000,#6f0000,#6e0000,#6e0000,#6d0000,#6c0000,#6a0000,#680000,#650000,#620000,#5f0000,#5c0000,#590000,#560000,#530000,#500000,#4e0000,#4c0000,#4a0000,#4a0000,#4a0000,#4b0000,#4d0000,#500000,#540000,#590000,#5f0000,#670000,#700000,#7a0000,#860000,#930000,#a10000,#b10000,#c20000,#d50000,#e80000,#fb0000,#ff1100,#ff2500,#ff3a00,#ff4e00,#ff6200,#ff7600,#ff8800,#ff9b00,#ffac00,#ffbd00,#ffcc00,#ffdc00,#ffea00,#fff800,#ffff06,#ffff12,#ffff1e,#ffff29),linear-gradient(90deg,#ff7600,#ff6300,#ff5000,#ff3c00,#ff2800,#ff1400,#fe0000,#e90000,#d40000,#bf0000,#aa0000,#950000,#820000,#700000,#5f0000,#4f0000,#410000,#340000,#280000,#1f0000,#170000,#110000,#0c0000,#090000,#090000,#0a0000,#0c0000,#100000,#160000,#1c0000,#230000,#2b0000,#330000,#3b0000,#430000,#4a0000,#520000,#580000,#5f0000,#640000,#680000,#6b0000,#6c0000,#6d0000,#6d0000,#6d0000,#6d0000,#6d0000,#6c0000,#6b0000,#6a0000,#680000,#660000,#630000,#600000,#5d0000,#5a0000,#570000,#540000,#520000,#4f0000,#4e0000,#4c0000,#4c0000,#4c0000,#4d0000,#4f0000,#520000,#560000,#5b0000,#610000,#690000,#720000,#7c0000,#870000,#950000,#a30000,#b30000,#c40000,#d50000,#e80000,#fc0000,#ff1100,#ff2500,#ff3900,#ff4d00,#ff6100,#ff7400,#ff8600,#ff9800,#ffa900,#ffba00,#ffc900,#ffd800,#ffe700,#fff400,#ffff02,#ffff0f,#ffff1a,#ffff26),linear-gradient(90deg,#ff7a00,#ff6700,#ff5400,#ff4000,#ff2c00,#ff1800,#ff0400,#ef0000,#da0000,#c50000,#b00000,#9c0000,#880000,#760000,#650000,#550000,#470000,#3a0000,#2e0000,#250000,#1c0000,#160000,#110000,#0e0000,#0d0000,#0e0000,#100000,#140000,#190000,#1f0000,#250000,#2d0000,#340000,#3c0000,#440000,#4b0000,#520000,#590000,#5f0000,#640000,#680000,#6b0000,#6c0000,#6d0000,#6d0000,#6d0000,#6d0000,#6d0000,#6c0000,#6b0000,#6a0000,#690000,#670000,#650000,#620000,#600000,#5d0000,#5a0000,#570000,#540000,#520000,#500000,#4f0000,#4f0000,#4f0000,#500000,#520000,#550000,#590000,#5e0000,#640000,#6b0000,#740000,#7e0000,#8a0000,#970000,#a50000,#b50000,#c50000,#d70000,#e90000,#fc0000,#ff1100,#ff2500,#ff3800,#ff4c00,#ff5f00,#ff7200,#ff8400,#ff9600,#ffa600,#ffb700,#ffc600,#ffd500,#ffe300,#fff100,#fffe00,#ffff0b,#ffff17,#ffff22),linear-gradient(90deg,#ff7f00,#ff6c00,#ff5900,#ff4500,#ff3200,#ff1e00,#ff0a00,#f40000,#e00000,#cb0000,#b70000,#a30000,#8f0000,#7d0000,#6c0000,#5c0000,#4e0000,#410000,#350000,#2b0000,#230000,#1d0000,#180000,#140000,#130000,#130000,#150000,#190000,#1d0000,#230000,#290000,#300000,#370000,#3f0000,#460000,#4d0000,#540000,#5b0000,#600000,#650000,#690000,#6b0000,#6d0000,#6e0000,#6e0000,#6e0000,#6e0000,#6d0000,#6d0000,#6c0000,#6b0000,#6a0000,#690000,#670000,#650000,#620000,#600000,#5d0000,#5a0000,#580000,#560000,#540000,#530000,#530000,#530000,#540000,#560000,#590000,#5d0000,#620000,#680000,#6f0000,#780000,#820000,#8d0000,#9a0000,#a80000,#b70000,#c70000,#d80000,#ea0000,#fd0000,#ff1100,#ff2500,#ff3800,#ff4b00,#ff5e00,#ff7000,#ff8200,#ff9300,#ffa400,#ffb400,#ffc300,#ffd200,#ffe000,#ffed00,#fffa00,#ffff08,#ffff13,#ffff1f),linear-gradient(90deg,#ff8400,#ff7100,#ff5e00,#ff4b00,#ff3700,#ff2400,#ff1000,#fb0000,#e70000,#d30000,#be0000,#ab0000,#970000,#850000,#740000,#640000,#560000,#490000,#3d0000,#330000,#2b0000,#240000,#1f0000,#1c0000,#1a0000,#1a0000,#1c0000,#1f0000,#230000,#280000,#2e0000,#350000,#3c0000,#430000,#4a0000,#510000,#570000,#5d0000,#630000,#670000,#6b0000,#6d0000,#6f0000,#6f0000,#6f0000,#6f0000,#6f0000,#6f0000,#6f0000,#6e0000,#6e0000,#6d0000,#6c0000,#6a0000,#690000,#660000,#640000,#610000,#5f0000,#5c0000,#5a0000,#590000,#580000,#580000,#580000,#590000,#5b0000,#5e0000,#610000,#660000,#6c0000,#740000,#7c0000,#860000,#910000,#9e0000,#ab0000,#ba0000,#ca0000,#db0000,#ec0000,#fe0000,#ff1200,#ff2500,#ff3800,#ff4b00,#ff5d00,#ff6f00,#ff8000,#ff9100,#ffa100,#ffb100,#ffc000,#ffcf00,#ffdc00,#ffea00,#fff700,#ffff04,#ffff10,#ffff1b),linear-gradient(90deg,#ff8a00,#ff7700,#ff6400,#ff5100,#ff3e00,#ff2a00,#ff1700,#ff0300,#ee0000,#da0000,#c70000,#b30000,#a00000,#8e0000,#7d0000,#6d0000,#5f0000,#520000,#460000,#3c0000,#340000,#2d0000,#280000,#240000,#220000,#220000,#230000,#260000,#2a0000,#2f0000,#340000,#3b0000,#410000,#480000,#4f0000,#550000,#5b0000,#610000,#660000,#6a0000,#6e0000,#700000,#710000,#720000,#720000,#730000,#730000,#720000,#720000,#720000,#710000,#700000,#6f0000,#6e0000,#6d0000,#6b0000,#690000,#660000,#640000,#620000,#600000,#5f0000,#5e0000,#5e0000,#5e0000,#5f0000,#610000,#640000,#670000,#6c0000,#720000,#790000,#810000,#8b0000,#960000,#a20000,#b00000,#be0000,#cd0000,#dd0000,#ee0000,#ff0100,#ff1300,#ff2600,#ff3800,#ff4b00,#ff5c00,#ff6e00,#ff7f00,#ff8f00,#ff9f00,#ffae00,#ffbd00,#ffcb00,#ffd900,#ffe600,#fff300,#ffff00,#ffff0c,#ffff18),linear-gradient(90deg,#ff9000,#ff7d00,#ff6a00,#ff5700,#ff4400,#ff3100,#ff1e00,#ff0a00,#f60000,#e30000,#d00000,#bc0000,#aa0000,#980000,#870000,#770000,#690000,#5c0000,#500000,#460000,#3e0000,#370000,#310000,#2e0000,#2c0000,#2b0000,#2c0000,#2e0000,#320000,#360000,#3c0000,#420000,#480000,#4e0000,#550000,#5b0000,#610000,#660000,#6b0000,#6f0000,#720000,#740000,#760000,#770000,#770000,#770000,#770000,#770000,#770000,#770000,#760000,#750000,#750000,#740000,#720000,#710000,#6f0000,#6d0000,#6b0000,#690000,#670000,#660000,#650000,#650000,#650000,#660000,#680000,#6b0000,#6e0000,#730000,#790000,#800000,#880000,#910000,#9c0000,#a80000,#b40000,#c20000,#d10000,#e10000,#f10000,#ff0300,#ff1500,#ff2700,#ff3900,#ff4b00,#ff5c00,#ff6d00,#ff7d00,#ff8d00,#ff9d00,#ffac00,#ffba00,#ffc900,#ffd600,#ffe300,#fff000,#fffc00,#ffff09,#ffff14),linear-gradient(90deg,#ff9600,#ff8400,#ff7100,#ff5e00,#ff4c00,#ff3900,#ff2500,#ff1200,#ff0000,#ec0000,#d90000,#c60000,#b40000,#a20000,#910000,#820000,#730000,#660000,#5b0000,#510000,#480000,#410000,#3c0000,#380000,#360000,#350000,#360000,#380000,#3b0000,#3f0000,#440000,#4a0000,#4f0000,#560000,#5c0000,#620000,#670000,#6c0000,#710000,#750000,#780000,#7a0000,#7c0000,#7d0000,#7d0000,#7e0000,#7e0000,#7e0000,#7e0000,#7d0000,#7d0000,#7c0000,#7b0000,#7a0000,#790000,#780000,#760000,#740000,#730000,#710000,#700000,#6e0000,#6e0000,#6e0000,#6e0000,#6f0000,#710000,#730000,#770000,#7b0000,#810000,#870000,#8f0000,#980000,#a20000,#ae0000,#ba0000,#c70000,#d50000,#e40000,#f40000,#ff0600,#ff1700,#ff2800,#ff3a00,#ff4b00,#ff5c00,#ff6c00,#ff7c00,#ff8c00,#ff9b00,#ffaa00,#ffb800,#ffc600,#ffd300,#ffe000,#ffec00,#fff900,#ffff05,#ffff10),linear-gradient(90deg,#ff9d00,#ff8b00,#ff7900,#ff6600,#ff5300,#ff4100,#ff2e00,#ff1b00,#ff0800,#f50000,#e30000,#d00000,#bf0000,#ad0000,#9d0000,#8d0000,#7f0000,#720000,#660000,#5c0000,#540000,#4d0000,#470000,#430000,#410000,#400000,#400000,#420000,#450000,#490000,#4e0000,#530000,#580000,#5e0000,#640000,#690000,#6f0000,#740000,#780000,#7c0000,#7f0000,#810000,#830000,#850000,#850000,#860000,#860000,#860000,#860000,#860000,#850000,#850000,#840000,#830000,#820000,#810000,#7f0000,#7d0000,#7c0000,#7b0000,#790000,#780000,#780000,#780000,#780000,#790000,#7a0000,#7d0000,#800000,#840000,#8a0000,#900000,#980000,#a00000,#aa0000,#b50000,#c00000,#cd0000,#db0000,#e90000,#f80000,#ff0900,#ff1900,#ff2a00,#ff3b00,#ff4b00,#ff5c00,#ff6c00,#ff7b00,#ff8b00,#ff9900,#ffa800,#ffb600,#ffc300,#ffd000,#ffdd00,#ffe900,#fff500,#ffff02,#ffff0d),linear-gradient(90deg,#ffa500,#ff9300,#ff8100,#ff6e00,#ff5c00,#ff4900,#ff3600,#ff2400,#ff1200,#ff0000,#ed0000,#db0000,#ca0000,#b90000,#a90000,#990000,#8b0000,#7e0000,#730000,#690000,#600000,#590000,#530000,#4f0000,#4d0000,#4c0000,#4c0000,#4d0000,#500000,#540000,#580000,#5d0000,#620000,#680000,#6d0000,#730000,#780000,#7c0000,#810000,#840000,#880000,#8a0000,#8c0000,#8e0000,#8f0000,#900000,#900000,#910000,#900000,#900000,#900000,#8f0000,#8e0000,#8d0000,#8c0000,#8b0000,#8a0000,#880000,#870000,#860000,#850000,#840000,#830000,#830000,#830000,#840000,#860000,#880000,#8b0000,#8f0000,#940000,#9a0000,#a10000,#a90000,#b20000,#bc0000,#c70000,#d30000,#e00000,#ee0000,#fc0000,#ff0d00,#ff1c00,#ff2c00,#ff3c00,#ff4c00,#ff5c00,#ff6c00,#ff7b00,#ff8a00,#ff9800,#ffa600,#ffb400,#ffc100,#ffce00,#ffda00,#ffe600,#fff200,#fffe00,#ffff0a),linear-gradient(90deg,#ffad00,#ff9b00,#ff8900,#ff7700,#ff6400,#ff5200,#ff4000,#ff2d00,#ff1b00,#ff0a00,#f70000,#e60000,#d50000,#c50000,#b50000,#a60000,#980000,#8b0000,#800000,#750000,#6d0000,#660000,#600000,#5c0000,#590000,#580000,#580000,#590000,#5c0000,#5f0000,#630000,#680000,#6d0000,#720000,#770000,#7d0000,#820000,#860000,#8b0000,#8e0000,#920000,#940000,#970000,#990000,#9a0000,#9b0000,#9c0000,#9c0000,#9c0000,#9c0000,#9c0000,#9b0000,#9b0000,#9a0000,#990000,#970000,#960000,#950000,#940000,#920000,#910000,#900000,#900000,#900000,#900000,#910000,#920000,#940000,#970000,#9b0000,#9f0000,#a50000,#ac0000,#b30000,#bb0000,#c50000,#cf0000,#da0000,#e60000,#f30000,#ff0200,#ff1100,#ff2000,#ff2f00,#ff3e00,#ff4e00,#ff5d00,#ff6c00,#ff7a00,#ff8900,#ff9700,#ffa400,#ffb200,#ffbf00,#ffcb00,#ffd800,#ffe400,#ffef00,#fffb00,#ffff07),linear-gradient(90deg,#ffb500,#ffa400,#ff9200,#ff8000,#ff6e00,#ff5c00,#ff4900,#ff3700,#ff2500,#ff1400,#ff0300,#f10000,#e10000,#d10000,#c20000,#b30000,#a60000,#990000,#8d0000,#830000,#7a0000,#730000,#6d0000,#690000,#660000,#650000,#650000,#660000,#680000,#6b0000,#6f0000,#740000,#790000,#7e0000,#830000,#880000,#8d0000,#920000,#960000,#9a0000,#9d0000,#a00000,#a30000,#a50000,#a60000,#a80000,#a90000,#a90000,#a90000,#aa0000,#a90000,#a90000,#a80000,#a70000,#a60000,#a50000,#a40000,#a30000,#a10000,#a00000,#9f0000,#9f0000,#9e0000,#9e0000,#9e0000,#9f0000,#a00000,#a20000,#a40000,#a80000,#ac0000,#b10000,#b70000,#be0000,#c50000,#ce0000,#d80000,#e20000,#ed0000,#fa0000,#ff0800,#ff1500,#ff2400,#ff3200,#ff4100,#ff4f00,#ff5e00,#ff6c00,#ff7a00,#ff8800,#ff9600,#ffa300,#ffb000,#ffbd00,#ffc900,#ffd500,#ffe100,#ffed00,#fff800,#ffff04),linear-gradient(90deg,#ffbe00,#ffad00,#ff9b00,#ff8900,#ff7800,#ff6600,#ff5400,#ff4200,#ff3000,#ff1f00,#ff0e00,#fd0000,#ed0000,#de0000,#cf0000,#c10000,#b40000,#a70000,#9c0000,#920000,#890000,#810000,#7c0000,#770000,#740000,#730000,#730000,#740000,#760000,#790000,#7c0000,#800000,#850000,#8a0000,#8f0000,#940000,#990000,#9e0000,#a20000,#a60000,#aa0000,#ad0000,#b00000,#b20000,#b40000,#b50000,#b60000,#b70000,#b80000,#b80000,#b80000,#b80000,#b70000,#b60000,#b50000,#b40000,#b30000,#b20000,#b10000,#b00000,#af0000,#ae0000,#ad0000,#ad0000,#ad0000,#ae0000,#af0000,#b00000,#b20000,#b50000,#b90000,#bd0000,#c30000,#c90000,#d00000,#d80000,#e10000,#ea0000,#f50000,#ff0100,#ff0e00,#ff1b00,#ff2800,#ff3600,#ff4300,#ff5100,#ff5f00,#ff6d00,#ff7b00,#ff8800,#ff9500,#ffa200,#ffaf00,#ffbb00,#ffc700,#ffd300,#ffdf00,#ffea00,#fff500,#ffff01),linear-gradient(90deg,#ffc700,#ffb600,#ffa500,#ff9300,#ff8200,#ff7000,#ff5e00,#ff4c00,#ff3b00,#ff2a00,#ff1a00,#ff0a00,#fa0000,#eb0000,#dd0000,#cf0000,#c20000,#b60000,#ab0000,#a10000,#980000,#900000,#8b0000,#860000,#830000,#810000,#810000,#820000,#840000,#870000,#8a0000,#8e0000,#930000,#980000,#9d0000,#a20000,#a70000,#ab0000,#b00000,#b40000,#b70000,#bb0000,#be0000,#c00000,#c20000,#c40000,#c50000,#c60000,#c70000,#c70000,#c80000,#c70000,#c70000,#c60000,#c50000,#c40000,#c30000,#c20000,#c10000,#c00000,#bf0000,#be0000,#be0000,#bd0000,#bd0000,#be0000,#be0000,#c00000,#c10000,#c40000,#c70000,#cb0000,#cf0000,#d50000,#db0000,#e20000,#ea0000,#f30000,#fd0000,#ff0900,#ff1400,#ff2000,#ff2d00,#ff3a00,#ff4700,#ff5400,#ff6100,#ff6e00,#ff7b00,#ff8800,#ff9500,#ffa100,#ffae00,#ffba00,#ffc500,#ffd100,#ffdd00,#ffe800,#fff300,#fffd00),linear-gradient(90deg,#ffd000,#ffc000,#ffaf00,#ff9d00,#ff8c00,#ff7b00,#ff6900,#ff5700,#ff4600,#ff3500,#ff2500,#ff1600,#ff0700,#f80000,#ea0000,#dd0000,#d00000,#c50000,#ba0000,#b00000,#a70000,#a00000,#9a0000,#960000,#920000,#910000,#900000,#910000,#930000,#950000,#990000,#9d0000,#a10000,#a60000,#ab0000,#b00000,#b50000,#b90000,#be0000,#c20000,#c60000,#c90000,#cc0000,#cf0000,#d10000,#d30000,#d50000,#d60000,#d70000,#d80000,#d80000,#d80000,#d70000,#d70000,#d60000,#d50000,#d40000,#d30000,#d20000,#d10000,#d00000,#cf0000,#cf0000,#ce0000,#ce0000,#ce0000,#cf0000,#d00000,#d10000,#d30000,#d50000,#d90000,#dd0000,#e10000,#e70000,#ed0000,#f50000,#fd0000,#ff0700,#ff1100,#ff1b00,#ff2600,#ff3200,#ff3e00,#ff4a00,#ff5700,#ff6300,#ff7000,#ff7c00,#ff8800,#ff9500,#ffa100,#ffad00,#ffb800,#ffc400,#ffcf00,#ffdb00,#ffe600,#fff000,#fffb00),linear-gradient(90deg,#ffda00,#ffc900,#ffb900,#ffa800,#ff9700,#ff8500,#ff7400,#ff6300,#ff5200,#ff4100,#ff3100,#ff2200,#ff1400,#ff0600,#f80000,#eb0000,#df0000,#d30000,#c90000,#bf0000,#b70000,#b00000,#aa0000,#a50000,#a20000,#a00000,#a00000,#a00000,#a20000,#a40000,#a80000,#ac0000,#b00000,#b50000,#ba0000,#be0000,#c30000,#c80000,#cc0000,#d10000,#d50000,#d80000,#db0000,#de0000,#e10000,#e30000,#e50000,#e60000,#e70000,#e80000,#e80000,#e90000,#e80000,#e80000,#e70000,#e60000,#e50000,#e50000,#e40000,#e30000,#e20000,#e10000,#e10000,#e00000,#e00000,#e00000,#e00000,#e00000,#e10000,#e30000,#e50000,#e70000,#eb0000,#ef0000,#f30000,#f90000,#ff0100,#ff0800,#ff1000,#ff1900,#ff2300,#ff2d00,#ff3800,#ff4300,#ff4e00,#ff5a00,#ff6500,#ff7100,#ff7d00,#ff8900,#ff9500,#ffa100,#ffac00,#ffb800,#ffc300,#ffce00,#ffd900,#ffe400,#ffee00,#fff900),linear-gradient(90deg,#ffe400,#ffd400,#ffc300,#ffb200,#ffa100,#ff9000,#ff7f00,#ff6e00,#ff5d00,#ff4d00,#ff3e00,#ff2f00,#ff2100,#ff1300,#ff0600,#f90000,#ed0000,#e20000,#d80000,#cf0000,#c70000,#c00000,#ba0000,#b60000,#b20000,#b00000,#b00000,#b00000,#b20000,#b40000,#b70000,#bb0000,#bf0000,#c40000,#c90000,#cd0000,#d20000,#d70000,#db0000,#e00000,#e40000,#e80000,#eb0000,#ee0000,#f10000,#f30000,#f50000,#f70000,#f80000,#f90000,#fa0000,#fa0000,#fa0000,#fa0000,#f90000,#f80000,#f80000,#f70000,#f60000,#f50000,#f40000,#f40000,#f30000,#f20000,#f20000,#f20000,#f10000,#f20000,#f20000,#f30000,#f50000,#f70000,#f90000,#fc0000,#ff0100,#ff0600,#ff0c00,#ff1200,#ff1a00,#ff2200,#ff2b00,#ff3400,#ff3e00,#ff4800,#ff5200,#ff5d00,#ff6800,#ff7400,#ff7f00,#ff8a00,#ff9600,#ffa100,#ffac00,#ffb700,#ffc200,#ffcd00,#ffd800,#ffe200,#ffed00,#fff700),linear-gradient(90deg,#ffee00,#ffde00,#ffce00,#ffbd00,#ffac00,#ff9b00,#ff8a00,#ff7900,#ff6900,#ff5900,#ff4a00,#ff3b00,#ff2e00,#ff2000,#ff1400,#ff0800,#fc0000,#f10000,#e70000,#df0000,#d70000,#d00000,#ca0000,#c60000,#c30000,#c10000,#c00000,#c00000,#c10000,#c40000,#c70000,#ca0000,#ce0000,#d30000,#d80000,#dd0000,#e10000,#e60000,#eb0000,#ef0000,#f30000,#f70000,#fb0000,#fe0000,#ff0200,#ff0500,#ff0700,#ff0900,#ff0b00,#ff0c00,#ff0c00,#ff0d00,#ff0d00,#ff0d00,#ff0c00,#ff0c00,#ff0b00,#ff0b00,#ff0a00,#ff0900,#ff0800,#ff0700,#ff0700,#ff0600,#ff0500,#ff0500,#ff0500,#ff0400,#ff0400,#ff0500,#ff0600,#ff0700,#ff0900,#ff0c00,#ff0f00,#ff1300,#ff1800,#ff1d00,#ff2400,#ff2b00,#ff3300,#ff3b00,#ff4400,#ff4d00,#ff5700,#ff6100,#ff6c00,#ff7600,#ff8100,#ff8c00,#ff9700,#ffa200,#ffac00,#ffb700,#ffc200,#ffcc00,#ffd700,#ffe100,#ffeb00,#fff500),linear-gradient(90deg,#fff800,#ffe800,#ffd800,#ffc800,#ffb700,#ffa700,#ff9600,#ff8500,#ff7500,#ff6500,#ff5600,#ff4800,#ff3b00,#ff2e00,#ff2100,#ff1600,#ff0b00,#ff0100,#f70000,#ee0000,#e60000,#e00000,#da0000,#d60000,#d30000,#d10000,#d00000,#d00000,#d10000,#d30000,#d60000,#da0000,#de0000,#e20000,#e70000,#ec0000,#f10000,#f50000,#fa0000,#ff0000,#ff0400,#ff0800,#ff0c00,#ff1000,#ff1300,#ff1600,#ff1800,#ff1b00,#ff1c00,#ff1e00,#ff1f00,#ff1f00,#ff1f00,#ff1f00,#ff1f00,#ff1f00,#ff1e00,#ff1e00,#ff1d00,#ff1c00,#ff1b00,#ff1b00,#ff1a00,#ff1900,#ff1800,#ff1700,#ff1700,#ff1600,#ff1600,#ff1600,#ff1600,#ff1700,#ff1800,#ff1a00,#ff1d00,#ff2000,#ff2400,#ff2900,#ff2e00,#ff3500,#ff3b00,#ff4300,#ff4b00,#ff5300,#ff5c00,#ff6600,#ff6f00,#ff7900,#ff8300,#ff8e00,#ff9800,#ffa300,#ffad00,#ffb700,#ffc200,#ffcc00,#ffd600,#ffe000,#ffea00,#fff400),linear-gradient(90deg,#ffff04,#fff300,#ffe300,#ffd300,#ffc300,#ffb200,#ffa200,#ff9100,#ff8100,#ff7200,#ff6300,#ff5500,#ff4800,#ff3b00,#ff2f00,#ff2400,#ff1900,#ff1000,#ff0700,#fd0000,#f60000,#ef0000,#ea0000,#e60000,#e20000,#e00000,#df0000,#e00000,#e10000,#e30000,#e50000,#e90000,#ed0000,#f10000,#f60000,#fb0000,#ff0100,#ff0600,#ff0b00,#ff0f00,#ff1400,#ff1800,#ff1c00,#ff2000,#ff2400,#ff2700,#ff2a00,#ff2c00,#ff2e00,#ff3000,#ff3100,#ff3100,#ff3200,#ff3200,#ff3200,#ff3100,#ff3100,#ff3100,#ff3000,#ff2f00,#ff2f00,#ff2e00,#ff2d00,#ff2c00,#ff2b00,#ff2a00,#ff2900,#ff2800,#ff2800,#ff2700,#ff2700,#ff2700,#ff2800,#ff2900,#ff2b00,#ff2d00,#ff3000,#ff3400,#ff3900,#ff3e00,#ff4400,#ff4b00,#ff5200,#ff5a00,#ff6200,#ff6a00,#ff7300,#ff7d00,#ff8600,#ff9000,#ff9a00,#ffa400,#ffae00,#ffb800,#ffc200,#ffcc00,#ffd600,#ffe000,#ffea00,#fff300),linear-gradient(90deg,#ffff0f,#ffff00,#ffef00,#ffdf00,#ffcf00,#ffbe00,#ffae00,#ff9e00,#ff8e00,#ff7f00,#ff7000,#ff6200,#ff5500,#ff4900,#ff3d00,#ff3200,#ff2800,#ff1e00,#ff1500,#ff0d00,#ff0600,#ff0000,#fa0000,#f50000,#f20000,#f00000,#ef0000,#ef0000,#f00000,#f20000,#f50000,#f80000,#fc0000,#ff0200,#ff0600,#ff0b00,#ff1000,#ff1500,#ff1a00,#ff1f00,#ff2400,#ff2800,#ff2d00,#ff3100,#ff3400,#ff3800,#ff3b00,#ff3d00,#ff3f00,#ff4100,#ff4300,#ff4300,#ff4400,#ff4400,#ff4400,#ff4400,#ff4400,#ff4300,#ff4300,#ff4200,#ff4200,#ff4100,#ff4000,#ff3f00,#ff3e00,#ff3d00,#ff3c00,#ff3a00,#ff3900,#ff3900,#ff3800,#ff3700,#ff3700,#ff3800,#ff3900,#ff3b00,#ff3d00,#ff4000,#ff4400,#ff4800,#ff4d00,#ff5300,#ff5a00,#ff6000,#ff6800,#ff7000,#ff7800,#ff8100,#ff8a00,#ff9300,#ff9c00,#ffa600,#ffaf00,#ffb900,#ffc300,#ffcc00,#ffd600,#ffe000,#ffe900,#fff300),linear-gradient(90deg,#ffff1a,#ffff0b,#fffb00,#ffeb00,#ffdb00,#ffcb00,#ffba00,#ffaa00,#ff9b00,#ff8c00,#ff7d00,#ff7000,#ff6300,#ff5700,#ff4b00,#ff4000,#ff3600,#ff2d00,#ff2400,#ff1d00,#ff1600,#ff0f00,#ff0a00,#ff0600,#ff0300,#ff0100,#ff0000,#ff0000,#ff0100,#ff0200,#ff0500,#ff0800,#ff0c00,#ff1100,#ff1500,#ff1a00,#ff1f00,#ff2500,#ff2a00,#ff2f00,#ff3300,#ff3800,#ff3d00,#ff4100,#ff4500,#ff4800,#ff4b00,#ff4e00,#ff5100,#ff5300,#ff5400,#ff5500,#ff5600,#ff5600,#ff5700,#ff5700,#ff5600,#ff5600,#ff5600,#ff5500,#ff5400,#ff5400,#ff5300,#ff5200,#ff5000,#ff4f00,#ff4e00,#ff4c00,#ff4b00,#ff4a00,#ff4900,#ff4800,#ff4700,#ff4700,#ff4700,#ff4800,#ff4a00,#ff4c00,#ff4f00,#ff5300,#ff5700,#ff5c00,#ff6100,#ff6700,#ff6e00,#ff7500,#ff7d00,#ff8500,#ff8e00,#ff9600,#ff9f00,#ffa800,#ffb100,#ffbb00,#ffc400,#ffcd00,#ffd600,#ffe000,#ffe900,#fff200),linear-gradient(90deg,#ffff25,#ffff17,#ffff08,#fff700,#ffe700,#ffd700,#ffc700,#ffb700,#ffa800,#ff9900,#ff8b00,#ff7d00,#ff7100,#ff6500,#ff5900,#ff4f00,#ff4500,#ff3c00,#ff3300,#ff2c00,#ff2500,#ff1f00,#ff1a00,#ff1500,#ff1200,#ff1000,#ff0f00,#ff0f00,#ff1000,#ff1200,#ff1400,#ff1800,#ff1b00,#ff2000,#ff2400,#ff2900,#ff2e00,#ff3400,#ff3900,#ff3e00,#ff4300,#ff4800,#ff4c00,#ff5100,#ff5500,#ff5800,#ff5c00,#ff5f00,#ff6100,#ff6400,#ff6500,#ff6700,#ff6800,#ff6800,#ff6800,#ff6900,#ff6900,#ff6800,#ff6800,#ff6700,#ff6700,#ff6600,#ff6500,#ff6400,#ff6300,#ff6100,#ff5f00,#ff5e00,#ff5c00,#ff5a00,#ff5900,#ff5800,#ff5600,#ff5600,#ff5500,#ff5600,#ff5700,#ff5800,#ff5a00,#ff5d00,#ff6000,#ff6500,#ff6900,#ff6f00,#ff7500,#ff7c00,#ff8300,#ff8a00,#ff9200,#ff9a00,#ffa200,#ffab00,#ffb400,#ffbc00,#ffc500,#ffce00,#ffd700,#ffe000,#ffe900,#fff200),linear-gradient(90deg,#ffff31,#ffff22,#ffff14,#ffff05,#fff400,#ffe500,#ffd500,#ffc500,#ffb500,#ffa600,#ff9800,#ff8b00,#ff7e00,#ff7200,#ff6700,#ff5d00,#ff5300,#ff4a00,#ff4200,#ff3b00,#ff3400,#ff2e00,#ff2900,#ff2500,#ff2200,#ff2000,#ff1f00,#ff1e00,#ff1f00,#ff2100,#ff2300,#ff2700,#ff2a00,#ff2f00,#ff3300,#ff3800,#ff3d00,#ff4200,#ff4700,#ff4d00,#ff5200,#ff5700,#ff5b00,#ff6000,#ff6400,#ff6800,#ff6c00,#ff6f00,#ff7200,#ff7400,#ff7600,#ff7800,#ff7900,#ff7900,#ff7a00,#ff7a00,#ff7a00,#ff7a00,#ff7a00,#ff7900,#ff7900,#ff7800,#ff7700,#ff7500,#ff7400,#ff7200,#ff7100,#ff6f00,#ff6d00,#ff6b00,#ff6900,#ff6700,#ff6500,#ff6400,#ff6300,#ff6300,#ff6300,#ff6400,#ff6500,#ff6700,#ff6a00,#ff6e00,#ff7200,#ff7700,#ff7c00,#ff8200,#ff8800,#ff8f00,#ff9700,#ff9e00,#ffa600,#ffae00,#ffb600,#ffbf00,#ffc700,#ffd000,#ffd800,#ffe100,#ffea00,#fff200),linear-gradient(90deg,#ffff3c,#ffff2e,#ffff20,#ffff12,#ffff02,#fff200,#ffe200,#ffd200,#ffc300,#ffb400,#ffa600,#ff9900,#ff8c00,#ff8000,#ff7600,#ff6b00,#ff6200,#ff5900,#ff5100,#ff4900,#ff4300,#ff3d00,#ff3800,#ff3400,#ff3100,#ff2f00,#ff2e00,#ff2e00,#ff2e00,#ff3000,#ff3200,#ff3500,#ff3900,#ff3d00,#ff4200,#ff4600,#ff4b00,#ff5100,#ff5600,#ff5b00,#ff6000,#ff6500,#ff6a00,#ff6f00,#ff7300,#ff7700,#ff7b00,#ff7f00,#ff8200,#ff8400,#ff8600,#ff8800,#ff8900,#ff8a00,#ff8a00,#ff8b00,#ff8b00,#ff8b00,#ff8b00,#ff8a00,#ff8a00,#ff8900,#ff8800,#ff8600,#ff8500,#ff8300,#ff8100,#ff7f00,#ff7d00,#ff7b00,#ff7800,#ff7600,#ff7400,#ff7200,#ff7100,#ff7000,#ff7000,#ff7000,#ff7100,#ff7200,#ff7400,#ff7700,#ff7b00,#ff7f00,#ff8400,#ff8900,#ff8f00,#ff9500,#ff9c00,#ffa300,#ffaa00,#ffb200,#ffb900,#ffc100,#ffc900,#ffd200,#ffda00,#ffe200,#ffea00,#fff300),linear-gradient(90deg,#ffff48,#ffff3a,#ffff2d,#ffff1e,#ffff10,#ffff00,#fff000,#ffe000,#ffd100,#ffc200,#ffb400,#ffa600,#ff9a00,#ff8e00,#ff8400,#ff7a00,#ff7000,#ff6800,#ff6000,#ff5800,#ff5200,#ff4c00,#ff4700,#ff4300,#ff4000,#ff3e00,#ff3d00,#ff3c00,#ff3d00,#ff3f00,#ff4100,#ff4400,#ff4700,#ff4b00,#ff5000,#ff5400,#ff5900,#ff5e00,#ff6400,#ff6900,#ff6e00,#ff7300,#ff7800,#ff7d00,#ff8200,#ff8600,#ff8a00,#ff8e00,#ff9100,#ff9400,#ff9600,#ff9700,#ff9900,#ff9a00,#ff9a00,#ff9b00,#ff9b00,#ff9b00,#ff9b00,#ff9a00,#ff9a00,#ff9900,#ff9800,#ff9600,#ff9500,#ff9300,#ff9100,#ff8e00,#ff8c00,#ff8900,#ff8700,#ff8400,#ff8200,#ff8000,#ff7e00,#ff7d00,#ff7c00,#ff7c00,#ff7c00,#ff7d00,#ff7e00,#ff8100,#ff8400,#ff8700,#ff8b00,#ff9000,#ff9500,#ff9b00,#ffa100,#ffa800,#ffae00,#ffb600,#ffbd00,#ffc400,#ffcc00,#ffd400,#ffdc00,#ffe400,#ffec00,#fff400),linear-gradient(90deg,#ffff53,#ffff46,#ffff39,#ffff2b,#ffff1d,#ffff0e,#fffe00,#ffee00,#ffde00,#ffd000,#ffc100,#ffb400,#ffa800,#ff9c00,#ff9200,#ff8800,#ff7f00,#ff7600,#ff6e00,#ff6700,#ff6100,#ff5b00,#ff5600,#ff5200,#ff4f00,#ff4d00,#ff4c00,#ff4b00,#ff4c00,#ff4d00,#ff4f00,#ff5200,#ff5500,#ff5900,#ff5d00,#ff6200,#ff6700,#ff6c00,#ff7100,#ff7600,#ff7c00,#ff8100,#ff8600,#ff8b00,#ff9000,#ff9400,#ff9800,#ff9c00,#ff9f00,#ffa200,#ffa400,#ffa600,#ffa700,#ffa800,#ffa900,#ffaa00,#ffaa00,#ffaa00,#ffaa00,#ffa900,#ffa800,#ffa800,#ffa600,#ffa500,#ffa300,#ffa100,#ff9f00,#ff9d00,#ff9a00,#ff9700,#ff9500,#ff9200,#ff8f00,#ff8d00,#ff8b00,#ff8900,#ff8800,#ff8700,#ff8700,#ff8700,#ff8800,#ff8a00,#ff8d00,#ff9000,#ff9300,#ff9700,#ff9c00,#ffa100,#ffa700,#ffad00,#ffb300,#ffba00,#ffc100,#ffc800,#ffcf00,#ffd600,#ffde00,#ffe500,#ffed00,#fff500),linear-gradient(90deg,#ffff5f,#ffff52,#ffff45,#ffff38,#ffff2a,#ffff1c,#ffff0c,#fffc00,#ffec00,#ffdd00,#ffcf00,#ffc200,#ffb600,#ffaa00,#ffa000,#ff9600,#ff8d00,#ff8400,#ff7d00,#ff7600,#ff6f00,#ff6a00,#ff6500,#ff6100,#ff5e00,#ff5c00,#ff5a00,#ff5a00,#ff5a00,#ff5b00,#ff5d00,#ff6000,#ff6300,#ff6600,#ff6b00,#ff6f00,#ff7400,#ff7900,#ff7e00,#ff8300,#ff8900,#ff8e00,#ff9300,#ff9800,#ff9d00,#ffa100,#ffa500,#ffa900,#ffac00,#ffaf00,#ffb100,#ffb300,#ffb500,#ffb600,#ffb700,#ffb700,#ffb800,#ffb800,#ffb800,#ffb700,#ffb600,#ffb500,#ffb400,#ffb300,#ffb100,#ffaf00,#ffad00,#ffaa00,#ffa700,#ffa500,#ffa200,#ff9f00,#ff9c00,#ff9900,#ff9700,#ff9500,#ff9300,#ff9200,#ff9200,#ff9200,#ff9200,#ff9400,#ff9600,#ff9800,#ff9b00,#ff9f00,#ffa300,#ffa800,#ffad00,#ffb300,#ffb800,#ffbf00,#ffc500,#ffcb00,#ffd200,#ffd900,#ffe000,#ffe700,#ffef00,#fff700),linear-gradient(90deg,#ffff6a,#ffff5d,#ffff51,#ffff44,#ffff37,#ffff29,#ffff1a,#ffff0a,#fffa00,#ffeb00,#ffdd00,#ffd000,#ffc400,#ffb800,#ffae00,#ffa400,#ff9b00,#ff9300,#ff8b00,#ff8400,#ff7e00,#ff7800,#ff7400,#ff7000,#ff6d00,#ff6a00,#ff6900,#ff6800,#ff6800,#ff6900,#ff6b00,#ff6d00,#ff7000,#ff7400,#ff7800,#ff7c00,#ff8100,#ff8600,#ff8b00,#ff9000,#ff9500,#ff9a00,#ff9f00,#ffa400,#ffa900,#ffad00,#ffb200,#ffb500,#ffb900,#ffbc00,#ffbe00,#ffc000,#ffc200,#ffc300,#ffc400,#ffc500,#ffc500,#ffc500,#ffc500,#ffc400,#ffc300,#ffc200,#ffc100,#ffc000,#ffbe00,#ffbc00,#ffb900,#ffb700,#ffb400,#ffb100,#ffae00,#ffab00,#ffa800,#ffa500,#ffa300,#ffa100,#ff9f00,#ff9d00,#ff9c00,#ff9c00,#ff9c00,#ff9d00,#ff9f00,#ffa100,#ffa400,#ffa700,#ffab00,#ffaf00,#ffb300,#ffb800,#ffbe00,#ffc300,#ffc900,#ffcf00,#ffd600,#ffdc00,#ffe300,#ffea00,#fff100,#fff800),linear-gradient(90deg,#ffff74,#ffff68,#ffff5c,#ffff50,#ffff43,#ffff36,#ffff27,#ffff18,#ffff08,#fff900,#ffeb00,#ffde00,#ffd200,#ffc600,#ffbc00,#ffb200,#ffa900,#ffa100,#ff9900,#ff9300,#ff8c00,#ff8700,#ff8200,#ff7f00,#ff7b00,#ff7900,#ff7700,#ff7700,#ff7700,#ff7800,#ff7900,#ff7b00,#ff7e00,#ff8100,#ff8500,#ff8900,#ff8d00,#ff9200,#ff9700,#ff9c00,#ffa100,#ffa600,#ffab00,#ffb000,#ffb500,#ffb900,#ffbe00,#ffc100,#ffc500,#ffc800,#ffca00,#ffcc00,#ffce00,#ffcf00,#ffd000,#ffd100,#ffd100,#ffd100,#ffd100,#ffd100,#ffd000,#ffcf00,#ffcd00,#ffcc00,#ffca00,#ffc800,#ffc500,#ffc300,#ffc000,#ffbd00,#ffba00,#ffb700,#ffb400,#ffb100,#ffae00,#ffac00,#ffaa00,#ffa800,#ffa700,#ffa600,#ffa600,#ffa700,#ffa800,#ffaa00,#ffac00,#ffaf00,#ffb200,#ffb600,#ffba00,#ffbe00,#ffc300,#ffc900,#ffce00,#ffd400,#ffd900,#ffdf00,#ffe600,#ffec00,#fff300,#fffb00),linear-gradient(90deg,#ffff7e,#ffff73,#ffff67,#ffff5b,#ffff4e,#ffff41,#ffff33,#ffff24,#ffff15,#ffff07,#fff800,#ffeb00,#ffdf00,#ffd400,#ffca00,#ffc000,#ffb700,#ffaf00,#ffa800,#ffa100,#ff9b00,#ff9600,#ff9100,#ff8d00,#ff8a00,#ff8800,#ff8600,#ff8500,#ff8500,#ff8600,#ff8700,#ff8900,#ff8b00,#ff8e00,#ff9200,#ff9500,#ff9a00,#ff9e00,#ffa300,#ffa800,#ffad00,#ffb200,#ffb700,#ffbc00,#ffc100,#ffc500,#ffc900,#ffcd00,#ffd000,#ffd300,#ffd500,#ffd800,#ffd900,#ffdb00,#ffdc00,#ffdc00,#ffdd00,#ffdd00,#ffdd00,#ffdc00,#ffdb00,#ffda00,#ffd900,#ffd700,#ffd500,#ffd300,#ffd000,#ffce00,#ffcb00,#ffc800,#ffc500,#ffc200,#ffbf00,#ffbc00,#ffb900,#ffb700,#ffb400,#ffb300,#ffb100,#ffb000,#ffb000,#ffb000,#ffb100,#ffb200,#ffb400,#ffb700,#ffba00,#ffbd00,#ffc100,#ffc500,#ffc900,#ffce00,#ffd300,#ffd800,#ffdd00,#ffe300,#ffe900,#ffef00,#fff600,#fffd00),linear-gradient(90deg,#ffff88,#ffff7d,#ffff71,#ffff65,#ffff59,#ffff4c,#ffff3f,#ffff30,#ffff22,#ffff14,#ffff07,#fff900,#ffed00,#ffe200,#ffd800,#ffce00,#ffc600,#ffbe00,#ffb600,#ffaf00,#ffa900,#ffa400,#ffa000,#ff9c00,#ff9900,#ff9600,#ff9500,#ff9400,#ff9300,#ff9400,#ff9500,#ff9600,#ff9900,#ff9b00,#ff9f00,#ffa200,#ffa600,#ffab00,#ffaf00,#ffb400,#ffb900,#ffbe00,#ffc300,#ffc700,#ffcc00,#ffd000,#ffd400,#ffd800,#ffdb00,#ffde00,#ffe000,#ffe300,#ffe400,#ffe600,#ffe700,#ffe700,#ffe800,#ffe800,#ffe800,#ffe700,#ffe600,#ffe500,#ffe400,#ffe200,#ffe000,#ffde00,#ffdb00,#ffd900,#ffd600,#ffd300,#ffd000,#ffcd00,#ffc900,#ffc600,#ffc400,#ffc100,#ffbf00,#ffbd00,#ffbb00,#ffba00,#ffba00,#ffba00,#ffba00,#ffbb00,#ffbd00,#ffbf00,#ffc100,#ffc400,#ffc700,#ffcb00,#ffcf00,#ffd300,#ffd800,#ffdd00,#ffe200,#ffe700,#ffed00,#fff300,#fff900,#ffff01),linear-gradient(90deg,#ffff92,#ffff87,#ffff7b,#ffff6f,#ffff63,#ffff56,#ffff49,#ffff3c,#ffff2e,#ffff21,#ffff14,#ffff08,#fffb00,#fff000,#ffe600,#ffdd00,#ffd400,#ffcc00,#ffc400,#ffbe00,#ffb800,#ffb300,#ffae00,#ffaa00,#ffa700,#ffa500,#ffa300,#ffa200,#ffa200,#ffa200,#ffa300,#ffa400,#ffa600,#ffa900,#ffab00,#ffaf00,#ffb300,#ffb700,#ffbb00,#ffc000,#ffc500,#ffc900,#ffce00,#ffd200,#ffd700,#ffdb00,#ffdf00,#ffe200,#ffe500,#ffe800,#ffeb00,#ffed00,#ffef00,#fff000,#fff100,#fff200,#fff200,#fff200,#fff200,#fff100,#fff100,#ffef00,#ffee00,#ffec00,#ffea00,#ffe800,#ffe500,#ffe300,#ffe000,#ffdd00,#ffda00,#ffd700,#ffd400,#ffd100,#ffce00,#ffcb00,#ffc900,#ffc700,#ffc500,#ffc400,#ffc300,#ffc300,#ffc300,#ffc400,#ffc500,#ffc700,#ffc900,#ffcc00,#ffce00,#ffd200,#ffd500,#ffd900,#ffdd00,#ffe200,#ffe700,#ffec00,#fff100,#fff700,#fffd00,#ffff04),linear-gradient(90deg,#ffff9b,#ffff90,#ffff85,#ffff79,#ffff6d,#ffff61,#ffff54,#ffff47,#ffff3a,#ffff2d,#ffff21,#ffff15,#ffff09,#fffe00,#fff400,#ffeb00,#ffe200,#ffda00,#ffd300,#ffcc00,#ffc600,#ffc100,#ffbd00,#ffb900,#ffb600,#ffb300,#ffb100,#ffb000,#ffb000,#ffb000,#ffb000,#ffb200,#ffb300,#ffb600,#ffb800,#ffbc00,#ffbf00,#ffc300,#ffc700,#ffcc00,#ffd000,#ffd400,#ffd900,#ffdd00,#ffe100,#ffe500,#ffe900,#ffec00,#fff000,#fff200,#fff500,#fff700,#fff900,#fffa00,#fffb00,#fffc00,#fffc00,#fffc00,#fffc00,#fffb00,#fffa00,#fff900,#fff800,#fff600,#fff400,#fff200,#ffef00,#ffed00,#ffea00,#ffe700,#ffe400,#ffe100,#ffde00,#ffdb00,#ffd800,#ffd500,#ffd300,#ffd100,#ffcf00,#ffce00,#ffcd00,#ffcc00,#ffcc00,#ffcd00,#ffce00,#ffcf00,#ffd100,#ffd300,#ffd600,#ffd900,#ffdc00,#ffdf00,#ffe300,#ffe700,#ffec00,#fff000,#fff600,#fffb00,#ffff02,#ffff08),linear-gradient(90deg,#ffffa4,#ffff99,#ffff8e,#ffff83,#ffff77,#ffff6b,#ffff5f,#ffff52,#ffff46,#ffff39,#ffff2d,#ffff22,#ffff17,#ffff0c,#ffff02,#fff800,#fff000,#ffe800,#ffe100,#ffda00,#ffd400,#ffcf00,#ffcb00,#ffc700,#ffc400,#ffc100,#ffbf00,#ffbe00,#ffbe00,#ffbe00,#ffbe00,#ffbf00,#ffc100,#ffc300,#ffc500,#ffc800,#ffcc00,#ffcf00,#ffd300,#ffd700,#ffdb00,#ffe000,#ffe400,#ffe800,#ffec00,#fff000,#fff300,#fff600,#fff900,#fffc00,#ffff00,#ffff02,#ffff03,#ffff05,#ffff06,#ffff06,#ffff07,#ffff07,#ffff06,#ffff06,#ffff05,#ffff04,#ffff02,#ffff00,#fffd00,#fffb00,#fff900,#fff600,#fff300,#fff000,#ffed00,#ffea00,#ffe700,#ffe400,#ffe200,#ffdf00,#ffdc00,#ffda00,#ffd900,#ffd700,#ffd600,#ffd500,#ffd500,#ffd500,#ffd600,#ffd700,#ffd900,#ffdb00,#ffdd00,#ffdf00,#ffe200,#ffe600,#ffe900,#ffed00,#fff100,#fff600,#fffb00,#ffff01,#ffff06,#ffff0c);background-position:0 0%,0 1.01%,0 2.02%,0 3.03%,0 4.04%,0 5.051%,0 6.061%,0 7.071%,0 8.081%,0 9.091%,0 10.1%,0 11.11%,0 12.12%,0 13.13%,0 14.14%,0 15.15%,0 16.16%,0 17.17%,0 18.18%,0 19.19%,0 20.2%,0 21.21%,0 22.22%,0 23.23%,0 24.24%,0 25.25%,0 26.26%,0 27.27%,0 28.28%,0 29.29%,0 30.3%,0 31.31%,0 32.32%,0 33.33%,0 34.34%,0 35.35%,0 36.36%,0 37.37%,0 38.38%,0 39.39%,0 40.4%,0 41.41%,0 42.42%,0 43.43%,0 44.44%,0 45.45%,0 46.46%,0 47.47%,0 48.48%,0 49.49%,0 50.51%,0 51.52%,0 52.53%,0 53.54%,0 54.55%,0 55.56%,0 56.57%,0 57.58%,0 58.59%,0 59.6%,0 60.61%,0 61.62%,0 62.63%,0 63.64%,0 64.65%,0 65.66%,0 66.67%,0 67.68%,0 68.69%,0 69.7%,0 70.71%,0 71.72%,0 72.73%,0 73.74%,0 74.75%,0 75.76%,0 76.77%,0 77.78%,0 78.79%,0 79.8%,0 80.81%,0 81.82%,0 82.83%,0 83.84%,0 84.85%,0 85.86%,0 86.87%,0 87.88%,0 88.89%,0 89.9%,0 90.91%,0 91.92%,0 92.93%,0 93.94%,0 94.95%,0 95.96%,0 96.97%,0 97.98%,0 98.99%,0 100%;background-size:100% 1.25%;background-repeat:no-repeat;background-color:#808080}
</style></head><body>
<svg width="0" height="0" style="position:absolute"><defs>
<filter id="Ff" x="0" y="0" width="100%" height="100%" color-interpolation-filters="sRGB"><feGaussianBlur stdDeviation="0 3.5" result="b"/><feComponentTransfer in="b" result="t"><feFuncR type="table" tableValues=".103 .11 .117 .124 .132 .139 .146 .154 .161 .168 .175 .183 .19 .197 .204 .212 .219 .226 .234 .241 .248 .255 .263 .27 .277 .284 .292 .299 .306 .314 .321 .328 .335 .343 .35 .357 .364 .372 .379 .386 .394 .401 .408 .415 .423 .43 .437 .444 .452 .459 .466 .474 .481 .488 .495 .503 .51 .517 .525 .532 .539 .546 .554 .561 .568 .575 .583 .59 .597 .605 .612 .619 .626 .634 .641 .648 .655 .663 .67 .677 .685 .692 .699 .706 .714 .721 .728 .735 .743 .75 .757 .765 .772 .779 .786 .794 .801 .808 .815 .823 .83 .837 .845 .852 .859 .866 .874 .881 .888 .895 .903 .91 .917 .925 .932 .939 .946 .954 .961 .968 .975 .983 .99 .997 .005 .012 .019 .026 .034 .041 .048 .056 .063 .07 .077 .085 .092 .099 .106 .114 .121 .128 .136 .143 .15 .157 .165 .172 .179 .186 .194 .201 .208 .216 .223 .23 .237 .245 .252 .259 .266 .274 .281 .288 .296 .303 .31 .317 .325 .332 .339 .346 .354 .361 .368 .376 .383 .39 .397 .405 .412 .419 .426 .434 .441 .448 .456 .463 .47 .477 .485 .492 .499 .507 .514 .521 .528 .536 .543 .55 .557 .565 .572 .579 .587 .594 .601 .608 .616 .623 .63 .637 .645 .652 .659 .667 .674 .681 .688 .696 .703 .71 .717 .725 .732 .739 .747 .754 .761 .768 .776 .783 .79 .797 .805 .812 .819 .827 .834 .841 .848 .856 .863 .87 .877 .885 .892 .899 .907 .914 .921 .928 .936 .943 .95 .957"/><feFuncG type="table" tableValues=".5 .504 .507 .511 .515 .518 .022 .025 .029 .033 .036 .04 .044 .047 .051 .055 .058 .062 .065 .069 .073 .076 .08 .084 .087 .091 .095 .098 .102 .105 .109 .113 .116 .12 .124 .127 .131 .135 .138 .142 .145 .149 .153 .156 .16 .164 .167 .171 .175 .178 .182 .185 .189 .193 .196 .2 .204 .207 .211 .215 .218 .222 .225 .229 .233 .236 .24 .244 .247 .251 .255 .258 .262 .266 .269 .273 .276 .28 .284 .287 .291 .295 .298 .302 .306 .309 .313 .316 .32 .324 .327 .331 .335 .338 .342 .346 .349 .353 .356 .36 .364 .367 .371 .375 .378 .382 .386 .389 .393 .396 .4 .404 .407 .411 .415 .418 .422 .426 .429 .433 .436 .44 .444 .447 .451 .455 .458 .462 .466 .469 .473 .476 .48 .484 .487 .491 .495 .498 .502 .506 .509 .513 .516 .52 .024 .027 .031 .035 .038 .042 .046 .049 .053 .056 .06 .064 .067 .071 .075 .078 .082 .086 .089 .093 .096 .1 .104 .107 .111 .115 .118 .122 .126 .129 .133 .136 .14 .144 .147 .151 .155 .158 .162 .166 .169 .173 .176 .18 .184 .187 .191 .195 .198 .202 .206 .209 .213 .216 .22 .224 .227 .231 .235 .238 .242 .246 .249 .253 .257 .26 .264 .267 .271 .275 .278 .282 .286 .289 .293 .297 .3 .304 .307 .311 .315 .318 .322 .326 .329 .333 .337 .34 .344 .347 .351 .355 .358 .362 .366 .369 .373 .377 .38 .384 .387 .391 .395 .398 .402 .406 .409 .413 .417 .42 .424 .427"/><feFuncB type="table" tableValues=".5 .504 .507 .511 .515 .518 .522 .525 .529 .533 .536 .54 .544 .547 .551 .555 .558 .562 .565 .569 .573 .576 .58 .584 .587 .591 .095 .098 .102 .105 .109 .113 .116 .12 .124 .127 .131 .135 .138 .142 .145 .149 .153 .156 .16 .164 .167 .171 .175 .178 .182 .185 .189 .193 .196 .2 .204 .207 .211 .215 .218 .222 .225 .229 .233 .236 .24 .244 .247 .251 .255 .258 .262 .266 .269 .273 .276 .28 .284 .287 .291 .295 .298 .302 .306 .309 .313 .316 .32 .324 .327 .331 .335 .338 .342 .346 .349 .353 .356 .36 .364 .367 .371 .375 .378 .382 .386 .389 .393 .396 .4 .404 .407 .411 .415 .418 .422 .426 .429 .433 .436 .44 .444 .447 .451 .455 .458 .462 .466 .469 .473 .476 .48 .484 .487 .491 .495 .498 .502 .506 .509 .513 .516 .52 .524 .527 .531 .535 .538 .542 .546 .549 .553 .556 .56 .564 .567 .571 .575 .578 .582 .586 .589 .593 .096 .1 .104 .107 .111 .115 .118 .122 .126 .129 .133 .136 .14 .144 .147 .151 .155 .158 .162 .166 .169 .173 .176 .18 .184 .187 .191 .195 .198 .202 .206 .209 .213 .216 .22 .224 .227 .231 .235 .238 .242 .246 .249 .253 .257 .26 .264 .267 .271 .275 .278 .282 .286 .289 .293 .297 .3 .304 .307 .311 .315 .318 .322 .326 .329 .333 .337 .34 .344 .347 .351 .355 .358 .362 .366 .369 .373 .377 .38 .384 .387 .391 .395 .398 .402 .406 .409 .413 .417 .42 .424 .427"/></feComponentTransfer><feColorMatrix in="t" type="matrix" values="1 2 2 0 -2 1 2 2 0 -2 1 2 2 0 -2 0 0 0 0 1"/></filter>
<filter id="Fg" x="0" y="0" width="100%" height="100%" color-interpolation-filters="sRGB"><feGaussianBlur stdDeviation="0 3.5" result="b"/><feComponentTransfer in="b" result="t"><feFuncR type="table" tableValues=".824 .833 .842 .851 .859 .868 .877 .886 .895 .903 .912 .921 .93 .939 .947 .956 .965 .974 .983 .991 0 .009 .018 .027 .035 .044 .053 .062 .071 .079 .088 .097 .106 .115 .123 .132 .141 .15 .159 .167 .176 .185 .194 .203 .211 .22 .229 .238 .247 .255 .264 .273 .282 .291 .299 .308 .317 .326 .335 .343 .352 .361 .37 .379 .387 .396 .405 .414 .423 .431 .44 .449 .458 .467 .475 .484 .493 .502 .511 .519 .528 .537 .546 .555 .563 .572 .581 .59 .599 .608 .616 .625 .634 .643 .652 .66 .669 .678 .687 .696 .704 .713 .722 .731 .74 .748 .757 .766 .775 .784 .792 .801 .81 .819 .828 .836 .845 .854 .863 .872 .88 .889 .898 .907 .916 .924 .933 .942 .951 .96 .968 .977 .986 .995 .004 .012 .021 .03 .039 .048 .056 .065 .074 .083 .092 .1 .109 .118 .127 .136 .144 .153 .162 .171 .18 .188 .197 .206 .215 .224 .232 .241 .25 .259 .268 .276 .285 .294 .303 .312 .32 .329 .338 .347 .356 .364 .373 .382 .391 .4 .408 .417 .426 .435 .444 .452 .461 .47 .479 .488 .496 .505 .514 .523 .532 .54 .549 .558 .567 .576 .584 .593 .602 .611 .62 .628 .637 .646 .655 .664 .673 .681 .69 .699 .708 .717 .725 .734 .743 .752 .761 .769 .778 .787 .796 .805 .813 .822 .831 .84 .849 .857 .866 .875 .884 .893 .901 .91 .919 .928 .937 .945 .954 .963 .972 .981 .989 .998 .007 .016 .025 .033 .042 .051 .06 .069"/><feFuncG type="table" tableValues=".5 .504 .509 .513 .518 .522 .526 .531 .535 .54 .544 .548 .553 .557 .562 .566 .57 .575 .579 .584 .588 .592 .597 .601 .606 .61 .614 .619 .623 .628 .632 .636 .641 .645 .65 .654 .658 .663 .667 .672 .676 .68 .685 .689 .694 .698 .702 .707 .711 .716 .72 .724 .729 .733 .738 .742 .746 .751 .755 .76 .764 .768 .773 .777 .782 .786 .79 .795 .799 .804 .808 .812 .817 .821 .826 .83 .834 .839 .843 .848 .852 .856 .861 .865 .87 .874 .878 .883 .887 .892 .896 .9 .905 .909 .914 .918 .922 .927 .931 .936 .94 .944 .949 .953 .958 .962 .466 .471 .475 .48 .484 .488 .493 .497 .502 .506 .51 .515 .519 .524 .528 .532 .537 .541 .546 .55 .555 .559 .563 .568 .572 .577 .581 .585 .59 .594 .599 .603 .607 .612 .616 .621 .625 .629 .634 .638 .643 .647 .651 .656 .66 .665 .669 .673 .678 .682 .687 .691 .695 .7 .704 .709 .713 .717 .722 .726 .731 .735 .739 .744 .748 .753 .757 .761 .766 .77 .775 .779 .783 .788 .792 .797 .801 .805 .81 .814 .819 .823 .827 .832 .836 .841 .845 .849 .854 .858 .863 .867 .871 .876 .88 .885 .889 .893 .898 .902 .907 .911 .915 .92 .924 .929 .933 .937 .942 .946 .951 .955 .959 .964 .468 .473 .477 .481 .486 .49 .495 .499 .503 .508 .512 .517 .521 .525 .53 .534 .539 .543 .547 .552 .556 .561 .565 .569 .574 .578 .583 .587 .591 .596 .6 .605 .609 .613 .618 .622"/><feFuncB type="table" tableValues=".5 .504 .509 .513 .518 .522 .526 .531 .535 .54 .544 .548 .553 .557 .562 .566 .57 .575 .579 .584 .588 .592 .597 .601 .606 .61 .614 .619 .623 .628 .632 .636 .641 .645 .65 .654 .658 .663 .667 .672 .676 .68 .685 .689 .694 .698 .702 .707 .711 .716 .72 .724 .729 .733 .738 .742 .746 .751 .755 .76 .764 .768 .773 .777 .782 .786 .79 .795 .799 .804 .808 .812 .817 .821 .826 .83 .834 .839 .843 .348 .352 .356 .361 .365 .37 .374 .378 .383 .387 .392 .396 .4 .405 .409 .414 .418 .422 .427 .431 .436 .44 .444 .449 .453 .458 .462 .466 .471 .475 .48 .484 .488 .493 .497 .502 .506 .51 .515 .519 .524 .528 .532 .537 .541 .546 .55 .555 .559 .563 .568 .572 .577 .581 .585 .59 .594 .599 .603 .607 .612 .616 .621 .625 .629 .634 .638 .643 .647 .651 .656 .66 .665 .669 .673 .678 .682 .687 .691 .695 .7 .704 .709 .713 .717 .722 .726 .731 .735 .739 .744 .748 .753 .757 .761 .766 .77 .775 .779 .783 .788 .792 .797 .801 .805 .81 .814 .819 .823 .827 .832 .836 .841 .345 .349 .354 .358 .363 .367 .371 .376 .38 .385 .389 .393 .398 .402 .407 .411 .415 .42 .424 .429 .433 .437 .442 .446 .451 .455 .459 .464 .468 .473 .477 .481 .486 .49 .495 .499 .503 .508 .512 .517 .521 .525 .53 .534 .539 .543 .547 .552 .556 .561 .565 .569 .574 .578 .583 .587 .591 .596 .6 .605 .609 .613 .618 .622"/></feComponentTransfer><feColorMatrix in="t" type="matrix" values="1 2 2 0 -2 1 2 2 0 -2 1 2 2 0 -2 0 0 0 0 1"/></filter>
<filter id="Fh" x="0" y="0" width="100%" height="100%" color-interpolation-filters="sRGB"><feGaussianBlur stdDeviation="0 3.5" result="b"/><feComponentTransfer in="b" result="t"><feFuncR type="table" tableValues=".825 .835 .845 .855 .866 .876 .886 .896 .907 .917 .927 .938 .948 .958 .968 .979 .989 .999 .009 .02 .03 .04 .05 .061 .071 .081 .091 .102 .112 .122 .132 .143 .153 .163 .173 .184 .194 .204 .214 .225 .235 .245 .255 .266 .276 .286 .296 .307 .317 .327 .338 .348 .358 .368 .379 .389 .399 .409 .42 .43 .44 .45 .461 .471 .481 .491 .502 .512 .522 .532 .543 .553 .563 .573 .584 .594 .604 .614 .625 .635 .645 .655 .666 .676 .686 .696 .707 .717 .727 .738 .748 .758 .768 .779 .789 .799 .809 .82 .83 .84 .85 .861 .871 .881 .891 .902 .912 .922 .932 .943 .953 .963 .973 .984 .994 .004 .014 .025 .035 .045 .055 .066 .076 .086 .096 .107 .117 .127 .138 .148 .158 .168 .179 .189 .199 .209 .22 .23 .24 .25 .261 .271 .281 .291 .302 .312 .322 .332 .343 .353 .363 .373 .384 .394 .404 .414 .425 .435 .445 .455 .466 .476 .486 .496 .507 .517 .527 .538 .548 .558 .568 .579 .589 .599 .609 .62 .63 .64 .65 .661 .671 .681 .691 .702 .712 .722 .732 .743 .753 .763 .773 .784 .794 .804 .814 .825 .835 .845 .855 .866 .876 .886 .896 .907 .917 .927 .938 .948 .958 .968 .979 .989 .999 .009 .02 .03 .04 .05 .061 .071 .081 .091 .102 .112 .122 .132 .143 .153 .163 .173 .184 .194 .204 .214 .225 .235 .245 .255 .266 .276 .286 .296 .307 .317 .327 .338 .348 .358 .368 .379 .389 .399 .409 .42 .43 .44"/><feFuncG type="table" tableValues=".5 .505 .51 .515 .521 .526 .531 .536 .541 .546 .551 .556 .562 .567 .572 .577 .582 .587 .592 .597 .603 .608 .613 .618 .623 .628 .633 .638 .644 .649 .654 .659 .664 .669 .674 .679 .685 .69 .695 .7 .705 .71 .715 .721 .726 .731 .736 .741 .746 .751 .756 .762 .767 .772 .777 .282 .287 .292 .297 .303 .308 .313 .318 .323 .328 .333 .338 .344 .349 .354 .359 .364 .369 .374 .379 .385 .39 .395 .4 .405 .41 .415 .421 .426 .431 .436 .441 .446 .451 .456 .462 .467 .472 .477 .482 .487 .492 .497 .503 .508 .513 .518 .523 .528 .533 .538 .544 .549 .554 .559 .564 .569 .574 .579 .585 .59 .595 .6 .605 .61 .615 .621 .626 .631 .636 .641 .646 .651 .656 .662 .667 .672 .677 .682 .687 .692 .697 .703 .708 .713 .718 .723 .728 .733 .738 .744 .749 .754 .759 .764 .769 .774 .779 .285 .29 .295 .3 .305 .31 .315 .321 .326 .331 .336 .341 .346 .351 .356 .362 .367 .372 .377 .382 .387 .392 .397 .403 .408 .413 .418 .423 .428 .433 .438 .444 .449 .454 .459 .464 .469 .474 .479 .485 .49 .495 .5 .505 .51 .515 .521 .526 .531 .536 .541 .546 .551 .556 .562 .567 .572 .577 .582 .587 .592 .597 .603 .608 .613 .618 .623 .628 .633 .638 .644 .649 .654 .659 .664 .669 .674 .679 .685 .69 .695 .7 .705 .71 .715 .721 .726 .731 .736 .741 .746 .751 .756 .762 .767 .772 .777 .282 .287 .292 .297 .303 .308"/><feFuncB type="table" tableValues=".5 .505 .51 .515 .521 .526 .531 .536 .541 .546 .551 .556 .562 .567 .572 .577 .582 .587 .592 .597 .603 .608 .613 .618 .623 .628 .633 .638 .644 .649 .654 .659 .664 .669 .674 .679 .685 .69 .695 .7 .705 .71 .715 .721 .726 .731 .736 .741 .746 .751 .756 .762 .767 .772 .777 .782 .787 .792 .797 .803 .808 .813 .818 .823 .828 .833 .838 .844 .849 .854 .859 .864 .869 .874 .879 .885 .89 .895 .9 .905 .91 .915 .921 .926 .931 .936 .941 .946 .951 .956 .962 .967 .972 .477 .482 .487 .492 .497 .503 .508 .513 .518 .523 .528 .533 .538 .544 .549 .554 .559 .564 .569 .574 .579 .585 .59 .595 .6 .605 .61 .615 .621 .626 .631 .636 .641 .646 .651 .656 .662 .667 .672 .677 .682 .687 .692 .697 .703 .708 .713 .718 .723 .728 .733 .738 .744 .749 .754 .759 .764 .769 .774 .779 .785 .79 .795 .8 .805 .81 .815 .821 .826 .831 .836 .841 .846 .851 .856 .862 .867 .872 .877 .882 .887 .892 .897 .903 .908 .913 .918 .923 .928 .933 .938 .944 .949 .954 .959 .964 .969 .474 .479 .485 .49 .495 .5 .505 .51 .515 .521 .526 .531 .536 .541 .546 .551 .556 .562 .567 .572 .577 .582 .587 .592 .597 .603 .608 .613 .618 .623 .628 .633 .638 .644 .649 .654 .659 .664 .669 .674 .679 .685 .69 .695 .7 .705 .71 .715 .721 .726 .731 .736 .741 .746 .751 .756 .762 .767 .772 .777 .782 .787 .792 .797 .803 .808"/></feComponentTransfer><feColorMatrix in="t" type="matrix" values="1 2 2 0 -2 1 2 2 0 -2 1 2 2 0 -2 0 0 0 0 1"/></filter>
<filter id="Fa" x="0" y="0" width="100%" height="100%" color-interpolation-filters="sRGB"><feGaussianBlur stdDeviation="0 3.5" result="b"/><feComponentTransfer in="b" result="t0"><feFuncR type="table" tableValues=".417 .402 .387 .372 .358 .344 .331 .318 .306 .295 .284 .274 .264 .256 .248 .24 .234 .228 .223 .219 .216 .213 .211 .21 .21 .211 .212 .214 .218 .221 .226 .232 .238 .245 .252 .261 .27 .28 .29 .302 .313 .326 .339 .352 .366 .381 .396 .411 .427 .443 .459 .476 .493 .51 .528 .545 .563 .581 .599 .617 .634 .652 .67 .687 .704 .722 .738 .755 .771 .787 .802 .817 .832 .846 .86 .873 .885 .897 .908 .919 .929 .938 .946 .954 .961 .968 .973 .978 .982 .985 .988 .989 .99 .99 .989 .987 .985 .982 .977 .973 .967 .961 .953 .945 .937 .927 .917 .907 .895 .883 .871 .858 .844 .83 .815 .8 .785 .769 .753 .736 .719 .702 .685 .667 .65 .632 .614 .597 .579 .561 .543 .526 .508 .491 .474 .457 .441 .425 .409 .394 .379 .364 .35 .337 .324 .312 .3 .289 .279 .269 .26 .251 .244 .237 .231 .225 .221 .217 .214 .212 .211 .21 .21 .211 .213 .216 .219 .224 .229 .235 .241 .249 .257 .266 .275 .285 .296 .308 .32 .332 .346 .359 .374 .388 .404 .419 .435 .452 .468 .485 .502 .52 .537 .555 .573 .59 .608 .626 .644 .661 .679 .696 .713 .73 .747 .763 .779 .795 .81 .825 .839 .853 .866 .879 .891 .903 .914 .924 .934 .943 .951 .958 .965 .971 .976 .98 .984 .987 .989 .99 .99 .99 .988 .986 .983 .979 .975 .97 .964 .957 .949 .941 .932 .922 .912 .901 .889 .877 .864 .851 .837 .822 .808 .792 .777 .76"/><feFuncG type="table" tableValues=".5 .492 .483 .475 .466 .458 .449 .44 .431 .422 .413 .404 .396 .387 .378 .369 .361 .352 .344 .336 .328 .32 .313 .305 .298 .291 .285 .279 .273 .267 .261 .256 .252 .247 .243 .24 .237 .234 .231 .229 .227 .226 .225 .225 .225 .225 .226 .227 .229 .231 .233 .236 .239 .242 .246 .25 .255 .26 .265 .271 .277 .283 .289 .296 .303 .31 .318 .326 .334 .342 .35 .358 .367 .375 .384 .393 .402 .411 .42 .429 .437 .446 .455 .464 .472 .481 .489 .498 .506 .514 .521 .529 .536 .543 .55 .556 .563 .568 .574 .579 .584 .589 .593 .597 .601 .604 .607 .609 .611 .612 .614 .614 .615 .615 .614 .613 .612 .61 .608 .606 .603 .6 .596 .592 .588 .583 .578 .573 .567 .561 .555 .548 .542 .534 .527 .52 .512 .504 .496 .487 .479 .47 .462 .453 .444 .435 .426 .418 .409 .4 .391 .382 .373 .365 .356 .348 .34 .332 .324 .316 .309 .302 .295 .288 .281 .275 .27 .264 .259 .254 .249 .245 .241 .238 .235 .232 .23 .228 .227 .226 .225 .225 .225 .225 .226 .228 .23 .232 .234 .237 .241 .244 .248 .253 .258 .263 .268 .274 .28 .286 .293 .3 .307 .314 .322 .33 .338 .346 .354 .363 .371 .38 .389 .398 .406 .415 .424 .433 .442 .451 .46 .468 .477 .485 .494 .502 .51 .518 .525 .533 .54 .547 .553 .56 .566 .571 .577 .582 .587 .591 .595 .599 .602 .605 .608 .61 .612 .613 .614 .615 .615 .614 .614 .613 .611 .609"/><feFuncB type="table" tableValues=".5 .498 .495 .492 .489 .485 .481 .476 .471 .466 .461 .455 .449 .442 .435 .428 .421 .414 .406 .398 .39 .382 .374 .365 .357 .348 .339 .33 .321 .312 .303 .295 .286 .277 .268 .26 .251 .243 .234 .226 .218 .21 .203 .196 .188 .182 .175 .169 .163 .157 .152 .147 .142 .138 .134 .13 .127 .124 .122 .12 .118 .117 .116 .115 .115 .116 .117 .118 .119 .121 .124 .126 .13 .133 .137 .141 .146 .151 .156 .162 .168 .174 .18 .187 .194 .201 .209 .217 .225 .233 .241 .249 .258 .266 .275 .284 .293 .302 .311 .32 .328 .337 .346 .355 .363 .372 .38 .389 .397 .405 .412 .42 .427 .434 .441 .447 .453 .459 .465 .47 .475 .48 .484 .488 .491 .494 .497 .5 .502 .503 .504 .505 .505 .505 .505 .504 .503 .501 .499 .496 .494 .49 .487 .483 .478 .474 .469 .463 .457 .451 .445 .439 .432 .425 .417 .41 .402 .394 .386 .378 .369 .361 .352 .343 .334 .326 .317 .308 .299 .29 .281 .272 .264 .255 .247 .238 .23 .222 .214 .206 .199 .192 .185 .178 .172 .166 .16 .154 .149 .144 .14 .136 .132 .128 .125 .123 .121 .119 .117 .116 .116 .115 .116 .116 .117 .118 .12 .122 .125 .128 .131 .135 .139 .144 .148 .154 .159 .165 .171 .177 .184 .191 .198 .205 .213 .221 .229 .237 .245 .254 .262 .271 .28 .289 .298 .306 .315 .324 .333 .342 .351 .359 .368 .376 .385 .393 .401 .409 .416 .424 .431 .438 .444 .451 .457 .462"/></feComponentTransfer><feColorMatrix in="t0" type="matrix" values="1 2 2 0 -2 0 0 0 0 0 0 0 0 0 0 0 0 0 0 1" result="c0"/><feComponentTransfer in="b" result="t1"><feFuncR type="table" tableValues=".1 .074 .049 .026 .003 0 0 0 0 0 0 0 0 0 0 0 0 0 0 0 0 0 0 0 0 0 0 0 0 0 0 .005 .028 .052 .076 .102 .129 .157 .186 .215 .245 .276 .307 .339 .371 .403 .435 .467 .499 .53 .562 .593 .623 .653 .683 .711 .739 .765 .791 .815 .839 .861 .882 .901 .919 .936 .951 .964 .976 .986 .994 1 1 1 1 1 1 1 .998 .99 .981 .97 .958 .944 .928 .911 .892 .872 .85 .828 .804 .779 .753 .725 .697 .668 .639 .609 .578 .547 .515 .483 .451 .419 .387 .355 .324 .292 .261 .231 .201 .172 .144 .116 .09 .064 .04 .017 0 0 0 0 0 0 0 0 0 0 0 0 0 0 0 0 0 0 0 0 0 0 0 0 0 0 0 .014 .037 .061 .086 .113 .14 .168 .197 .227 .257 .288 .319 .351 .383 .415 .447 .479 .511 .543 .574 .605 .635 .665 .694 .722 .749 .775 .801 .825 .848 .869 .889 .908 .926 .942 .956 .969 .98 .989 .997 1 1 1 1 1 1 1 .995 .987 .977 .966 .952 .938 .921 .904 .884 .864 .842 .819 .794 .769 .742 .715 .686 .657 .627 .597 .566 .535 .503 .471 .439 .407 .375 .343 .311 .28 .249 .219 .19 .161 .133 .106 .08 .055 .031 .008 0 0 0 0 0 0 0 0 0 0 0 0 0 0 0 0 0 0 0 0 0 0 0 0"/><feFuncG type="table" tableValues=".5 .5 .5 .5 .511 .523 .535 .548 .562 .575 .59 .604 .619 .635 .65 .666 .682 .698 .714 .73 .746 .762 .777 .793 .808 .823 .838 .852 .866 .88 .893 .905 .917 .928 .939 .948 .958 .966 .974 .98 .987 .992 .996 1 1 1 1 1 1 1 1 .996 .992 .986 .98 .973 .966 .957 .948 .938 .928 .917 .905 .892 .879 .866 .852 .838 .823 .808 .793 .777 .761 .745 .729 .713 .697 .681 .665 .65 .634 .619 .604 .589 .575 .561 .548 .535 .523 .511 .5 .5 .5 .5 .5 .5 .5 .5 .5 .5 .5 .5 .5 .5 .5 .5 .5 .5 .5 .5 .5 .5 .5 .5 .5 .5 .5 .504 .516 .528 .54 .553 .567 .581 .595 .61 .625 .64 .656 .672 .688 .704 .72 .736 .752 .768 .783 .799 .814 .829 .843 .858 .871 .885 .897 .91 .921 .932 .942 .952 .961 .969 .976 .983 .989 .994 .998 1 1 1 1 1 1 1 .998 .994 .99 .984 .978 .971 .963 .954 .944 .934 .924 .912 .9 .887 .874 .861 .846 .832 .817 .802 .787 .771 .755 .739 .723 .707 .691 .675 .659 .644 .628 .613 .598 .584 .57 .556 .543 .53 .518 .507 .5 .5 .5 .5 .5 .5 .5 .5 .5 .5 .5 .5 .5 .5 .5 .5 .5 .5 .5 .5 .5 .5 .5 .5 .5 .5 .5 .509 .52 .532 .545 .558 .572 .586 .601 .616 .631 .646 .662 .678 .694 .71 .726 .742 .758 .774 .789 .805 .82 .835 .849 .863"/><feFuncB type="table" tableValues=".5 .514 .527 .539 .551 .562 .573 .583 .593 .601 .609 .616 .622 .628 .632 .636 .637 .637 .637 .637 .637 .637 .637 .634 .63 .625 .619 .612 .605 .596 .587 .578 .567 .556 .544 .532 .519 .506 .492 .478 .463 .448 .433 .418 .402 .386 .37 .354 .338 .322 .306 .29 .275 .259 .244 .23 .215 .201 .188 .175 .163 .151 .139 .137 .137 .137 .137 .137 .137 .137 .137 .137 .137 .137 .137 .137 .137 .137 .137 .137 .137 .137 .137 .137 .137 .137 .137 .137 .137 .139 .15 .162 .174 .187 .201 .215 .229 .244 .259 .274 .289 .305 .321 .337 .353 .369 .385 .401 .417 .432 .448 .463 .477 .491 .505 .519 .532 .544 .556 .567 .577 .587 .596 .604 .612 .618 .624 .629 .634 .637 .637 .637 .637 .637 .637 .637 .636 .632 .628 .623 .616 .609 .602 .593 .584 .574 .563 .552 .54 .527 .514 .501 .487 .472 .458 .443 .427 .412 .396 .38 .364 .348 .332 .316 .3 .284 .269 .254 .239 .224 .21 .196 .183 .17 .158 .146 .137 .137 .137 .137 .137 .137 .137 .137 .137 .137 .137 .137 .137 .137 .137 .137 .137 .137 .137 .137 .137 .137 .137 .137 .137 .137 .137 .143 .155 .167 .179 .192 .206 .22 .234 .249 .264 .28 .295 .311 .327 .343 .359 .375 .391 .407 .423 .438 .453 .468 .483 .497 .51 .524 .536 .548 .56 .571 .581 .59 .599 .607 .614 .621 .626 .631 .635 .637 .637 .637 .637 .637 .637 .637 .635 .631 .626 .62 .614 .606"/></feComponentTransfer><feColorMatrix in="t1" type="matrix" values="0 0 0 0 0 1 2 2 0 -2 0 0 0 0 0 0 0 0 0 1" result="c1"/><feComponentTransfer in="b" result="t2"><feFuncR type="table" tableValues="0 0 0 0 0 0 0 0 0 0 0 0 0 0 0 0 0 0 0 0 0 .026 .054 .083 .113 .145 .178 .213 .248 .284 .32 .357 .394 .431 .469 .506 .543 .579 .615 .65 .684 .717 .749 .78 .809 .836 .862 .886 .908 .928 .946 .962 .976 .987 .997 1 1 1 1 1 1 .994 .984 .972 .957 .941 .922 .901 .878 .854 .827 .799 .77 .739 .707 .673 .639 .603 .567 .531 .494 .457 .419 .382 .345 .308 .272 .236 .201 .167 .135 .103 .073 .044 .017 0 0 0 0 0 0 0 0 0 0 0 0 0 0 0 0 0 0 0 0 0 0 0 .013 .04 .068 .098 .129 .162 .195 .23 .266 .302 .338 .375 .413 .45 .487 .524 .561 .597 .633 .667 .701 .733 .764 .794 .823 .849 .874 .897 .918 .938 .955 .969 .982 .992 1 1 1 1 1 1 .998 .989 .978 .965 .949 .932 .912 .89 .866 .841 .814 .785 .754 .723 .69 .656 .621 .585 .549 .512 .475 .438 .401 .363 .326 .29 .254 .219 .184 .151 .119 .088 .058 .031 .004 0 0 0 0 0 0 0 0 0 0 0 0 0 0 0 0 0 0 0 0 0 0 0 .026 .054 .083 .113 .145 .178 .213 .248 .284 .32 .357 .394 .431 .469 .506 .543 .579 .615 .65 .684 .717 .749 .78 .809 .836 .862 .886 .908 .928 .946 .962 .976 .988 .997 1 1 1 1 1 1"/><feFuncG type="table" tableValues=".5 .497 .492 .486 .479 .47 .461 .451 .439 .427 .414 .4 .385 .369 .353 .337 .319 .302 .284 .265 .247 .228 .21 .191 .172 .154 .136 .118 .101 .084 .067 .052 .036 .022 .009 0 0 0 0 0 0 0 0 0 0 0 0 0 0 0 0 0 0 0 0 0 0 0 .006 .02 .034 .049 .065 .081 .098 .115 .133 .151 .169 .188 .206 .225 .244 .262 .281 .299 .316 .334 .35 .367 .382 .397 .411 .425 .437 .449 .459 .469 .477 .485 .491 .496 .5 .5 .5 .5 .5 .5 .499 .495 .489 .482 .475 .466 .456 .445 .433 .42 .407 .392 .377 .361 .345 .328 .311 .293 .275 .256 .238 .219 .2 .182 .163 .145 .127 .109 .092 .075 .059 .044 .029 .015 .002 0 0 0 0 0 0 0 0 0 0 0 0 0 0 0 0 0 0 0 0 0 0 0 .013 .027 .041 .057 .073 .089 .106 .124 .142 .16 .178 .197 .216 .234 .253 .271 .29 .308 .325 .342 .359 .375 .39 .404 .418 .431 .443 .454 .464 .473 .481 .488 .494 .498 .5 .5 .5 .5 .5 .5 .497 .492 .486 .479 .47 .461 .451 .439 .427 .414 .4 .385 .369 .353 .337 .319 .302 .284 .265 .247 .228 .21 .191 .172 .154 .136 .118 .101 .084 .067 .052 .036 .022 .009 0 0 0 0 0 0 0 0 0 0 0 0 0 0 0 0 0 0 0 0 0 0 0 .006 .02 .034"/><feFuncB type="table" tableValues=".5 .515 .531 .547 .564 .581 .599 .617 .635 .654 .672 .691 .71 .728 .747 .765 .782 .8 .816 .833 .848 .863 .877 .891 .903 .915 .925 .935 .943 .951 .957 .962 .966 .966 .966 .966 .966 .966 .965 .961 .955 .948 .941 .932 .922 .911 .899 .886 .873 .858 .843 .827 .811 .794 .777 .759 .741 .722 .704 .685 .666 .648 .629 .611 .593 .575 .558 .541 .525 .51 .495 .481 .468 .466 .466 .466 .466 .466 .466 .466 .466 .466 .466 .466 .466 .466 .466 .466 .466 .466 .466 .466 .466 .466 .466 .466 .479 .493 .507 .523 .539 .555 .572 .59 .608 .626 .644 .663 .682 .7 .719 .737 .756 .774 .791 .808 .825 .841 .856 .87 .884 .897 .909 .92 .93 .939 .947 .954 .96 .964 .966 .966 .966 .966 .966 .966 .963 .958 .952 .945 .936 .927 .917 .905 .893 .88 .866 .851 .835 .819 .803 .785 .768 .75 .731 .713 .694 .676 .657 .638 .62 .602 .584 .567 .55 .533 .518 .503 .488 .475 .466 .466 .466 .466 .466 .466 .466 .466 .466 .466 .466 .466 .466 .466 .466 .466 .466 .466 .466 .466 .466 .466 .466 .472 .486 .5 .515 .531 .547 .564 .581 .599 .617 .635 .654 .672 .691 .71 .728 .747 .765 .782 .8 .816 .833 .848 .863 .877 .891 .903 .915 .925 .935 .943 .951 .957 .962 .966 .966 .966 .966 .966 .966 .965 .961 .955 .948 .941 .932 .922 .911 .899 .886 .873 .858 .843 .827 .811 .794 .777 .759 .741 .722 .704 .685 .666"/></feComponentTransfer><feColorMatrix in="t2" type="matrix" values="0 0 0 0 0 0 0 0 0 0 1 2 2 0 -2 0 0 0 0 1" result="c2"/><feComposite in="c0" in2="c1" operator="arithmetic" k1="0" k2="1" k3="1" k4="0" result="d"/><feComposite in="d" in2="c2" operator="arithmetic" k1="0" k2="1" k3="1" k4="0" result="c"/><feTurbulence type="fractalNoise" baseFrequency="0.33" numOctaves="2" seed="7" result="n"/><feColorMatrix in="n" type="matrix" values="1 0 0 0 0 0 1 0 0 0 0 0 1 0 0 0 0 0 0 1" result="n1"/><feComposite in="c" in2="n1" operator="arithmetic" k1="0" k2="1" k3="0.34" k4="-0.17" result="m"/><feGaussianBlur in="m" stdDeviation="0.9"/></filter>
<filter id="Fb" x="0" y="0" width="100%" height="100%" color-interpolation-filters="sRGB"><feGaussianBlur stdDeviation="0 3.5" result="b"/><feComponentTransfer in="b" result="t0"><feFuncR type="table" tableValues=".834 .848 .862 .875 .887 .899 .91 .921 .93 .939 .948 .956 .963 .969 .974 .979 .983 .986 .988 .989 .99 .99 .989 .987 .984 .981 .977 .972 .966 .959 .952 .944 .935 .926 .916 .905 .893 .881 .869 .856 .842 .828 .813 .798 .782 .766 .75 .733 .716 .699 .682 .664 .647 .629 .611 .593 .576 .558 .54 .523 .505 .488 .471 .454 .438 .422 .406 .391 .376 .362 .348 .335 .322 .31 .298 .287 .277 .267 .258 .25 .243 .236 .23 .225 .22 .216 .214 .212 .21 .21 .21 .212 .214 .217 .22 .225 .23 .236 .243 .25 .258 .267 .277 .287 .298 .31 .322 .335 .348 .362 .376 .391 .406 .422 .438 .454 .471 .488 .505 .523 .54 .558 .576 .593 .611 .629 .647 .664 .682 .699 .716 .733 .75 .766 .782 .798 .813 .828 .842 .856 .869 .881 .893 .905 .916 .926 .935 .944 .952 .959 .966 .972 .977 .981 .984 .987 .989 .99 .99 .989 .988 .986 .983 .979 .974 .969 .963 .956 .948 .939 .93 .921 .91 .899 .887 .875 .862 .848 .834 .82 .805 .79 .774 .758 .741 .724 .707 .69 .673 .655 .637 .62 .602 .584 .566 .549 .531 .513 .496 .479 .462 .446 .43 .414 .398 .383 .369 .355 .341 .328 .315 .304 .292 .282 .272 .262 .254 .246 .239 .233 .227 .222 .218 .215 .212 .211 .21 .21 .211 .213 .215 .218 .222 .227 .233 .239 .246 .254 .263 .272 .282 .293 .304 .316 .329 .342 .355 .369 .384 .399 .415 .43 .447 .463 .48 .497"/><feFuncG type="table" tableValues=".5 .509 .517 .526 .535 .544 .553 .562 .571 .579 .588 .597 .606 .614 .622 .631 .639 .647 .654 .662 .669 .676 .683 .689 .695 .701 .707 .712 .717 .721 .726 .729 .733 .736 .739 .741 .743 .744 .745 .746 .746 .746 .746 .745 .744 .742 .74 .737 .734 .731 .727 .723 .719 .714 .709 .704 .698 .692 .685 .679 .672 .665 .658 .65 .642 .634 .626 .618 .609 .601 .592 .583 .574 .566 .557 .548 .539 .53 .521 .512 .504 .495 .487 .478 .47 .462 .454 .447 .439 .432 .425 .418 .412 .406 .4 .395 .39 .385 .38 .376 .373 .369 .366 .364 .361 .36 .358 .357 .357 .356 .357 .357 .358 .36 .362 .364 .366 .37 .373 .377 .381 .385 .39 .395 .401 .407 .413 .419 .426 .433 .44 .447 .455 .463 .471 .479 .487 .496 .505 .513 .522 .531 .54 .549 .558 .566 .575 .584 .593 .602 .61 .619 .627 .635 .643 .651 .658 .666 .673 .68 .686 .692 .698 .704 .71 .715 .719 .724 .728 .731 .735 .737 .74 .742 .744 .745 .746 .746 .746 .746 .745 .744 .743 .741 .738 .736 .733 .729 .725 .721 .716 .711 .706 .701 .695 .689 .682 .675 .668 .661 .654 .646 .638 .63 .622 .613 .605 .596 .587 .579 .57 .561 .552 .543 .534 .525 .516 .508 .499 .491 .482 .474 .466 .458 .45 .443 .435 .428 .422 .415 .409 .403 .397 .392 .387 .382 .378 .374 .371 .368 .365 .362 .36 .359 .358 .357 .356 .357 .357 .358 .359 .361 .363 .365 .368 .371"/><feFuncB type="table" tableValues=".5 .504 .508 .512 .517 .522 .527 .533 .539 .545 .551 .558 .565 .573 .58 .588 .596 .604 .612 .621 .629 .638 .647 .655 .664 .673 .682 .691 .7 .709 .717 .726 .735 .743 .752 .76 .768 .776 .783 .791 .798 .805 .812 .818 .824 .83 .836 .841 .846 .85 .855 .858 .862 .865 .868 .87 .872 .873 .874 .875 .875 .875 .875 .874 .872 .87 .868 .866 .863 .86 .856 .852 .847 .843 .837 .832 .826 .82 .814 .807 .8 .793 .786 .778 .77 .762 .754 .746 .738 .729 .72 .712 .703 .694 .685 .676 .667 .658 .649 .641 .632 .623 .615 .607 .598 .59 .583 .575 .568 .56 .554 .547 .541 .534 .529 .523 .518 .513 .509 .505 .501 .498 .495 .492 .49 .488 .487 .486 .485 .485 .485 .486 .487 .489 .49 .493 .495 .498 .502 .506 .51 .514 .519 .524 .53 .536 .542 .548 .555 .562 .569 .577 .584 .592 .6 .608 .617 .625 .634 .642 .651 .66 .669 .678 .687 .696 .705 .713 .722 .731 .739 .748 .756 .764 .772 .78 .787 .795 .802 .809 .815 .822 .828 .833 .839 .844 .848 .853 .857 .86 .863 .866 .869 .871 .873 .874 .875 .875 .875 .875 .874 .873 .871 .869 .867 .864 .861 .858 .854 .849 .845 .84 .835 .829 .823 .817 .81 .804 .797 .789 .782 .774 .766 .758 .75 .742 .733 .724 .716 .707 .698 .689 .68 .671 .662 .654 .645 .636 .627 .619 .611 .602 .594 .586 .579 .571 .564 .557 .55 .544 .537 .531 .526 .521 .516 .511"/></feComponentTransfer><feColorMatrix in="t0" type="matrix" values="1 2 2 0 -2 0 0 0 0 0 0 0 0 0 0 0 0 0 0 1" result="c0"/><feComponentTransfer in="b" result="t1"><feFuncR type="table" tableValues="1 1 1 1 1 1 .996 .989 .979 .968 .955 .941 .925 .907 .889 .868 .847 .824 .799 .774 .748 .721 .692 .663 .634 .603 .572 .541 .51 .478 .446 .414 .382 .35 .318 .287 .256 .226 .196 .167 .139 .111 .085 .06 .036 .013 0 0 0 0 0 0 0 0 0 0 0 0 0 0 0 0 0 0 0 0 0 0 0 0 0 0 0 .018 .041 .065 .091 .117 .145 .173 .202 .232 .263 .294 .325 .357 .388 .421 .453 .485 .516 .548 .579 .61 .64 .67 .699 .727 .754 .78 .805 .829 .851 .873 .893 .911 .929 .944 .958 .971 .981 .991 .998 1 1 1 1 1 1 1 .994 .985 .975 .963 .95 .935 .918 .9 .881 .86 .838 .814 .79 .764 .737 .71 .681 .652 .622 .592 .56 .529 .497 .465 .433 .401 .369 .337 .306 .275 .244 .214 .185 .156 .128 .101 .075 .051 .027 .004 0 0 0 0 0 0 0 0 0 0 0 0 0 0 0 0 0 0 0 0 0 0 0 0 0 0 .004 .027 .05 .075 .101 .128 .156 .184 .214 .244 .274 .306 .337 .369 .401 .433 .465 .497 .529 .56 .591 .622 .652 .681 .709 .737 .764 .79 .814 .838 .86 .881 .9 .918 .935 .95 .963 .975 .985 .994 1 1 1 1 1 1 1 .998 .991 .982 .971 .958 .944 .929 .912 .893 .873 .852 .829 .805 .78 .754 .727 .699 .67 .641 .61 .58 .548 .517"/><feFuncG type="table" tableValues=".5 .484 .468 .452 .436 .42 .404 .389 .373 .358 .343 .328 .314 .3 .287 .274 .262 .251 .242 .242 .242 .242 .242 .242 .242 .242 .242 .242 .242 .242 .242 .242 .242 .242 .242 .242 .242 .242 .242 .242 .242 .242 .242 .242 .242 .248 .259 .271 .284 .297 .311 .325 .339 .354 .369 .385 .4 .416 .432 .448 .464 .48 .496 .512 .528 .543 .558 .573 .588 .602 .615 .628 .641 .653 .665 .676 .686 .695 .704 .712 .719 .726 .731 .736 .74 .742 .742 .742 .742 .742 .742 .742 .739 .735 .73 .725 .718 .711 .703 .694 .684 .674 .663 .652 .639 .627 .613 .6 .586 .571 .556 .541 .525 .51 .494 .478 .462 .446 .43 .414 .398 .383 .367 .352 .337 .323 .309 .295 .282 .27 .258 .246 .242 .242 .242 .242 .242 .242 .242 .242 .242 .242 .242 .242 .242 .242 .242 .242 .242 .242 .242 .242 .242 .242 .242 .242 .242 .242 .242 .252 .264 .276 .289 .302 .316 .33 .345 .36 .375 .391 .406 .422 .438 .454 .47 .486 .502 .518 .534 .549 .564 .579 .593 .607 .62 .633 .646 .658 .669 .68 .689 .699 .707 .715 .722 .728 .733 .737 .741 .742 .742 .742 .742 .742 .742 .741 .738 .733 .728 .722 .715 .708 .699 .69 .68 .67 .659 .647 .635 .622 .608 .594 .58 .565 .55 .535 .519 .504 .488 .472 .456 .44 .424 .408 .392 .377 .361 .346 .332 .317 .304 .29 .277 .265 .253 .242 .242 .242 .242 .242 .242 .242 .242 .242 .242 .242"/><feFuncB type="table" tableValues=".5 .5 .5 .5 .5 .5 .5 .5 .5 .5 .5 .5 .5 .5 .5 .5 .5 .504 .515 .527 .539 .552 .566 .58 .594 .609 .624 .64 .655 .671 .687 .703 .719 .735 .751 .767 .782 .798 .813 .828 .843 .857 .871 .884 .897 .909 .921 .932 .942 .951 .96 .969 .976 .983 .988 .993 .997 1 1 1 1 1 1 1 .998 .995 .99 .985 .978 .971 .963 .954 .945 .935 .924 .913 .901 .888 .875 .861 .847 .833 .818 .803 .787 .772 .756 .74 .724 .708 .692 .676 .66 .645 .629 .614 .599 .585 .57 .557 .544 .531 .519 .507 .5 .5 .5 .5 .5 .5 .5 .5 .5 .5 .5 .5 .5 .5 .5 .5 .5 .5 .5 .5 .5 .5 .5 .5 .5 .5 .5 .508 .52 .532 .544 .558 .571 .585 .6 .615 .63 .646 .661 .677 .693 .709 .725 .741 .757 .773 .788 .804 .819 .834 .848 .862 .876 .889 .901 .913 .925 .936 .946 .955 .964 .972 .979 .985 .99 .995 .999 1 1 1 1 1 1 1 .997 .993 .988 .982 .976 .968 .96 .951 .941 .931 .92 .908 .896 .883 .87 .856 .842 .827 .812 .797 .781 .766 .75 .734 .718 .702 .686 .67 .654 .639 .623 .608 .593 .579 .565 .552 .539 .526 .514 .503 .5 .5 .5 .5 .5 .5 .5 .5 .5 .5 .5 .5 .5 .5 .5 .5 .5 .5 .5 .5 .5 .5 .5 .5 .5 .5 .501 .512 .524 .537 .549 .563 .577 .591 .606 .621 .636 .652"/></feComponentTransfer><feColorMatrix in="t1" type="matrix" values="0 0 0 0 0 1 2 2 0 -2 0 0 0 0 0 0 0 0 0 1" result="c1"/><feComponentTransfer in="b" result="t2"><feFuncR type="table" tableValues=".764 .733 .701 .667 .633 .597 .561 .524 .487 .45 .413 .375 .338 .302 .265 .23 .195 .162 .129 .098 .068 .039 .013 0 0 0 0 0 0 0 0 0 0 0 0 0 0 0 0 0 0 0 0 0 0 0 .017 .044 .073 .103 .135 .168 .201 .236 .272 .308 .345 .382 .419 .457 .494 .531 .567 .603 .639 .673 .707 .739 .77 .799 .827 .854 .878 .901 .922 .941 .957 .972 .984 .994 1 1 1 1 1 1 .997 .987 .976 .962 .946 .928 .908 .886 .862 .836 .809 .78 .749 .717 .684 .65 .615 .579 .543 .506 .469 .431 .394 .357 .32 .283 .248 .213 .178 .145 .113 .083 .053 .026 0 0 0 0 0 0 0 0 0 0 0 0 0 0 0 0 0 0 0 0 0 0 0 .004 .031 .059 .088 .119 .151 .184 .219 .254 .29 .326 .363 .401 .438 .475 .512 .549 .586 .621 .656 .69 .723 .754 .785 .814 .841 .866 .89 .912 .932 .949 .965 .978 .989 .998 1 1 1 1 1 1 .992 .982 .969 .955 .938 .918 .897 .874 .849 .823 .794 .764 .733 .701 .667 .633 .597 .561 .524 .487 .45 .413 .375 .338 .302 .265 .23 .195 .162 .129 .098 .068 .039 .013 0 0 0 0 0 0 0 0 0 0 0 0 0 0 0 0 0 0 0 0 0 0 0 .017 .044 .073 .103 .135 .168 .201 .236 .272 .308 .345 .382 .419 .457 .494"/><feFuncG type="table" tableValues=".5 .518 .537 .555 .572 .59 .606 .622 .638 .653 .667 .68 .692 .704 .714 .723 .732 .739 .745 .75 .753 .753 .753 .753 .753 .753 .751 .747 .741 .734 .726 .717 .707 .696 .684 .671 .657 .643 .628 .612 .595 .578 .561 .543 .524 .506 .487 .469 .45 .431 .413 .395 .377 .359 .342 .326 .31 .294 .28 .266 .253 .253 .253 .253 .253 .253 .253 .253 .253 .253 .253 .253 .253 .253 .253 .253 .253 .253 .253 .253 .253 .253 .253 .255 .268 .282 .297 .312 .329 .345 .362 .38 .398 .416 .435 .453 .472 .491 .509 .528 .546 .564 .581 .598 .614 .63 .645 .66 .673 .686 .698 .709 .719 .728 .735 .742 .748 .752 .753 .753 .753 .753 .753 .753 .749 .744 .738 .73 .722 .712 .702 .69 .678 .664 .65 .635 .62 .603 .587 .569 .552 .534 .515 .497 .478 .459 .441 .422 .404 .386 .368 .351 .334 .318 .302 .287 .273 .259 .253 .253 .253 .253 .253 .253 .253 .253 .253 .253 .253 .253 .253 .253 .253 .253 .253 .253 .253 .253 .253 .253 .253 .262 .275 .29 .305 .32 .337 .354 .371 .389 .407 .425 .444 .463 .481 .5 .519 .537 .555 .572 .59 .606 .622 .638 .653 .667 .68 .692 .704 .714 .723 .732 .739 .745 .75 .753 .753 .753 .753 .753 .753 .751 .747 .741 .734 .726 .717 .707 .696 .684 .671 .657 .643 .628 .612 .595 .578 .561 .543 .524 .506 .487 .469 .45 .431 .413 .395 .377 .359 .342 .326 .31 .294 .28 .266 .253"/><feFuncB type="table" tableValues=".5 .5 .5 .5 .5 .5 .5 .5 .5 .5 .5 .5 .5 .5 .5 .5 .5 .5 .5 .5 .5 .5 .5 .502 .515 .529 .544 .559 .576 .592 .609 .627 .645 .663 .682 .7 .719 .738 .756 .775 .793 .811 .828 .845 .861 .877 .892 .907 .92 .933 .945 .956 .966 .975 .982 .989 .995 .999 1 1 1 1 1 1 .996 .991 .985 .977 .969 .959 .949 .937 .925 .911 .897 .882 .867 .85 .834 .816 .799 .781 .762 .744 .725 .706 .688 .669 .651 .633 .615 .598 .581 .565 .549 .534 .52 .506 .5 .5 .5 .5 .5 .5 .5 .5 .5 .5 .5 .5 .5 .5 .5 .5 .5 .5 .5 .5 .5 .5 .5 .509 .522 .537 .552 .567 .584 .601 .618 .636 .654 .672 .691 .71 .728 .747 .765 .784 .802 .819 .837 .853 .869 .885 .9 .914 .927 .939 .951 .961 .97 .979 .986 .992 .997 1 1 1 1 1 1 .998 .994 .988 .981 .973 .964 .954 .943 .931 .918 .904 .89 .874 .859 .842 .825 .807 .79 .771 .753 .734 .716 .697 .678 .66 .642 .624 .606 .589 .573 .557 .541 .527 .513 .5 .5 .5 .5 .5 .5 .5 .5 .5 .5 .5 .5 .5 .5 .5 .5 .5 .5 .5 .5 .5 .5 .5 .502 .515 .529 .544 .559 .576 .592 .609 .627 .645 .663 .682 .7 .719 .738 .756 .775 .793 .811 .828 .845 .861 .877 .892 .907 .92 .933 .945 .956 .966 .975 .982 .989 .995 .999 1 1 1"/></feComponentTransfer><feColorMatrix in="t2" type="matrix" values="0 0 0 0 0 0 0 0 0 0 1 2 2 0 -2 0 0 0 0 1" result="c2"/><feComposite in="c0" in2="c1" operator="arithmetic" k1="0" k2="1" k3="1" k4="0" result="d"/><feComposite in="d" in2="c2" operator="arithmetic" k1="0" k2="1" k3="1" k4="0" result="c"/><feTurbulence type="fractalNoise" baseFrequency="0.33" numOctaves="2" seed="7" result="n"/><feColorMatrix in="n" type="matrix" values="1 0 0 0 0 0 1 0 0 0 0 0 1 0 0 0 0 0 0 1" result="n1"/><feComposite in="c" in2="n1" operator="arithmetic" k1="0" k2="1" k3="0.34" k4="-0.17" result="m"/><feGaussianBlur in="m" stdDeviation="0.9"/></filter>
</defs></svg>
<div class="pn" style="left:417.20px;top:8.70px;width:554.50px;height:555.50px"><div class="hm" style="left:-27.73px;top:-27.77px;width:609.95px;height:611.05px;filter:url(#Fa)"></div></div>
<div class="pn" style="left:1149.50px;top:8.70px;width:555.30px;height:555.50px"><div class="hm" style="left:-27.76px;top:-27.77px;width:610.83px;height:611.05px;filter:url(#Fb)"></div></div>
<div class="pn" style="left:106.70px;top:1911.50px;width:533.50px;height:534.40px"><div class="hm" style="left:-26.68px;top:-26.72px;width:586.85px;height:587.84px;filter:url(#Ff)"></div></div>
<div class="pn" style="left:808.00px;top:1909.80px;width:535.50px;height:536.40px"><div class="hm" style="left:-26.77px;top:-26.82px;width:589.05px;height:590.04px;filter:url(#Fg)"></div></div>
<div class="pn" style="left:1511.80px;top:1911.80px;width:535.10px;height:534.10px"><div class="hm" style="left:-26.76px;top:-26.71px;width:588.61px;height:587.51px;filter:url(#Fh)"></div></div>
<svg class="ov" width="2063" height="2583" viewBox="0 0 2063 2583" font-family="'Liberation Sans', Arial, Helvetica, sans-serif" fill="#0d0d0d"><rect x="417.2" y="8.7" width="554.5" height="555.5" fill="none" stroke="#3a3a3a" stroke-width="1.2"/><text x="508.9" y="592.7" font-size="23.4" text-anchor="middle">50</text><text x="405.7" y="106.8" font-size="23.4" text-anchor="end">50</text><text x="601.3" y="592.7" font-size="23.4" text-anchor="middle">100</text><text x="405.7" y="199.3" font-size="23.4" text-anchor="end">100</text><text x="693.7" y="592.7" font-size="23.4" text-anchor="middle">150</text><text x="405.7" y="291.9" font-size="23.4" text-anchor="end">150</text><text x="786.1" y="592.7" font-size="23.4" text-anchor="middle">200</text><text x="405.7" y="384.5" font-size="23.4" text-anchor="end">200</text><text x="878.6" y="592.7" font-size="23.4" text-anchor="middle">250</text><text x="405.7" y="477.1" font-size="23.4" text-anchor="end">250</text><text x="971" y="592.7" font-size="23.4" text-anchor="middle">300</text><text x="405.7" y="569.7" font-size="23.4" text-anchor="end">300</text><path d="M508.4 564.2v5.5M508.4 8.7v-5.5M417.2 100.2h-5.5M971.7 100.2h5.5M600.8 564.2v5.5M600.8 8.7v-5.5M417.2 192.7h-5.5M971.7 192.7h5.5M693.2 564.2v5.5M693.2 8.7v-5.5M417.2 285.3h-5.5M971.7 285.3h5.5M785.6 564.2v5.5M785.6 8.7v-5.5M417.2 377.9h-5.5M971.7 377.9h5.5M878.1 564.2v5.5M878.1 8.7v-5.5M417.2 470.5h-5.5M971.7 470.5h5.5M970.5 564.2v5.5M970.5 8.7v-5.5M417.2 563.1h-5.5M971.7 563.1h5.5" stroke="#666" stroke-width="1.0" fill="none"/><text x="694" y="621.2" font-size="24.4" text-anchor="middle">pixel</text><text x="365.2" y="287" font-size="24.4" text-anchor="middle" transform="rotate(-90 365.2 287)">pixel</text><text x="691.5" y="660.2" font-size="37" text-anchor="middle">(a)</text><rect x="1149.5" y="8.7" width="555.3" height="555.5" fill="none" stroke="#3a3a3a" stroke-width="1.2"/><text x="1240.3" y="592.7" font-size="23.4" text-anchor="middle">50</text><text x="1139.5" y="106.8" font-size="23.4" text-anchor="end">50</text><text x="1332.9" y="592.7" font-size="23.4" text-anchor="middle">100</text><text x="1139.5" y="199.3" font-size="23.4" text-anchor="end">100</text><text x="1425.4" y="592.7" font-size="23.4" text-anchor="middle">150</text><text x="1139.5" y="291.9" font-size="23.4" text-anchor="end">150</text><text x="1518" y="592.7" font-size="23.4" text-anchor="middle">200</text><text x="1139.5" y="384.5" font-size="23.4" text-anchor="end">200</text><text x="1610.5" y="592.7" font-size="23.4" text-anchor="middle">250</text><text x="1139.5" y="477.1" font-size="23.4" text-anchor="end">250</text><text x="1703.1" y="592.7" font-size="23.4" text-anchor="middle">300</text><text x="1139.5" y="569.7" font-size="23.4" text-anchor="end">300</text><path d="M1240.8 564.2v5.5M1240.8 8.7v-5.5M1149.5 100.2h-5.5M1704.8 100.2h5.5M1333.4 564.2v5.5M1333.4 8.7v-5.5M1149.5 192.7h-5.5M1704.8 192.7h5.5M1425.9 564.2v5.5M1425.9 8.7v-5.5M1149.5 285.3h-5.5M1704.8 285.3h5.5M1518.5 564.2v5.5M1518.5 8.7v-5.5M1149.5 377.9h-5.5M1704.8 377.9h5.5M1611 564.2v5.5M1611 8.7v-5.5M1149.5 470.5h-5.5M1704.8 470.5h5.5M1703.6 564.2v5.5M1703.6 8.7v-5.5M1149.5 563.1h-5.5M1704.8 563.1h5.5" stroke="#666" stroke-width="1.0" fill="none"/><text x="1422.7" y="621.2" font-size="24.4" text-anchor="middle">pixel</text><text x="1093.5" y="287" font-size="24.4" text-anchor="middle" transform="rotate(-90 1093.5 287)">pixel</text><text x="1425.7" y="655.7" font-size="37" text-anchor="middle">(b)</text><g fill="none" stroke="#000" stroke-width="3.6"><circle cx="157.1" cy="926.5" r="6.8"/><circle cx="212" cy="922.5" r="6.8"/><circle cx="266.9" cy="920.9" r="6.8"/><circle cx="321.8" cy="908.5" r="6.8"/><circle cx="376.7" cy="895.2" r="6.8"/><circle cx="431.6" cy="889.2" r="6.8"/><circle cx="486.5" cy="885.6" r="6.8"/><circle cx="541.4" cy="871.5" r="6.8"/><circle cx="596.3" cy="866.4" r="6.8"/><circle cx="651.2" cy="864.7" r="6.8"/><circle cx="706.1" cy="864.3" r="6.8"/><circle cx="761" cy="862.8" r="6.8"/><circle cx="815.9" cy="856" r="6.8"/><circle cx="870.8" cy="855.5" r="6.8"/><circle cx="925.7" cy="854.4" r="6.8"/><circle cx="980.6" cy="844.8" r="6.8"/><circle cx="1035.5" cy="843.5" r="6.8"/><circle cx="1090.4" cy="843.1" r="6.8"/><circle cx="1145.3" cy="839.5" r="6.8"/><circle cx="1200.2" cy="837.1" r="6.8"/><circle cx="1255.1" cy="831.9" r="6.8"/><circle cx="1310" cy="831.5" r="6.8"/><circle cx="1364.9" cy="829.9" r="6.8"/><circle cx="1419.8" cy="815.4" r="6.8"/><circle cx="1474.7" cy="815.4" r="6.8"/><circle cx="1529.6" cy="810.6" r="6.8"/><circle cx="1584.5" cy="794.6" r="6.8"/><circle cx="1639.4" cy="783.4" r="6.8"/><circle cx="1694.3" cy="782.2" r="6.8"/><circle cx="1749.2" cy="776.6" r="6.8"/><circle cx="1804.1" cy="762.1" r="6.8"/><circle cx="1859" cy="762.1" r="6.8"/></g><polyline points="157.1,926.5 212,922.5 266.9,920.9 321.8,908.5 376.7,895.2 431.6,889.2 486.5,885.6 541.4,871.5 596.3,866.4 651.2,864.7 706.1,864.3 761,862.8 815.9,856 870.8,855.5 925.7,854.4 980.6,844.8 1035.5,843.5 1090.4,843.1 1145.3,839.5 1200.2,837.1 1255.1,831.9 1310,831.5 1364.9,829.9 1419.8,815.4 1474.7,815.4 1529.6,810.6 1584.5,794.6 1639.4,783.4 1694.3,782.2 1749.2,776.6 1804.1,762.1 1859,762.1" fill="none" stroke="#f00" stroke-width="3.3" stroke-linejoin="round"/><rect x="104.3" y="712.8" width="1922.7" height="232.2" fill="none" stroke="#000" stroke-width="2.3"/><path d="M376.7 945v-20M376.7 712.8v17.5M651.2 945v-20M651.2 712.8v17.5M925.7 945v-20M925.7 712.8v17.5M1200.2 945v-20M1200.2 712.8v17.5M1474.7 945v-20M1474.7 712.8v17.5M1749.2 945v-20M1749.2 712.8v17.5M104.3 790.2h18M2027 790.2h-22" stroke="#000" stroke-width="2" fill="none"/><path d="M104.3 867.6h18M2027 867.6h-22" stroke="#000" stroke-width="4" fill="none"/><text x="104.7" y="974.8" font-size="25" text-anchor="middle">0</text><text x="377.2" y="974.8" font-size="25" text-anchor="middle">5</text><text x="651.7" y="974.8" font-size="25" text-anchor="middle">10</text><text x="926.2" y="974.8" font-size="25" text-anchor="middle">15</text><text x="1200.7" y="974.8" font-size="25" text-anchor="middle">20</text><text x="1475.2" y="974.8" font-size="25" text-anchor="middle">25</text><text x="1749.7" y="974.8" font-size="25" text-anchor="middle">30</text><text x="2024.2" y="974.8" font-size="25" text-anchor="middle">35</text><text x="95" y="953.2" font-size="25" text-anchor="end">0</text><text x="95" y="875.8" font-size="25" text-anchor="end">10</text><text x="95" y="798.4" font-size="25" text-anchor="end">20</text><text x="95" y="721" font-size="25" text-anchor="end">30</text><rect x="118.3" y="725.6" width="345.4" height="82" fill="#fff" stroke="#000" stroke-width="2"/><circle cx="171.2" cy="748.2" r="6.8" fill="none" stroke="#000" stroke-width="3.4"/><path d="M132.3 782.3H208.5" stroke="#f00" stroke-width="4.2"/><text x="219.5" y="757.1" font-size="24.9" text-anchor="start">extracted phase-shift</text><text x="218.5" y="795.6" font-size="24.9" text-anchor="start">pre-set phase-shift</text><text x="47.5" y="828.9" font-size="39.4" text-anchor="middle" transform="rotate(-90 47.5 828.9)">phase-shift(rad)</text><text x="1062" y="1018.5" font-size="36.7" text-anchor="middle">frame</text><text x="1060.5" y="1062.2" font-size="36.5" text-anchor="middle">(c)</text><g fill="none" stroke="#000" stroke-width="3.6"><circle cx="157.1" cy="1325.7" r="6.8"/><circle cx="212" cy="1321" r="6.8"/><circle cx="266.9" cy="1319.1" r="6.8"/><circle cx="321.8" cy="1304.4" r="6.8"/><circle cx="376.7" cy="1288.8" r="6.8"/><circle cx="431.6" cy="1281.7" r="6.8"/><circle cx="486.5" cy="1277.5" r="6.8"/><circle cx="541.4" cy="1260.8" r="6.8"/><circle cx="596.3" cy="1254.7" r="6.8"/><circle cx="651.2" cy="1252.8" r="6.8"/><circle cx="706.1" cy="1252.3" r="6.8"/><circle cx="761" cy="1250.5" r="6.8"/><circle cx="815.9" cy="1242.5" r="6.8"/><circle cx="870.8" cy="1241.9" r="6.8"/><circle cx="925.7" cy="1240.5" r="6.8"/><circle cx="980.6" cy="1229.2" r="6.8"/><circle cx="1035.5" cy="1227.7" r="6.8"/><circle cx="1090.4" cy="1227.3" r="6.8"/><circle cx="1145.3" cy="1223" r="6.8"/><circle cx="1200.2" cy="1220.1" r="6.8"/><circle cx="1255.1" cy="1214" r="6.8"/><circle cx="1310" cy="1213.6" r="6.8"/><circle cx="1364.9" cy="1211.6" r="6.8"/><circle cx="1419.8" cy="1194.5" r="6.8"/><circle cx="1474.7" cy="1194.5" r="6.8"/><circle cx="1529.6" cy="1188.9" r="6.8"/><circle cx="1584.5" cy="1169.9" r="6.8"/><circle cx="1639.4" cy="1156.7" r="6.8"/><circle cx="1694.3" cy="1155.2" r="6.8"/><circle cx="1749.2" cy="1148.6" r="6.8"/><circle cx="1804.1" cy="1131.5" r="6.8"/><circle cx="1859" cy="1131.5" r="6.8"/></g><polyline points="157.1,1325.7 212,1321 266.9,1319.1 321.8,1304.4 376.7,1288.8 431.6,1281.7 486.5,1277.5 541.4,1260.8 596.3,1254.7 651.2,1252.8 706.1,1252.3 761,1250.5 815.9,1242.5 870.8,1241.9 925.7,1240.5 980.6,1229.2 1035.5,1227.7 1090.4,1227.3 1145.3,1223 1200.2,1220.1 1255.1,1214 1310,1213.6 1364.9,1211.6 1419.8,1194.5 1474.7,1194.5 1529.6,1188.9 1584.5,1169.9 1639.4,1156.7 1694.3,1155.2 1749.2,1148.6 1804.1,1131.5 1859,1131.5" fill="none" stroke="#0f0" stroke-width="3.3" stroke-linejoin="round"/><rect x="104.3" y="1117" width="1922.7" height="230.6" fill="none" stroke="#000" stroke-width="2.3"/><path d="M376.7 1347.6v-20M376.7 1117v17.5M651.2 1347.6v-20M651.2 1117v17.5M925.7 1347.6v-20M925.7 1117v17.5M1200.2 1347.6v-20M1200.2 1117v17.5M1474.7 1347.6v-20M1474.7 1117v17.5M1749.2 1347.6v-20M1749.2 1117v17.5M104.3 1270.7h18M2027 1270.7h-22" stroke="#000" stroke-width="2" fill="none"/><path d="M104.3 1193.9h18M2027 1193.9h-22" stroke="#000" stroke-width="4" fill="none"/><text x="104.7" y="1377.4" font-size="25" text-anchor="middle">0</text><text x="377.2" y="1377.4" font-size="25" text-anchor="middle">5</text><text x="651.7" y="1377.4" font-size="25" text-anchor="middle">10</text><text x="926.2" y="1377.4" font-size="25" text-anchor="middle">15</text><text x="1200.7" y="1377.4" font-size="25" text-anchor="middle">20</text><text x="1475.2" y="1377.4" font-size="25" text-anchor="middle">25</text><text x="1749.7" y="1377.4" font-size="25" text-anchor="middle">30</text><text x="2024.2" y="1377.4" font-size="25" text-anchor="middle">35</text><text x="95" y="1355.8" font-size="25" text-anchor="end">0</text><text x="95" y="1278.9" font-size="25" text-anchor="end">10</text><text x="95" y="1202.1" font-size="25" text-anchor="end">20</text><text x="95" y="1125.2" font-size="25" text-anchor="end">30</text><rect x="118.3" y="1129.8" width="345.4" height="82" fill="#fff" stroke="#000" stroke-width="2"/><circle cx="171.2" cy="1152.4" r="6.8" fill="none" stroke="#000" stroke-width="3.4"/><path d="M132.3 1186.5H208.5" stroke="#0f0" stroke-width="4.2"/><text x="219.5" y="1161.3" font-size="24.9" text-anchor="start">extracted phase-shift</text><text x="218.5" y="1199.8" font-size="24.9" text-anchor="start">pre-set phase-shift</text><text x="47.5" y="1232.3" font-size="39.4" text-anchor="middle" transform="rotate(-90 47.5 1232.3)">phase-shift(rad)</text><text x="1062" y="1421.1" font-size="36.7" text-anchor="middle">frame</text><text x="1060.5" y="1464.8" font-size="36.5" text-anchor="middle">(d)</text><g fill="none" stroke="#000" stroke-width="3.6"><circle cx="157.1" cy="1732.8" r="6.8"/><circle cx="212" cy="1728.6" r="6.8"/><circle cx="266.9" cy="1726.9" r="6.8"/><circle cx="321.8" cy="1714.1" r="6.8"/><circle cx="376.7" cy="1700.4" r="6.8"/><circle cx="431.6" cy="1694.1" r="6.8"/><circle cx="486.5" cy="1690.4" r="6.8"/><circle cx="541.4" cy="1675.9" r="6.8"/><circle cx="596.3" cy="1670.5" r="6.8"/><circle cx="651.2" cy="1668.8" r="6.8"/><circle cx="706.1" cy="1668.4" r="6.8"/><circle cx="761" cy="1666.8" r="6.8"/><circle cx="815.9" cy="1659.8" r="6.8"/><circle cx="870.8" cy="1659.3" r="6.8"/><circle cx="925.7" cy="1658.1" r="6.8"/><circle cx="980.6" cy="1648.1" r="6.8"/><circle cx="1035.5" cy="1646.9" r="6.8"/><circle cx="1090.4" cy="1646.5" r="6.8"/><circle cx="1145.3" cy="1642.7" r="6.8"/><circle cx="1200.2" cy="1640.2" r="6.8"/><circle cx="1255.1" cy="1634.8" r="6.8"/><circle cx="1310" cy="1634.4" r="6.8"/><circle cx="1364.9" cy="1632.8" r="6.8"/><circle cx="1419.8" cy="1617.8" r="6.8"/><circle cx="1474.7" cy="1617.8" r="6.8"/><circle cx="1529.6" cy="1612.8" r="6.8"/><circle cx="1584.5" cy="1596.2" r="6.8"/><circle cx="1639.4" cy="1584.6" r="6.8"/><circle cx="1694.3" cy="1583.3" r="6.8"/><circle cx="1749.2" cy="1577.6" r="6.8"/><circle cx="1804.1" cy="1562.6" r="6.8"/><circle cx="1859" cy="1562.6" r="6.8"/></g><polyline points="157.1,1732.8 212,1728.6 266.9,1726.9 321.8,1714.1 376.7,1700.4 431.6,1694.1 486.5,1690.4 541.4,1675.9 596.3,1670.5 651.2,1668.8 706.1,1668.4 761,1666.8 815.9,1659.8 870.8,1659.3 925.7,1658.1 980.6,1648.1 1035.5,1646.9 1090.4,1646.5 1145.3,1642.7 1200.2,1640.2 1255.1,1634.8 1310,1634.4 1364.9,1632.8 1419.8,1617.8 1474.7,1617.8 1529.6,1612.8 1584.5,1596.2 1639.4,1584.6 1694.3,1583.3 1749.2,1577.6 1804.1,1562.6 1859,1562.6" fill="none" stroke="#00f" stroke-width="3.3" stroke-linejoin="round"/><rect x="104.3" y="1520.5" width="1922.7" height="231.4" fill="none" stroke="#000" stroke-width="2.3"/><path d="M376.7 1751.9v-20M376.7 1520.5v17.5M651.2 1751.9v-20M651.2 1520.5v17.5M925.7 1751.9v-20M925.7 1520.5v17.5M1200.2 1751.9v-20M1200.2 1520.5v17.5M1474.7 1751.9v-20M1474.7 1520.5v17.5M1749.2 1751.9v-20M1749.2 1520.5v17.5M104.3 1694.1h18M2027 1694.1h-22M104.3 1636.2h18M2027 1636.2h-22M104.3 1578.3h18M2027 1578.3h-22" stroke="#000" stroke-width="2" fill="none"/><text x="104.7" y="1781.7" font-size="25" text-anchor="middle">0</text><text x="377.2" y="1781.7" font-size="25" text-anchor="middle">5</text><text x="651.7" y="1781.7" font-size="25" text-anchor="middle">10</text><text x="926.2" y="1781.7" font-size="25" text-anchor="middle">15</text><text x="1200.7" y="1781.7" font-size="25" text-anchor="middle">20</text><text x="1475.2" y="1781.7" font-size="25" text-anchor="middle">25</text><text x="1749.7" y="1781.7" font-size="25" text-anchor="middle">30</text><text x="2024.2" y="1781.7" font-size="25" text-anchor="middle">35</text><text x="95" y="1760.1" font-size="25" text-anchor="end">0</text><text x="95" y="1702.3" font-size="25" text-anchor="end">10</text><text x="95" y="1644.4" font-size="25" text-anchor="end">20</text><text x="95" y="1586.5" font-size="25" text-anchor="end">30</text><text x="95" y="1528.7" font-size="25" text-anchor="end">40</text><rect x="118.3" y="1533.3" width="345.4" height="82" fill="#fff" stroke="#000" stroke-width="2"/><circle cx="171.2" cy="1555.9" r="6.8" fill="none" stroke="#000" stroke-width="3.4"/><path d="M132.3 1590H208.5" stroke="#00f" stroke-width="4.2"/><text x="219.5" y="1564.8" font-size="24.9" text-anchor="start">extracted phase-shift</text><text x="218.5" y="1603.3" font-size="24.9" text-anchor="start">pre-set phase-shift</text><text x="47.5" y="1636.2" font-size="39.4" text-anchor="middle" transform="rotate(-90 47.5 1636.2)">phase-shift(rad)</text><text x="1062" y="1825.4" font-size="36.7" text-anchor="middle">frame</text><text x="1060.5" y="1869.1" font-size="36.5" text-anchor="middle">(e)</text><rect x="106.7" y="1911.5" width="533.5" height="534.4" fill="none" stroke="#000" stroke-width="2.2"/><text x="195.6" y="2479.1" font-size="25" text-anchor="middle">50</text><text x="96.2" y="2007.6" font-size="25" text-anchor="end">50</text><text x="284.5" y="2479.1" font-size="25" text-anchor="middle">100</text><text x="96.2" y="2096.6" font-size="25" text-anchor="end">100</text><text x="373.5" y="2479.1" font-size="25" text-anchor="middle">150</text><text x="96.2" y="2185.7" font-size="25" text-anchor="end">150</text><text x="462.4" y="2479.1" font-size="25" text-anchor="middle">200</text><text x="96.2" y="2274.8" font-size="25" text-anchor="end">200</text><text x="551.3" y="2479.1" font-size="25" text-anchor="middle">250</text><text x="96.2" y="2363.8" font-size="25" text-anchor="end">250</text><text x="640.2" y="2479.1" font-size="25" text-anchor="middle">300</text><text x="96.2" y="2452.9" font-size="25" text-anchor="end">300</text><path d="M194.1 2445.9v5.5M194.1 1911.5v-5.5M106.7 1998.7h-5.5M640.2 1998.7h5.5M283 2445.9v5.5M283 1911.5v-5.5M106.7 2087.7h-5.5M640.2 2087.7h5.5M372 2445.9v5.5M372 1911.5v-5.5M106.7 2176.8h-5.5M640.2 2176.8h5.5M460.9 2445.9v5.5M460.9 1911.5v-5.5M106.7 2265.9h-5.5M640.2 2265.9h5.5M549.8 2445.9v5.5M549.8 1911.5v-5.5M106.7 2354.9h-5.5M640.2 2354.9h5.5M638.7 2445.9v5.5M638.7 1911.5v-5.5M106.7 2444h-5.5M640.2 2444h5.5" stroke="#000" stroke-width="1.8" fill="none"/><text x="369.5" y="2523.4" font-size="36.3" text-anchor="middle">pixel</text><text x="33.2" y="2177.7" font-size="36.3" text-anchor="middle" transform="rotate(-90 33.2 2177.7)">pixel</text><text x="370" y="2568.9" font-size="35.5" text-anchor="middle">(f)</text><rect x="808" y="1909.8" width="535.5" height="536.4" fill="none" stroke="#000" stroke-width="2.2"/><text x="896.3" y="2479.4" font-size="25" text-anchor="middle">50</text><text x="796.5" y="2006.2" font-size="25" text-anchor="end">50</text><text x="985.5" y="2479.4" font-size="25" text-anchor="middle">100</text><text x="796.5" y="2095.6" font-size="25" text-anchor="end">100</text><text x="1074.8" y="2479.4" font-size="25" text-anchor="middle">150</text><text x="796.5" y="2185" font-size="25" text-anchor="end">150</text><text x="1164" y="2479.4" font-size="25" text-anchor="middle">200</text><text x="796.5" y="2274.4" font-size="25" text-anchor="end">200</text><text x="1253.3" y="2479.4" font-size="25" text-anchor="middle">250</text><text x="796.5" y="2363.8" font-size="25" text-anchor="end">250</text><text x="1342.5" y="2479.4" font-size="25" text-anchor="middle">300</text><text x="796.5" y="2453.2" font-size="25" text-anchor="end">300</text><path d="M895.8 2446.2v5.5M895.8 1909.8v-5.5M808 1997.3h-5.5M1343.5 1997.3h5.5M985 2446.2v5.5M985 1909.8v-5.5M808 2086.7h-5.5M1343.5 2086.7h5.5M1074.3 2446.2v5.5M1074.3 1909.8v-5.5M808 2176.1h-5.5M1343.5 2176.1h5.5M1163.5 2446.2v5.5M1163.5 1909.8v-5.5M808 2265.5h-5.5M1343.5 2265.5h5.5M1252.8 2446.2v5.5M1252.8 1909.8v-5.5M808 2354.9h-5.5M1343.5 2354.9h5.5M1342 2446.2v5.5M1342 1909.8v-5.5M808 2444.3h-5.5M1343.5 2444.3h5.5" stroke="#000" stroke-width="1.8" fill="none"/><text x="1071.3" y="2523.7" font-size="36.3" text-anchor="middle">pixel</text><text x="734.8" y="2177" font-size="36.3" text-anchor="middle" transform="rotate(-90 734.8 2177)">pixel</text><text x="1071.3" y="2569.2" font-size="35.5" text-anchor="middle">(g)</text><rect x="1511.8" y="1911.8" width="535.1" height="534.1" fill="none" stroke="#000" stroke-width="2.2"/><text x="1593.5" y="2479.1" font-size="25" text-anchor="middle">50</text><text x="1497.3" y="2007.8" font-size="25" text-anchor="end">50</text><text x="1682.7" y="2479.1" font-size="25" text-anchor="middle">100</text><text x="1497.3" y="2096.8" font-size="25" text-anchor="end">100</text><text x="1771.9" y="2479.1" font-size="25" text-anchor="middle">150</text><text x="1497.3" y="2185.9" font-size="25" text-anchor="end">150</text><text x="1861" y="2479.1" font-size="25" text-anchor="middle">200</text><text x="1497.3" y="2274.9" font-size="25" text-anchor="end">200</text><text x="1950.2" y="2479.1" font-size="25" text-anchor="middle">250</text><text x="1497.3" y="2363.9" font-size="25" text-anchor="end">250</text><text x="2039.4" y="2479.1" font-size="25" text-anchor="middle">300</text><text x="1497.3" y="2452.9" font-size="25" text-anchor="end">300</text><path d="M1599.5 2445.9v5.5M1599.5 1911.8v-5.5M1511.8 1998.9h-5.5M2046.9 1998.9h5.5M1688.7 2445.9v5.5M1688.7 1911.8v-5.5M1511.8 2087.9h-5.5M2046.9 2087.9h5.5M1777.9 2445.9v5.5M1777.9 1911.8v-5.5M1511.8 2177h-5.5M2046.9 2177h5.5M1867 2445.9v5.5M1867 1911.8v-5.5M1511.8 2266h-5.5M2046.9 2266h5.5M1956.2 2445.9v5.5M1956.2 1911.8v-5.5M1511.8 2355h-5.5M2046.9 2355h5.5M2045.4 2445.9v5.5M2045.4 1911.8v-5.5M1511.8 2444h-5.5M2046.9 2444h5.5" stroke="#000" stroke-width="1.8" fill="none"/><text x="1768.8" y="2523.4" font-size="36.3" text-anchor="middle">pixel</text><text x="1434.3" y="2177.8" font-size="36.3" text-anchor="middle" transform="rotate(-90 1434.3 2177.8)">pixel</text><text x="1774.3" y="2568.9" font-size="35.5" text-anchor="middle">(h)</text></svg>
</body></html>
